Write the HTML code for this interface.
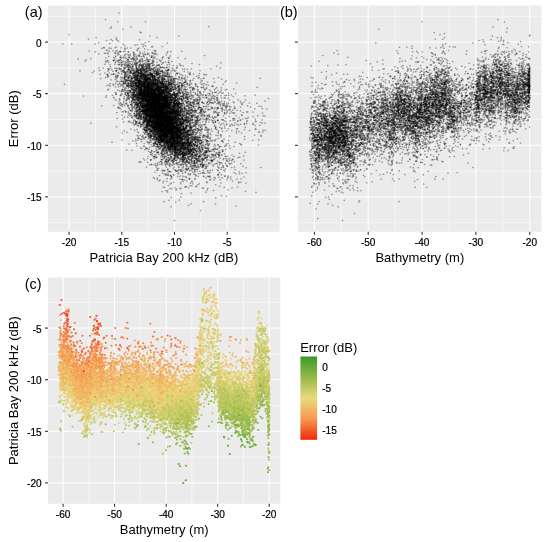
<!DOCTYPE html><html><head><meta charset="utf-8"><title>Figure</title><style>html,body{margin:0;padding:0;background:#fff}svg{display:block}text{font-family:"Liberation Sans",Arial,sans-serif;fill:#000}.t{font-size:10.1px;fill:#000;stroke:#000;stroke-width:.2}.l{font-size:13px}.p{font-size:14.5px}.g{stroke:#fff;fill:none}.k{stroke:#222;stroke-width:1;fill:none}.d{fill:none;stroke-linecap:round}</style></head><body><svg width="550" height="542" viewBox="0 0 550 542"><rect width="550" height="542" fill="#fff"/><rect x="48.0" y="5.6" width="231.7" height="226.2" fill="#ebebeb"/><path class="g" stroke-width=".5" d="M95.5 5.6V231.8M148.2 5.6V231.8M200.8 5.6V231.8M253.6 5.6V231.8M48.0 16.3H279.7M48.0 67.9H279.7M48.0 119.5H279.7M48.0 171.1H279.7M48.0 222.7H279.7"/><path class="g" stroke-width="1" d="M69.1 5.6V231.8M121.8 5.6V231.8M174.5 5.6V231.8M227.2 5.6V231.8M48.0 42.1H279.7M48.0 93.7H279.7M48.0 145.3H279.7M48.0 196.9H279.7"/><path class="k" d="M69.1 231.8v3M121.8 231.8v3M174.5 231.8v3M227.2 231.8v3M48.0 42.1h-3M48.0 93.7h-3M48.0 145.3h-3M48.0 196.9h-3"/><text class="t" x="69.1" y="246.3" text-anchor="middle">-20</text><text class="t" x="121.8" y="246.3" text-anchor="middle">-15</text><text class="t" x="174.5" y="246.3" text-anchor="middle">-10</text><text class="t" x="227.2" y="246.3" text-anchor="middle">-5</text><text class="t" x="41.7" y="46.5" text-anchor="end">0</text><text class="t" x="41.7" y="98.1" text-anchor="end">-5</text><text class="t" x="41.7" y="149.7" text-anchor="end">-10</text><text class="t" x="41.7" y="201.3" text-anchor="end">-15</text><rect x="298.0" y="5.6" width="243.5" height="226.2" fill="#ebebeb"/><path class="g" stroke-width=".5" d="M341.3 5.6V231.8M395.2 5.6V231.8M449.0 5.6V231.8M502.8 5.6V231.8M298.0 16.3H541.5M298.0 67.9H541.5M298.0 119.5H541.5M298.0 171.1H541.5M298.0 222.7H541.5"/><path class="g" stroke-width="1" d="M314.4 5.6V231.8M368.2 5.6V231.8M422.1 5.6V231.8M475.9 5.6V231.8M529.8 5.6V231.8M298.0 42.1H541.5M298.0 93.7H541.5M298.0 145.3H541.5M298.0 196.9H541.5"/><path class="k" d="M314.4 231.8v3M368.2 231.8v3M422.1 231.8v3M475.9 231.8v3M529.8 231.8v3M298.0 42.1h-3M298.0 93.7h-3M298.0 145.3h-3M298.0 196.9h-3"/><text class="t" x="314.4" y="246.3" text-anchor="middle">-60</text><text class="t" x="368.2" y="246.3" text-anchor="middle">-50</text><text class="t" x="422.1" y="246.3" text-anchor="middle">-40</text><text class="t" x="475.9" y="246.3" text-anchor="middle">-30</text><text class="t" x="529.8" y="246.3" text-anchor="middle">-20</text><rect x="48.0" y="277.6" width="232.3" height="226.2" fill="#ebebeb"/><path class="g" stroke-width=".5" d="M88.9 277.6V503.8M140.4 277.6V503.8M191.9 277.6V503.8M243.5 277.6V503.8M48.0 302.3H280.3M48.0 353.9H280.3M48.0 405.5H280.3M48.0 457.1H280.3"/><path class="g" stroke-width="1" d="M63.1 277.6V503.8M114.6 277.6V503.8M166.2 277.6V503.8M217.7 277.6V503.8M269.2 277.6V503.8M48.0 328.1H280.3M48.0 379.7H280.3M48.0 431.3H280.3M48.0 482.9H280.3"/><path class="k" d="M63.1 503.8v3M114.6 503.8v3M166.2 503.8v3M217.7 503.8v3M269.2 503.8v3M48.0 328.1h-3M48.0 379.7h-3M48.0 431.3h-3M48.0 482.9h-3"/><text class="t" x="63.1" y="518.3" text-anchor="middle">-60</text><text class="t" x="114.6" y="518.3" text-anchor="middle">-50</text><text class="t" x="166.2" y="518.3" text-anchor="middle">-40</text><text class="t" x="217.7" y="518.3" text-anchor="middle">-30</text><text class="t" x="269.2" y="518.3" text-anchor="middle">-20</text><text class="t" x="41.7" y="332.5" text-anchor="end">-5</text><text class="t" x="41.7" y="384.1" text-anchor="end">-10</text><text class="t" x="41.7" y="435.7" text-anchor="end">-15</text><text class="t" x="41.7" y="487.3" text-anchor="end">-20</text><text class="p" x="24.8" y="17.2">(a)</text><text class="p" x="279.9" y="17.2">(b)</text><text class="p" x="24.7" y="289.1">(c)</text><text class="l" x="163.8" y="262.3" text-anchor="middle">Patricia Bay 200 kHz (dB)</text><text class="l" x="419.8" y="262.3" text-anchor="middle">Bathymetry (m)</text><text class="l" x="164.2" y="534.3" text-anchor="middle">Bathymetry (m)</text><text class="l" transform="translate(18.2 118.7) rotate(-90)" text-anchor="middle">Error (dB)</text><text class="l" transform="translate(18.2 390.7) rotate(-90)" text-anchor="middle">Patricia Bay 200 kHz (dB)</text><defs><linearGradient id="cb" x1="0" y1="0" x2="0" y2="1"><stop offset="0" stop-color="#3b9a2a"/><stop offset=".25" stop-color="#95b947"/><stop offset=".5" stop-color="#ead97c"/><stop offset=".75" stop-color="#f79850"/><stop offset="1" stop-color="#ee2a0c"/></linearGradient></defs><text class="l" x="300.2" y="351.7">Error (dB)</text><rect x="300.4" y="356.5" width="16.7" height="83.3" fill="url(#cb)"/><text class="t" x="322.2" y="370.7">0</text><text class="t" x="322.2" y="391.8">-5</text><text class="t" x="322.2" y="412.8">-10</text><text class="t" x="322.2" y="433.9">-15</text><defs><marker id="m" markerUnits="userSpaceOnUse" markerWidth="12" markerHeight="12" refX="6" refY="6" viewBox="0 0 12 12" overflow="visible"><circle cx="6" cy="6" r="3.4" fill="#000" fill-opacity="0.38"/></marker></defs><g transform="scale(.25)" fill="none" stroke="none" marker-start="url(#m)" marker-mid="url(#m)" marker-end="url(#m)"><path d="M476 52l106 35-111 1-49-10 20 35 3-5 46 9 33-9 311-2-271 24-3-2-285 10 78 18 30-6 42 12 18-4 6 5 15-6 1-6 3 10 5 4 84-6 37 7 4-22 29 6 87-6-46 28-19 14-40 0-3 2-24-4-2-14-6 9-2 8-5-10-12 15-7-13-8 1-18 12-24-9-6-6-8 14-20-3-5 3-21-17-22 17-2-1-20-19-14 5-94 0-36-1 106 29 24 3 14 9 13-23 10 20 5 0 2-12 6-1 1 15 0-5 6-6 0-12 6 1 8 10 8 8 1 2 2-8 5-3 1 12 3-4 4-2 4-4 2 2 1 1 11-1 5-13 1 4 0 8 8-13 5 16 1-1 6 9 14-7 1 2 1 2 13-11 1-3 2-5 7 22 1-9 2 5 9 2 7-6 1-13 11 18 2-14 3 16 13-4 3 1 2 0 4-10 2 13 2-12 2 1 0 9 46-2 2-5 12 0 44-1 91 17-77 12-29-4-31-6-4 8-1 2-3-4-8-11-12 8-3 3-1 6-20-18-1 18-8-8-1-11-2 16-3-1-1-8-3 16-3-13 0-4-1 7 0-1-7-6-4 15-4-20-1 21-2-8-1 5-5-18 0-1-4 11-2-10-2 5-1 2-3 10-1 3-4-11-1 9-6-12-2 0 0-4-4 3-4 12 0 2-1-6-2-5-2-7-3 15-2-7-1 12-1-20 0 4 0 12-1 2 0-19-2 12-2 3-2 1-2 3-4-2-2-13-2 6-2 3-3-9 0 7-1 10-1-21 0 19-1 1-6-4-1-18-3 13-2-10-1 4-3 9-3-3-6 3-2-9-1 6-1 9-1-1-1-8-3 11-1-23-4 3-10 4 0 4-4 8-3-6-20-4-11 6-60 2-19 5-32-4 27 9 80 13 2-12 2 3 6-5 1-1 4 7 5 9 14-16 0 0 2-1 3 16 3-6 0-5 5-5 5 2 0 3 1 12 3-16 0 8 1 8 1 0 5-7 2-9 0 18 1-12 1 11 0-7 2 7 3-11 0-4 2 13 5 4 0-1 1-8 1-6 2 10 2 5 1-11 2-7 0 21 2-6 2 3 0-9 0 9 0-15 1 15 1-17 1 13 2 5 0-15 3 16 0-9 1-6 3 9 4 2 0-14 2 18 1-11 1 11 2-5 1-15 5 10 0-4 0 8 1-3 0 5 2-18 0 22 0-18 2 11 0 8 1-1 1-7 0-4 0 0 1 4 2-4 2-5 4 14 2-2 0 2 0-14 0-1 0-6 1 1 0 21 2-7 1 7 0-4 0-10 1-4 2 18 3-3 0 2 1-18 1 16 1-12 2 12 0-4 1 6 3-18 1 11 1 2 3 4 1-18 1 7 0 13 1-5 3-3 1 3 1-16 1 3 0 18 0-1 1-7 2-9 0 2 0 10 1 2 0-13 1 18 0-3 0-5 2 7 1-4 0-2 0-4 1-13 4 14 3-1 2 10 1-15 1 13 0-15 0 7 1 8 1-11 0-8 3 2 1 15 9 2 2-12 2 13 0-1 6 0 0-1 0-1 1-19 5 2 2 4 3 11 4-6 2 0 9-4 7 12 4-9 2-7 1 8 2 7 9-12 6 16 15 2 11-9 1 5 4 2 9 2 35-10 30 4 85-7-2 21-15-7-23 10-43 7-34-7-14 13-2-11-11-1-2 10-6-10-22-5-3 1-3 10-4 4-2-6-5 2-1-6-3-4-4 12-7-16-1 10-1 1-2 2-1 1 0-6 0 6-3-1-1-12-1 15 0-14-2 13-3-2-2-9-3-2-1 17-4-18-1 1-2 15 0-3-1 1 0 2-2 0 0-15-2 0-2 14-1-16 0 17 0-18-2 7-1 4-2 4-2-11 0 16 0-6-2 7-1-9 0-4-2 7 0-6-1 10 0-2-1 2-2 0-1-16 0-3-1 10 0 3-2 5-1-1-1 4 0-15-3-1 0-2 0 11-1 5 0-2-1-2-1-5-1-3 0 14-3-10-1-2-1 4-2-5-1 0 0 9-1-8-1-5 0 12-1-17-2 15-1 0 0-4-1-8 0 1 0 3 0 1-1 1 0-10-1 16-1 2 0 2-1-17 0 5-3-5 0 10-1 5 0-10 0 15-1-23 0 5 0 16-1-8-1 2 0-8 0 0 0 15-1-3 0-8 0-11 0 20-1-11-1 13 0-22-1 22 0-12-1 12-1-7-1-8 0 9 0 0 0-2 0-11-3-1 0 15-1-7 0 2 0 8-1 1 0-6 0-16-1 6 0 6-1 3-1-12 0 6 0 4 0-7-1 12-1-10 0-7 0 18 0-19-1 12-1-9 0 5 0 10-1 3 0-14-1 17 0-4 0-9 0 4-1 2 0 6-1-4-1 4 0-13 0 3 0 10-1-6 0 7-1-6 0-6-2 4-1-13 0 3-1 9-1 0 0-12 0 11-1 4 0-8-1 9 0 1-2 1-1-4-1-1 0 5 0-7-1-3 0 1-1-5 0 15 0-12-1 9 0-10 0 10 0-17-1 16-1-12 0 17-1-11 0 9-6 2 0-10-1 5 0 2-2-1-2-5-1 5 0-10 0-6-1 7 0-7-2 13-2-8-1 6-1 6 0-13-1 15-1 2 0-21-1 16 0 2 0-1-1-14-2-5-1 13-1-6-1 11 0-5-1-2 0-7 0 8-1-7-1 10 0-2-2-12-1 20-1-1-2-18-4 6-1-4-2 17 0 1-1-14-1 5 0-6-1 11-2-14-1 12-2 2-1 3-3-6-1-15-1 10 0 10-4-11-1 4-3-6-1 4-8 5 0-7-3-2 0 14 0-3-3-1-3-9-7 12-5-7-5-12-1 7-5 6-2-2-2 7-1-10-18-2-15 10-2-10-20 12-56-1 50 7 31 7 19-5 2 18 6-12 1 0 1 10 2-5 0-3 2 6 3-14 9 6 4-1 5 0 0-2 7 12 1-7 1 8 3-3 1 5 3-7 0-3 0 6 2-16 3 3 7 15 4-16 0 5 1 12 6-21 1 0 2 22 1 0 0-5 1-12 0 7 0-1 0 12 1-16 0 10 0-14 1 10 0-10 1 18 1-18 1 7 1 8 1-16 0 16 1-5 2-5 2 16 1-23 0 18 0-4 1-6 1 13 1 2 0-5 1 0 1-15 2 10 0-2 1 8 1-18 0 0 2 2 0 10 0-10 1 15 2-18 1 20 1-15 1 0 1 13 2-9 1-6 1 9 0-2 0 12 1-14 0 4 0-9 0 13 0-13 1 17 0-18 1 19 1-16 0 9 0 6 0 1 1-14 0-3 0 1 1 16 0-1 1-8 0 1 0-11 0 13 1 5 0-19 1 14 0-7 1 10 0-17 0 13 0 2 1-17 0 16 1-8 1 0 0 4 0 9 1-3 0 3 1-18 0 19 0-8 0 6 1 4 0-24 0 16 0-3 0 3 0-16 1 15 0 3 1-8 0 0 0-8 1 3 0 12 0-15 0 0 0 12 1-1 1-4 0 6 0 8 0-18 2 0 0 1 1-4 1 4 0 0 1 11 0 2 0 4 1-11 0 5 0 5 0-5 0-12 0 9 1 0 2-10 0 18 0-15 0 5 0 3 0 4 0 1 1-17 0 4 0 3 0 0 0 5 0-9 1 5 0 3 0-10 0 12 1-12 0 11 1 5 0 0 1-16 0 18 1-18 0 12 0-5 1-7 0 9 1-3 0 11 0-14 1 2 0 3 0 5 0-3 0-3 0 12 1-6 0-10 0 2 1 2 0 12 0-11 1 8 0-3 0-5 0-7 0 9 1-2 0-8 0-4 1 18 0 2 0 4 0-14 1 14 0-17 0 5 1 7 0-5 0-13 1 12 0 3 0-1 0 5 0-6 1 7 0-5 0-10 0 14 1-3 0 4 0-9 1-11 0 16 0 2 0 3 1-13 0 7 0 8 1-12 0-2 0 8 2-11 0 17 1-11 0 0 1 3 0-15 0 20 1-10 0 9 1-6 0 10 0-2 1-13 0 15 0-13 1 10 0-15 0 6 1 11 0 1 1-10 0-1 0 3 1 8 0-21 0 17 1-14 1 4 1 14 0-22 0 9 0-1 1-5 1 17 0-8 0-12 1 2 0 4 0 4 0 7 0-3 1-10 1 8 0 5 0-11 1 6 0-5 0 13 0-13 1-1 0-1 0 4 0 4 1-7 1 6 0-3 0-5 0 6 0 3 1 7 0 1 0-6 0 2 1 3 0-9 0 0 0 6 1-13 0 17 1-7 0-2 1 6 0 0 1 3 1-9 0-10 2 10 0-11 0 13 0 2 1-1 0 2 0 0 0 0 1-12 1 3 0 7 1 6 2-18 1 17 1-16 0 1 0 3 0-6 1 1 0 6 0-8 0-2 0 7 1 4 0-7 0 10 1-7 0 5 2-3 0 11 1 2 0-17 1-3 0 2 1 4 0 0 1 12 0 0 1-4 0-12 1 3 0 5 1 3 1 7 0-16 1-7 0 16 2-1 0-9 0 0 1 14 2 1 2-4 2-4 0-13 1 23 1-22 0 21 0-5 1-10 0-4 0 9 1 2 1 0 0 9 3-19 1 11 1 5 1-5 0-5 0 6 0-13 3 14 0-11 2 10 0-1 3-13 0 10 0-6 0 12 2-16 1 9 0 7 0 2 0-12 1 1 2 11 0-16 1 13 2 0 1 3 1-10 0 9 1-2 2 5 2-18 1 12 1 8 4-6 0 5 12-9 1-6 4-2 1-2 1 2 6 13 0-15 2 16 1 3 2-14 6 3 0 11 1 0 4-9 9 9 2-8 8 5 7-13 2 1 2-6 0 8 13-2 13 9 7 7 1-10 1 8 2-16 17 3 5 3 6-2 48 12 167 3-95 18-41-9-4 5-14-10-29 12-3-15-25 14-12 7-2-22-2 0-2 22-3-12-5 1 0-8-2 15-20 4-7-22-5 7-4 14-5-12 0 7 0-6-11 12-2-3-1-12-2 7-4-3 0-5 0 11 0-2-3 1-1-14 0 15-1-17-3 19-1 3-2-21-1 10-3 11-1-1-1-15-1 12-4-1-1 1-1-12-5-2 0 10 0 6-5-18-4-2-1 15-1-13-2 0 0 15-1-7 0-1-1-9-2 16 0-10 0-2 0 2-1 8 0-13 0 21 0-6-3-6 0 3 0 7-2 3-1-18-1 15 0-1-2-12 0 5 0-5-1 5 0 9 0 1 0 1 0-21-1 4 0 17-1-8 0-5-2 7 0 1-2 1-2-13 0 12 0-16-1 10 0 4 0 3 0 2 0-13-1 8-1 4 0-10-1-6 0 18-1-9-1-11-1 10 0 10-3-7 0-3-1-2 0 4 0 8-1-2-3-14-1 0 0 10-1-14 0 11-1 2 0-11-1 17 0-8 0-10 0 0-1 18-1-19-1-3-1 8-1 12 0-11 0 13 0-7-1-7 0 8 0-4-1 3 0 7 0-9 0 11-1-21 0 20 0-6 0-12 0 17 0-2-1-17 0 0 0 14 0-11-1 17 0-17 0 12 0-4 0 8-1-15 0 4 0 11 0 0-1-5 0 2-1-5-2 9 0 0 0-4-1-3-1-14 0 20 0-5 0 3-1-7 0 4-1-6 0-3-1 3 0 6 0 3 0 2-1-15 0-7-1 4 0 7 0-7-1 15-2-7 0-1 0 4 0 9-1-15 0-7 0-1 0 18 0-5 0 3 0-2-1 1 0-9-1 9 0-8 0 6-1-5 0 12-1 3 0-3 0-12-1 14-1-18 0 3-1 10 0-1 0 3-1-13 0-2 0 7 0-7 0 16 0-15-1 3 0 5 0 7 0-15-1 15 0-3 0-4 0 7 0 2 0-5-1-9 0-4 0 19 0-23 0 9-1 0 0-3 0-1-1 15 0-2 0-18 0 3 0-3-1 22-1-6 0-2-1-3 0 0 0-2-1 14 0-4 0-13 0 10 0-10-1 15 0 0 0-7 0 0-1 4 0-11 0-6 0 17 0 4 0-19-1 5 0 12 0-15-1-4 0 14 0-4 0 10-1-1 0 0 0 3 0-6-1-2 0-7 0 5 0 7-1-10 0 6 0-11-1 13 0 4 0-13-1 3-1-1 0-5-1-2 0 18-1-12 0-4 0 9-1 3 0-2 0-13 0 12 0-12-1 16 0-2 0-17 0 2 0 2 0-2 0 18-1-16 0 6 0 2 0-6 0 11 0-16-1 13 0-8 0-4 0 18 0-5 0-12 0 2-1-3-1 15 0 0 0-6 0 7 0-18-1 14 0 9 0-9-1-13 0 16 0-12 0 13 0-17 0 20 0 0-1-3 0-2-1-13 0 19 0-10 0-3 0-1 0 13-1-17 0 17 0-15 0 2 0-8 0 5 0 16-1-22 0 1 0 5-1 10 0-8-1 0 0 9 0-4 0 3 0-9 0 5-1-7 0 18 0-16-1 0 0 6 0-9 0 14 0 1 0-18 0 7-1 8 0-16 0 22-1-14 0-5 0 20 0-10-1-6 0 8 0-1 0 1-1-10 0 10 0-7 0 7 0 3 0-10 0 16-1-19 0 10 0-11 0 11 0-11 0 3-1 8 0-3 0-10 0 5 0 16-1-1 0-8 0-5 0 13 0 1 0-8-1-5 0-1-1-4 0 1 0-5 0 17-1 0 0-13 0 11 0-13 0 18 0 2-1-14 0 12 0-14 0 8-1 3 0-5-1-8 0 14 0 3 0-5-1-6 0 6 0-4-3-12 0 12 0 4 0 5 0-8-1 7 0 3 0-22 0 18 0-15 0-1-1 17 0-18 0 12-1 0 0-15 0 16-1 7-1-14 0 5 0-2 0-1 0 1-1 9 0-19 0 9-1 12 0-8 0 7 0-3 0-11 0 12-1-8 0 0-1 9 0-11 0-4 0 0 0-2-1 8 0-9 0 21 0-6-1-8 0 2 0-2 0 0 0-9-1 17 0-6 0 12 0-6 0 0 0-1 0-17 0 20-1-8 0 1 0 11-1-12 0 6 0-2 0 7 0-5-1-6 0 3 0 7 0-16 0 4 0 0-1 12-1-21 0 5 0 6 0 9-1-10 0-5 0-1-1 6 0 5 0-12 0 14-1-17 0 20 0-19 0 9 0-3-1 10 0-17-1 21 0-19 0 0 0 20-1-3 0-10 0 0 0 9-1-10 0 3 0-4 0 16 0-4-1-2 0-16-1 20 0-3 0-14 0 17 0-16-1-1 0 17-1 0 0-7 0 5-1-8 0-9 0 17 0-1 0-13 0 2-1 13 0-12-1-9-1 20-1-10 0 4-1 1-1 0 0-4-2 5 0 7 0-3 0-19-1 15 0-1 0 8-1-4-1-17 0 14-1-14 0 5-1 1 0 4-1-9 0-3 0 1 0 2-1 12 0 4 0 4-1-1 0-11 0 0-1 7-1-3-1-8-1 8 0 8 0-13-1 2-1-12-3 8 0 15-1-4 0-9 0-1 0 11-1-18-1 20-2-2 0-10-1 1 0-2-2-4-1 5-2 12 0-8 0-4-1 6 0-10-1 6-1-8 0 14 0-8-2 13 0-2-1 0 0-15 0-2-1-4-2 15 0 6 0 1-1-5 0-5-1 10-2-22-1 15-2-8 0 5-3 2-2-11 0 10-4 9-2-6-7-4-4-9 0 11-4 8-1-16-17 1-3 15-38-20-145 23 170 5 4 18 2-4 1-16 5 4 12-7 2 4 8 6 9-9 3 0 0 9 8-3 2-6 2 2 3 19 0-2 2-11 1-7 0 0 0 19 2-10 3 11 2-6 0 7 3-10 2 5 2-14 1 2 0-5 0 8 2-4 2 2 1 1 0 0 1 7 0-16 0 4 1-1 1 6 1-5 0 9 4-7 0 7 1-6 1-1 1 1 1-3 0 11 1-6 0-9 0 8 1 4 0 7 0 5 0-7 0-11 0-6 3 20 0 1 0-12 1-5 0 5 0 6 1-7 1 8 0 5 0-12 1 13 0-20 0 4 0 3 1-7 1 12 0-8 0 12 1 4 0 1 1 1 0-12 2 0 0-7 0 9 1-14 1 19 0-13 0 1 1 14 0 2 0-17 1-5 0 15 0-12 0 5 2 8 0-1 0-10 0 12 1-7 0 10 0-12 0 7 0-12 1 13 0-9 0-1 0 14 0-5 1-12 0 14 1-13 0 8 0-7 0 0 0 2 1 1 0 9 1-11 0 3 1 3 0-3 1 12 0-13 0-3 0 18 0-7 0-9 1 4 0-5 0 2 0-6 1 10 0-4 0 0 0 2 0 8 1 0 0 3 0-6 0-14 0 12 1-3 0 9 0-17 0 5 0 8 1-14 0 3 0 6 0-9 0 19 1-1 0-7 0 1 1-10 0-3 1 10 0 9 1-5 0-2 0 8 0-8 0 8 0-21 0 13 1 3 0-1 0-11 0 16 0-7 1-10 0 20 0-3 0-19 0 5 0 0 0 12 1-15 0 7 0 11 0-1 0-1 1-11 0-3 0 19 0-18 0 8 1 5 0 2 1-16 0 8 0 7 0-9 1-11 0 9 0-3 1 16 0-19 0 11 0-4 0-3 1-4 0 5 0 9 0-6 2 2 0-12 0 19 0-12 0-4 0-1 1 4 0 15 1-4 0-16 0 5 0-6 0 21 0-22 0 8 0-7 1 3 0 0 0-2 0 2 1 7 0-8 0-2 0 13 0-1 0-6 0 12 1-3 0 6 0 0 0-14 0 2 0 6 0-6 1 2 0 9 0-13 0 11 0 2 0-5 1 1 0 6 0-16 0 3 0 4 0 6 1-18 1 8 0 3 0-12 0 14 0-6 1 1 0 1 0 12 0-14 0-9 0 13 1 2 0 8 0-16 1-2 0 7 0-4 1 15 0-7 0-10 0 11 0-1 1 2 0-9 0 5 0 4 0-1 1 1 0-4 0-10 0 1 0-4 1 15 0-8 0-5 0 17 0 3 0-6 0 1 0-17 1 22 0-22 0 1 0 12 0-6 0 6 0 6 0-7 0 7 1-18 0 10 0 2 0-14 0 15 0-3 1-3 0-2 0-3 0 11 0-10 0-4 1 8 0 2 0 0 0-2 0 3 0 12 1-22 0 12 0 5 0 4 0-19 0 0 0 2 0 5 0-3 0-7 0 10 0 8 0 1 1-15 0-1 0 3 0 17 0-20 0 17 0 2 0-14 0 10 1-12 1 0 0 16 0-5 0-13 0 12 0 4 0-19 1 17 0-2 0-2 0 6 0-2 0-10 0-6 0-1 0 0 0 22 0-14 0 11 1-18 0 4 0 7 0 8 0-12 1 9 0-13 0 11 0-5 0-10 1 14 0 7 0-8 0-9 1 4 0 3 0-5 0 9 0-12 0 11 1-15 1 0 0-1 0 18 0 4 0-17 0 16 0 0 0-15 0 6 1 7 0-13 0 3 1 13 0-3 0-17 0 5 0 10 0-1 1 1 0-4 0 9 0-5 0-3 0-5 0-4 1-2 0 6 0-8 0 1 1 16 0-1 0-1 0-1 0 5 1-7 0 9 0-2 1-20 0 17 0 7 0-20 0 1 0 0 1-1 0-3 0 18 0-9 0 1 0 1 0-8 0 4 1 1 0 12 0 1 1-1 0-7 0 10 1-2 0 2 0-13 0-1 1-5 0 16 0-20 1 8 0 5 0-2 1 9 0-19 0 3 0 8 1 7 0 0 0-11 0-6 1 19 0 0 0-18 1 16 0-12 0-4 0 15 0-3 1 1 0-11 0 1 0 10 0-11 0-5 0-1 1 21 0 1 0-5 0 4 0-18 0 13 0-15 1 22 0-15 0-6 1 9 0-7 0 16 1 2 0-13 0 12 0 3 0-20 0 12 1-3 0 4 0 2 0-11 1 3 0-5 0 6 0 2 1 3 0 4 0-9 0-11 0 0 0 15 1 7 0-19 1 7 0-9 0 3 0 13 0-18 0 1 0 15 1 4 0 3 0-12 0 10 0-12 0 13 0-20 1 0 0 2 0 7 0 3 0 6 0-4 0-4 1 7 0-8 0-7 0 8 0-3 0 6 1-11 0 11 0 9 0-5 1 1 0-6 1 9 0-3 0-9 0 5 1 5 0-7 0 2 0-3 0 4 1-13 0 4 1 0 0-3 0 11 1-4 0-2 1 10 0 2 0-7 0 4 0-7 0-4 1 13 0-9 0 11 0-6 1 2 0-5 0-7 0 7 0-14 1 13 0-12 0 16 1-5 0-12 1 23 0-1 0-3 0-7 1-2 0-3 0 7 0 0 1-9 0 7 1 1 0 0 0-8 0-1 1-2 1-1 0 9 0 14 0-18 0 16 1-21 0 6 0 14 0-6 1-8 0-7 0 13 0 0 0 8 0-19 0 20 1-7 0-13 0 7 1-6 0 6 0 14 0-10 1-6 0-2 0 14 1-9 0 4 0 3 1-17 0 23 1-10 0 3 1-12 0 18 0-11 0 12 0-6 1-7 0-3 0 3 0-9 0 17 1-9 0-7 0 3 1 17 0-10 0 5 0 4 0-10 1 5 0 6 0-18 0 3 0 7 1-1 0 3 0-10 0 8 1 8 0 0 0-8 1 5 1 2 0-12 0 8 1-4 0-3 0 5 0 2 0 5 1-3 0-4 0-11 0 11 0 2 0-2 1-7 0-3 0 5 0 10 2-17 1 17 0-15 1 9 0-14 0 19 0-16 0-1 1 5 0-6 1 19 0-9 1-1 1 4 2 4 0 5 1-20 0 13 0-14 0 21 1 1 0-6 0-12 1 18 0-21 0 15 0 0 1-10 0-2 0 5 1-10 2 11 1 3 0-2 1 3 0-7 1 14 0-2 0 2 2-22 1 21 1-14 0 13 0-9 1-11 0 20 2-19 1 18 0-15 0 8 0 2 1-4 0-4 1 15 0-17 0 12 2-1 1 1 1 0 1-15 2-2 1 10 1-3 1 5 0 3 1-2 1-3 0 12 1 1 0-20 0 19 1-14 0 1 0 8 1-9 0 12 2-2 0-12 0 16 1-8 2 9 3-5 1 4 0-12 0 3 1-6"/><path d="M727 340l2 4 0-4 0 1 2 2 1 9 2-11 4 17 0-13 1-7 0 19 1-9 1 8 4 2 1-10 1-11 3 21 2-18 6 3 1-7 0 15 1-13 1 12 5-2 4 8 1 4 1-6 0-4 2 5 0-4 0 8 5-4 4-11 0-5 1-1 6 9 0 11 1-11 15-10 0 13 0 0 6-1 2-6 1 9 3 6 3 0 4-4 1-15 1 12 6-10 5 19 11-14 0-3 4 2 5 13 5-4 4-4 18 1 8-14 9 23 5-3 28-1 94-7-9 31-41 3-36-9-17 5-11 2-1-8-8 8-6 1-7-10-6 1-2-13-1 23-1-16-5 3-5 5-1-13-4 20-4-12 0-1-5 0-5 13-4-12 0 5-7-11-2 18-2-9-1 4-5 6-1-9-8 6-1 0-1 2-7-15-3 13-1-1-7-2-1 6 0-11-3-6 0 5-1-2-2 11-5-20 0 5-1 17 0-9-1 5-2 3-6-5-1 0 0-6-8-1-1 15 0-2-5 1-1-5-2-8 0 13-2-22 0 6-1 9-6-4-2 7-1-9-1 7-2 6 0-14-2 8 0 1-1-4-1-10-1 17 0-1-1-11-2 4 0-9-3 12-2-2 0 8-1-16-1 9 0 6 0-21 0 20-1-2-1-8-2 1 0 12-1-11-1-6-2-3-3 8-2 0-1 2 0 0-1-10 0 18-1-8 0-9-2 8-1-8 0 2 0 17 0-12-1-4-1 9 0 7-2-12 0 5 0 8 0-18 0-5-1 15-1 1-1 7 0-10 0 6 0-8-1 7 0-18-1 19-1-4 0 4 0-6 0 8-1-6-1-12-1 13 0 6 0-4-2 4-1-9 0 0-1 7 0-10 0 7-1-11 0 13 0 0 0-6-1-4 0 1 0 8-1-7 0-6-2 10 0 4-1-1-1-18 0 19 0-1-1-1 0-5 0 5 0 1-3 2-1-19 0 18-1-16-1 20 0-19 0 11 0 3-1 4 0-2-1-19 0 11-1 3 0-12 0 18 0 1-1-18 0 10 0 4 0-18 0 22 0-8 0-1-1-7 0 9-1-10 0-5-1 3 0 13 0-12 0 6-1 1 0 7-1-8-1-10 0-1 0 12 0 4 0-8 0 0-1 10 0 5 0-10 0-3 0-2-1 5 0-9 0 15 0-9 0 13-1 0 0-17-2 11 0 5-1-6 0-10 0 9 0 6 0-21 0 9-1 13 0 1 0-10 0-4 0-6 0 4 0 15-1-16 0 3 0-7-1 8 0-6 0 18 0-20 0 2 0 4-1 12 0-12 0-2 0 7 0-13 0 18 0 5-1-2 0-4-1 3 0-12-1 14 0-3 0-9-1 1-1-10 0 17 0-2-1-4 0 10 0-18 0 17-1-11 0-5 0 3 0-7 0 21 0-17 0 11-1-11 0 12 0-8 0 3 0 1 0 9-1-20 0 4 0-4 0 3 0 11-1-6 0-8 0 9 0 3-1-2 0-4 0-7 0 12-1-2 0-10 0 22 0-11 0-4-1 3 0 0 0-8 0 2 0 2-1 3 0 10 0-15 0 14 0-5 0-7-1 3 0-8 0 14 0-15 0 6 0 13 0-11 0-4 0-2-1 14 0-14 0 19 0 0-1-7 0-6 0 11 0-7 0-11 0 12-1-12 0 20 0-13 0 3 0 6 0 5 0-3 0-7-1-1 0-2 0 10 0 3 0-11 0 3-1-15 0 20 0-11 0 2-1-2 0-5 0 16 0-8 0 0 0-1-1-9 0 13 0 7-1 1 0-17 0-6 0 6 0 13 0-1-1-3 0-7 0 13 0-12 0 2 0 6 0-11 0 14 0-19 0 9-1 11 0-6 0-3 0-3 0-9 0 13 0-7 0 6-1-6 0 8 0-7 0 16 0-17 0 14-1-8 0-11 0 4 0 5-1-8 0 11 0 3 0 1 0-17-1 7 0 7 0 8 0-3 0-1 0-8 0-7-1 18 0-19 0 17 0-9 0 9 0 3 0-17 0 13 0 1 0-5-1 6 0-14 0 1 0 12 0-6 0 7 0-2-1-15 0 2 0-4 0 7 0 5-1 11 0 0 0-4 0 2 0-20-1 14 0-12 0 18 0-6 0 7 0-20 0 3 0-1-1 12 0-7 0-2 0 7 0-10-1 9 0 10 0-10 0 0 0 7-1-20 0 15 0 7-1-23 0 23 0-4 0-5 0 4 0 5-1-10 0-11 0 4 0-4-1 18 0 0 0-4-1-2 0 10 0-19 0 17 0-7 0-7-1 14 0-12 0-9 0 5 0 5 0 7 0-9-1 12 0-10 0 10 0 1 0-7 0 0 0-4 0 6 0 5 0-5 0-10 0 8-1-6 0 11 0-18-1 0 0 19 0-17 0 13 0-9 0 6 0-13-1 12 0-4 0 14 0-5-1-4 0-12 0-1 0 9 0-2 0 15 0 0 0-12-1-6 0 2 0 4 0 6-1 2 0-15 0 6 0 3 0-8 0 1 0 8 0-2 0 10-1-4 0 2 0-19 0 6 0-6 0 18 0-10 0 4 0 4 0 4-1 2 0-14 0 14 0-21 0 18 0-19 0 5 0 11 0-3 0 7-1 0 0-21 0 13 0 2 0-13 0-1 0 13 0 2-1-5-1-2 0 15 0-13 0 9 0-2 0-5 0 11-1-6 0-16 0 8 0 7 0-8 0-6 0 8-1 4 0 2 0-10 0-6 0 23 0-11 0-10 0 18 0-17-1 6 0-7 0 5 0 2 0 5 0-6 0-6 0 14-1 4 0-19 0 13 0-9 0 5 0 11 0-14-1 8 0 0 0-16 0 1 0 12 0-2 0 5-1-2 0 6 0-13-1-2 0 11 0-11 0 7 0-12-1 11 0 3 0 10 0-4 0-8 0-2-1 9 0-4 0-13 0 11 0 11 0-23 0 9 0 13 0-16-1 8 0 8 0-20 0 6 0 7 0-7 0 10 0-14-1 17 0-5 0-6-1-4 0-7 0 5 0 12 0-2-1-5 0 5 0 0-1-10 0 6 0 4 0-3 0 6 0 5 0 1-1-19 0 15 0-18 0 8 0-1 0 12 0-14 0 15 0-16-1 13 0 2 0-9 0 0 0-6-1 7 0 2 0 9 0-19 0 14 0-7 0-9 0 10-1 2 0-7 0 1 0 9 0 2 0-6-1-8 0 0 0 16 0-12 0 11 0-14-1 13 0-2 0-14 0-4 0 7 0-2-1 10 0 1 0-6 0-7-1 4 0-6 0 12 0-9 0 1 0 12-1-6 0-9 0 10 0 9 0-12 0 10 0 4 0-14 0 12-1-21 0 3 0-3 0 8 0 4 0 6 0 4 0-20 0 10 0-1-1 5 0 4-1-17 0 1 0 14 0 2 0-9 0 0 0 1-1-7 0-2 0 14-1 3 0-10 0 11 0-2 0-10 0-7 0 13 0 5-1-18 0 5 0 13 0-1 0-6 0-6 0-2-1 16 0-17 0 1 0 15 0-17 0 16 0-2 0 4 0-18-1-3 0 14 0-1 0-3-1 1 0-9 0 3 0 12 0-16 0 15 0-10 0 16 0-18-1 9 0 4 0-13 0 19 0-1 0 0 0-20 0 12 0 1-1-15 0 3 0-3 0 19 0-11 0 13 0-12 0 12-1 3 0-7 0-5-1 0 0-10 0 11 0 7 0 3 0-11 0-1 0-4-1 2 0 6 0-6 0 13 0-2 0-14 0 16 0-4-1 3 0 0 0-19 0 10 0-1-1-7 0 20 0-11-1 10 0-8 0-2 0-10 0-2-1 3 0 15 0-7 0 10-1-11 0-3 0 14 0-17 0 6 0 7 0-5-1-9 0-4 0 10 0 13 0-11-1 11 0-1 0-5 0-7 0-2 0 4 0-12 0 13 0 1-1 0 0-5 0-6 0 7 0 1 0 10 0-4 0-5 0-2-1 10 0-4 0 6 0-7 0-14 0 3 0 0 0-3 0 14-1 4 0-10 0-6 0 8 0 9-1-13 0-2 0-4 0 5 0 8-1-10 0 2 0 15 0-9 0-5 0 8 0 5-1-3 0 3 0-17-1 1 0 11 0-13 0 16 0-1 0-6 0 8 0-7 0-10-1 17-1-4 0 2 0-6 0 13 0-18 0 15 0-9 0 5 0 4-1-2 0-17-1-1 0 3 0 6 0-9-1 12 0-1 0-3 0 3 0 8-1-1 0 2-1-3 0-1 0-12 0 6 0 0-1 6 0 7 0-4-1-12 0-6-1 9-1 11 0-17-1 11-1-6 0 4 0-13 0 19 0-16-1 4 0 10 0 6-1-7 0-13 0 16-1-19 0 18-1 4-1-5 0-16 0 16 0 3-1-12 0-2-1 17-1-21 0 16-1 1 0-11-1-6 0-2 0 10 0 8 0-7 0-7 0 10-1-9 0 14 0-1-1-8 0-2 0 4 0 0-1 6-1-3 0 0-1 5-1 1 0 1 0-13-1-8 0 20-1-13 0 1-1 7 0 2-3-3-1-6-1-7-1 2 0-2 0 1-1 0-1 18-1-11-1-10-1 21 0-13-1 14-1-8 0-13 0 20-2-9 0 2 0 1-1-14 0 14 0-7-1 15-2-12 0-6-1 16-1 0-3-13 0-8-1 14-1 3 0-3-1-7-6-3-4-1-1 13-2-13-1 1-1 7-1 10 0-3-3 3-3-19-7-3-6 17 0 0-2-3-1-4-12 11-24 2-92 1 89 5 31 0 4 5 6 7 12 3 2-9 2 3 15 6 1-11 1 2 0-9 8 16 0-1 2-2 2-5 0-3 2 5 3-7 0 0 1 7 1 0 1-1 4-6 1-2 3-2 1 19 1-11 0-4 0 19 1-17 0 16 0-4 2-8 1 0 0 6 0-12 1 8 0 5 0-13 0 6 1-7 1-3 0 12 0-6 1 8 1-1 0-13 1 3 1 13 0-16 1 16 0 3 0-11 1 5 0-11 0 3 2 7 0-11 1 22 0-22 1 12 0-10 0 16 0-18 1 10 1-2 0 1 2-5 0 3 0 0 0-5 1-4 0 23 0-4 0-19 1 16 0-3 0-9 1 13 0 0 0-13 1 11 0 4 0-14 0 2 0 6 1-7 0-1 0 1 0 2 1-4 0 1 0 13 0-3 1-8 0 4 0 11 1-14 1 10 0-11 0-3 1 6 0-4 0 9 1-13 0 19 0-10 0-2 0 13 1-3 1-19 0 16 0-6 1-9 0 10 0-3 0-3 0 18 1 1 0-1 0-11 1-3 0 2 0 3 0-8 0-6 0 24 0-15 1 12 0-7 0-13 1 0 1 11 0-3 0 8 0-5 0-2 0-7 0 5 1-3 0 15 0 2 0-11 1-10 0 14 0 8 0-14 0 10 1 4 0-19 0 16 0-20 0 15 0-11 1 6 0 12 0-17 0 6 0 9 1-7 0 7 0-6 0-9 0 5 1 6 0-9 0 7 0-5 0-6 0 9 1 1 0 4 0 1 0 2 1-11 0-9 0 8 0 0 0 9 1-13 0-4 0 5 0 13 0 6 0-19 1 16 0-12 0 1 1-3 0 2 0-8 0 13 1 8 0-8 0-12 1 14 0-14 0 18 0-1 0-17 1 14 0-5 0-7 0-4 0 21 0 2 0-13 0 3 0-6 1 3 0-2 0 4 0-12 0 3 1 19 0-22 0 3 0 10 0 7 0-6 0-1 1 0 0 7 0-10 0-1 0 8 0 2 0 2 1 2 0-3 0-7 0 0 0 1 0-3 0-8 0 16 1-16 0 2 0 9 0 7 0-6 0-8 0 9 1-15 0 10 0 7 0-8 0 4 0 7 0-8 0-1 1 7 0-19 0 23 0-18 0 10 0-14 1 14 0 8 0 0 0-19 0-2 0 11 0-6 0-2 0 11 0-4 0 7 0-19 1 6 0 12 0 3 0-18 0 8 1 4 0-11 0 12 1-14 0 12 0-12 0 20 1-3 0-2 0 7 0-23 1 7 0 14 0-15 0-4 1 19 0-5 0-1 0-5 0 9 0 0 0-20 0 12 0-6 0 14 1-18 0 13 0 0 0-10 0-3 0 3 0-3 0 14 0 6 0-9 0-11 1 3 0-1 0 2 0 4 0-3 0 10 0-4 0 1 1 7 0-9 0-9 0 5 0-7 0 10 0-5 0 11 0-13 1 10 0 1 0-5 0-5 0 0 0-3 0 16 0-16 0 2 1 19 0-7 0 5 0-5 0 8 0-11 0-10 0 5 0 4 1 4 0-11 0 9 1-8 0-2 0-1 0 12 0 4 0-5 0-1 0 3 1-4 0 0 0-10 0 12 1-13 0 7 0 14 0-15 0 2 0 2 0-10 1 21 0 1 0-19 0-3 0 21 0 1 0-2 1-6 0 4 0-5 0-3 0-3 0-4 0 15 1-9 0-5 0 4 0-4 0 11 0 0 1 2 0 0 0-7 0 1 0-6 0 11 0-16 0 5 0 1 1 15 0-22 0 14 0 3 0-3 0 8 0-7 0-13 0 21 0-21 1-2 0 5 0 4 0 7 0-1 0-1 0-2 0-2 1-5 0 0 0 3 0 4 0-7 1-3 0 14 0 0 1 5 0-7 0 7 0-2 0-9 0 3 0-1 0-10 0 10 0 11 0-15 0 8 1-2 0-2 0 11 0-19 0 14 0-6 0-1 0-10 1 1 0 18 0-10 0 13 0-16 0 8 0 3 0-3 0 8 0-16 1 6 0-13 0 16 0-16 0 16 0 2 0-17 1 17 0-11 0 0 0-6 0 14 0-11 0 16 0-1 1-9 0 5 0-1 0-2 0 10 0-3 1 3 0-3 0 5 0-15 0 8 0-14 0 20 0-4 0-4 0 9 1-19 0 0 0 4 0-8 0-1 0 4 0 11 0-6 0 5 0 2 1-10 0 15 0-6 0 1 0 3 0-1 1-17 0 7 0 16 0-16 0-4 0 13 0-14 0 16 0-10 0-8 0 11 0-10 0 7 0 7 1-8 0 9 0 5 0-21 1 2 0 6 0 2 0 5 0-2 0-8 0 1 0 16 0-3 0-12 0-4 0 11 0-3 0 3 1 8 0-15 0 7 0 4 0 2 0 1 0-8 0-4 1 2 0 9 0-2 0-6 0 6 0-16 0 18 0-20 0 8 0-8 0 8 1 10 0-15 0 15 0-13 0 9 1-6 0-1 0 1 0 11 0-1 0-10 1-7 0 10 0 7 0-1 0-10 0-5 0 2 0 3 0 9 0 4 1-16 0 13 0 6 0-21 0 5 0-7 0 12 0-8 1 5 1 5 0-14 0 15 0 4 0-9 0-3 0 13 0-16 1-3 0 16 1-4 0 5 0-1 0-12 0 9 0-5 1 3 0-11 0 17 0-9 0-3 0 14 0-2 0-6 1 10 0 1 0-23 0 13 0-8 0-4 1 16 0-2 0 2 0-7 0-10 0 15 0-5 0 1 0-3 0 4 1 8 0-7 0-14 0 8 0-2 0-1 0-3 0 6 0-3 0 0 0 18 0-5 1-8 0 6 0-2 0 3 0-1 1-13 0 21 0-11 0-7 0-5 0 15 0 1 0 0 0-12 0 8 1-6 0 15 0 1 1-23 0 19 0 0 0 5 0-22 1 9 0 9 0 1 0-12 0 6 0-11 0 2 1 7 0 1 0-9 1-5 0 6 0 5 0-3 0-1 0-6 0 10 1 6 0-7 0 11 1-16 0 13 0-15 1 15 0 4 0-21 0 7 0 3 0 2 0-6 0-5 1 17 0-17 0 16 1 4 0-8 0-11 0 10 0-2 0 4 0-2 1 0 0 5 0-1 0 1 0-3 0-3 0-10 1 15 0 7 0-17 0 10 0-5 1 4 0-10 0 1 0 0 0 11 0-15 0 9 0 0 0 6 1 2 0-2 0-2 0 0 0 5 1-5 0 3 0-15 0 13 0-7 0 8 0 1 0-12 0 2 0-7 0 1 1 3 0 3 0 7 0-10 0 14 0-1 0 5 0-23 0 2 0 6 1-3 0-2 0 11 0 7 0-20 1 19 0-15 0 8 0-12 0 7 0 5 0-7 1 12 0-16 0 17 1-13 0-1 0 13 0-7 0 5 0-4 1-6 0-1 1-2 0 10 0 8 0-3 0-9 0-5 0 17 0-11 0 6 1-11 0 13 0-17 0 5 1 14 0-20 0 11 0-9 0 13 0 7 1-8 0-8 0 0 0-1 0 14 0-13 0 12 0 0 0-18 0 14 1 4 0-10 0 3 0 10 0-10 0 1 1-8 0 9 0 8 0-13 0 11 0-7 1 2 0-8 0 14 1-9 0 4 0-9 0 3 0-8 1 3 0 10 0 4 0 2 0-3 0-16 0 5 1 8 0-10 0 14 0-1 0-12 1 1 0 9 0-2 0 3 1-10 0 7 0 3 0-16 0 11 0-8 1 16 0-13 0-2 1-1 0 1 1 4 0 8 1 0 0-11 0-1 0 19 1-15 0 9 0-12 1-2 0 18 0-9 0 10 1-22 0-1 0 5 1 1 0 11 1-1 0-8 0 15 0-9 0 2 0-3 0 2 0-7 1 8 0-4 0 7 1-12 0 5 0 3 0-14 0 5 1-3 0 18 0-18 0 20 2-9 0 3 0 0 0-4 0 1 0-9 1-3 0 15 0-12 1-1 1 18 1-13 0 0 0 10 0-6 0-9 1 3 0-2 0 8 1 5 0-3 1-8 1 2 0 13 1 1 0-8 2 0 0-9 0 8 0-9 0 13 0-3 0-7 1 14 0-4 0 4 1-16 0 14 0-3 0-8 0-9 0 1 0 20 1-14 0 0 1-7 0 10 0-3 0 6 0 5 1-14 0 13 0 0 0-14 1 15 0-16 0 14 1 7 0-20 1 3 1 11 0-3 0-11 1 18 1-12 1 9 0-1 0-9 1 12 0-8 1 2 0 9 2-12 0 9 0 3 1-12 1 5 0-12 1 20 0-11 1-5 0 1 1 3 2-7 2-4 1 13 1-3 0 3 1-3 0 3 0-13 0 2 0 7 0 12 2-4 0-5 0 3 1 0 0-15 0 1 2 1 1 19 2-15 0-4 0 5 0 8 1-5 0-4 4 14 2-13 1 10 0-15 0 7 1-4 1-2 0 16 1-17 1 2 1 19 0-14 1-6 2 8 0 2 1-7 0 4 0 2 0 10 0-16 1 14 1-16 0 14 3-16 2-1 0 20 1-22 2 10 1 1 3 1 3-5 5 17 0-10 1-9 1 15 3-1 0-4 1 2 3-4 2 9 2-9 0 3 2 4 0-12 3 9 0-4 0 6 5-14 0-4 1 14 1-3 0 9 1-14 1 9 3-5 7-6 6 1 9 1 0-2 4 2 3 14 2-5 2-6 2 11 3-9 0 5 4-1 2-6 0-9 2 5 5 5 2-11 0 8 2 6 2-12 0 20 5-12 3-3 1 8 0 3 0-12 1 12 1-7 5 11 10-2 0-12 11-2 1 17 3-14 12 0 5 7 15-14 0 21 19-8 9 6 21-5 78 4 14-10-29 31-9 0-9-12-25 15-4-16-8 11-15-14-6 6-1 3-4-7-2 17-24-2-1-15-14 16-5-1-4-13-2 7-3 5-2-13 0 19-1-12-1 8-1 4 0-7-3 2-4-12 0 6-2 1-1-6-2 8-2-7-2 16-5-10 0-10-2 7-3-9-1-1-1 6-3-5-1 21 0-16 0 17-3-2-1-16-7 17-2-22-5 4-4-3-1 22-1-20 0 18-2-20-1 17-1-17-5 0-2 5-4 10-1-7-2-9-2 1-1 5-1 13-3-3-7 0 0-13-2 15-1-14-4-3 0-1-1 0-3 23-2-2-1 1-4-12-1 11-1-1 0-1 0-18 0 20-2-15 0 9 0-12-1 3 0-2-2-3-1 4-3 12 0-10-1-2-5 6-1 6-2-17-2 1 0 4 0 2-1 11-1 0 0-8-2-4 0 10-1-14 0-3-1 16-2-12-2 17 0-7-1 0 0 0-2-5 0-8 0 11-1-12-1 22 0-19 0 10-1-9 0 4 0 14-2-14-1 12 0-10-2 13-1-15-1 6 0 3 0-16-3 16-1-10 0 8-1-8-1-6-1 16 0-14-1 0-1 12-4 9 0-1-2-5-1 5 0-13-1 3 0 8-3-16-1-3 0 5-1-2-2 8-1 1 0 3 0 3-1-12-1-1-1 17 0-9 0-10 0 3-1 0 0 14-2-3 0-4 0-8-1 14 0 0-1-14 0 1-1 8 0 5 0-9-1-7 0-2 0 2-1 19 0-21-1 6 0 13 0-18 0 12-1-6 0 5 0-12 0 1 0 0-1-2 0 4 0 16 0-6-1-5 0 9-1-9 0-3 0 10 0-6-1 0 0 4 0-5 0 4-1-7 0-6-1 4 0 4 0 0 0 0 0 5 0 8-1-6 0 5 0-6 0-7 0-2 0 10 0-15 0 4-1-2-1 2-1-1 0 13 0-16-1 12 0-7 0 0 0-2-1 0-1 10 0 4-1-8 0 3 0-2 0-5 0 16-1-11 0 8 0-12-1 13 0-5 0-3 0-2 0 8-1 4 0-15 0 9 0-15-1 17 0-9 0 0 0 7 0-10 0 8-1-13 0 3 0 1 0 12 0-18 0 24-1-22 0 2 0 9 0-8 0 0 0 11 0-9 0-7-1 17 0-1 0-7-1 5 0 4-1 4 0-20 0 12 0 7-1-6 0 4 0-1 0 1-2 5 0-22-1 9 0-8 0 9 0-2 0-3-1 12-1-2 0 3 0-18-1 1 0 19-1-21 0 0 0 14 0-14 0 2-1 5 0 6 0-1 0-12 0 6 0 16-1-5 0-14 0 15-1-8-1-3 0 3-1-7 0 15 0-5 0-12 0 7 0-6 0-2 0 3-1-2 0 4 0 2 0 6 0 1 0-2 0-8 0 9 0-4 0 12 0-9-1 9 0-18 0 15 0-16 0 5 0-3 0 16-1-19 0 1 0 16 0-11 0 15-1-6 0-7 0 13 0-11 0 1 0-12"/><path d="M674 416l0 7 0 7 0 0 0-13-1 12 0 1 0-15 0 9 0-14-1 10 0 2 0-1 0 0-1-12 0 11 0 6 0-8 0 6-1 0 0 3 0 4 0-16 0-6 0 20 0-8 0-2 0 9-1-15 0-1 0 15 0-6 0-10 0 18 0-5 0-8 0 13 0-6 0 2 0-15-1 5 0-3 0 7 0 9 0-5-1-12 0 19 0-22 0 19 0 2 0-17 0 10-1-2 0 7 0-18 0 4 0 9-1 10 0-1 0-8 0-3 0-12 0 0 0 21 0-16 0 7 0-2-1 3 0 2 0-1 0-5 0 7 0 3 0-9-1 12 0-6-1-1 0-11 0 9 0-3 0 1-1 5 0 5 0-17 0-2 0 8 0 7 0-17-1 4 0 3 0-4 0 16 0-4 0-7-1-8 0 14 0-6 0 4 0-11 0 0 0 13 0 2 0-2 0-11 0 6-1 8 0 6 0-16 0 14 0-19-1 16 0-14 0 17 0-5 0-8 0 3 0 0 0 11 0-9 0-8-1 9 0 9 0-18 0 1 0 5 0-3 0-1-1 13 0-6 0-7 0 4 0 0 0 6-1-4 0 7 0-3 0 6 0-19 0 2 0 8 0-8 0 7-1 6 0 4 0-2 0-6 0 3 0 6 0-1-1 0 0-10 0-4 0 0 0-5 0 3 0 4-1 0 0-6 0 11 0 0 0-9 0 17-1-20 0 18 0-4 0-8 0 5 0 4 0 5 0-16 0 1-1-8 0 15 0 7 0-20 0 11 0 2 0-7 0 7 0-14 0 7-1-2 0 17 0-8 0 3 0-2-1-2 0-10 0 11 0-13 0 17 0 4 0-21 0 2 0 17 0 1-1-3 0-8 0 3 0 1 0-4 0-3 0 0 0 14 0 1 0-23-1 7 0 2 0-5-1 11 0 1-1 2 0-9 0-5 0 18 0-8 0-4 0-4 0-4-1 11 0 7 0-19 0 13 0-2 0 2 0-1 0-4-1 13 0-13 0 14 0-11 0-8 0 17 0-19 0 5 0 15 0 1 0-9-1-14 0 20 0-11 0-3 0 5 0-7 0 12 0 4 0-3 0-10 0 5 0-3-1 13 0-9 0-11 0 10 0-2 0 0 0 9 0 1 0-12 0 13-1-17 0 16 0-16 0-2 0-2 0 18 0-10-1-1 0-7 0 9 0 11 0-5-1-2 0-3 0 4 0 5 0 4 0-14 0 5 0 4 0-17 0 4 0 7 0-13 0 3-1 18 0-3 0 1 0-18 0 4 0 16 0-16 0-3 0 22 0-21 0 17 0-9 0-7 0 9-1-5 0-4 0 3 0 4 0 11-1-19 0 3 0-2 0-2 0-2 0 2 0 16 0-16-1 5 0 11 0-5 0-11 0-2 0 3-1 6 0 12 0 0 0 0-1-8 0 4 0-17 0 4 0 8 0 7-1 3 0-17 0 5 0-1 0-9 0 7 0-6 0 7 0-4 0 5 0-7 0 11 0 10-1-3 0-18 0 20 0-7 0 5 0-6-1-5 0 11 0-9 0 0-1 9 0-11 0-2 0-1-1 3 0 0 0 7 0-5 0 4-1-3 0-11 0 21 0-11 0 8 0 0 0-15 0 17-1-1 0-11 0-3 0 9 0-6 0 8 0-16 0 18 0-8 0 8 0 2 0-14 0 16 0-17 0-1 0 7-1-6 0 12 0-17 0 22 0-9-1-9 0 3 0 2 0 9 0-1 0-2 0 5-1-6 0 3 0 1 0-2 0 3 0 2 0-4 0-4 0-1 0-6 0 16 0-12 0 7 0-3-1 9 0-9 0 7 0-11 0 11 0-15-1 13 0-11 0-2 0 13 0-10 0-3 0 5 0 4 0-7 0 12-1-8 0 3 0 3 0-5 0-13 0 14 0-11 0 19 0-7 0 4 0-8-1-6 0 7 0 2 0-2 0-6 0 10 0-8 0 9 0-13 0 17 0-7 0-3 0-10-1 6 0-4 0 16 0 1 0 1 0-16 0 6 0-3 0-3 0 9 0-8-1 11 0-1 0 1 0-5 0-8-1 12 0-17 0 5 0 0 0 15 0-6 0-7 0 16-1-1 0-7 0-7 0-1 0 12 0-1 0 1 0-2 0-12-1-3 0 13 0 3 0-12 0 1-1 6 0-1 0-3 0 11 0-4 0-13 0 15 0-10 0-3 0-1 0 15 0 2 0-16-1-3 0 5 0 8 0 7 0-18 0 15 0-9 0 14 0-17 0-2 0 15 0-10 0-6-1 4 0 6 0-9 0 10 0-6 0 15 0-8 0-4 0-2 0 5 0 1-1-14 0 11 0-6 0 2 0 4 0-8 0 0 0 17 0-15 0 12 0-13-1 1 0 2 0-7 0 9 0 10 0-17 0 1 0-3 0-2 0 2 0-2-1 15 0 2 0-12 0 8 0-2-1-1 0 9 0-11 0 5-1 2 0 3 0-13 0 4 0 7 0-6 0 0-1 3 0 2 0-7 0 1 0 4-1-5 0-4 0 13 0-9 0 11 0-4-1-6 0 13 0-10 0-4 0 2 0 8 0 3-1 1 0-20 0 1 0 14 0 1 0-5 0-11 0 3 0 13 0-14-1 1 0 15 0-7 0 10 0-1 0-14 0 12-1-7 0 8 0 3 0-2 0-14 0 11 0-18-1 9 0 12 0-9-1 10 0-21 0 10 0 10 0-9 0-9 0 11-1 5 0-18-1 15 0-14 0 12 0 6 0-6 0-2 0-11 0 10-1-3 0 4 0-13 0 5 0 14 0-19 0 3 0 6-1 12 0-13 0 15 0-21 0-2 0 9 0-4-1 11 0 6 0-22 0 4 0 3 0 3-1 7 0-4 0 4 0-3 0-10 0 4 0 4 0-10-1 19 0 3 0-6 0-4 0 6-1-15 0-1 0 9 0-12 0 9 0 14-1-4 0-10 0-4 0-4 0 3 0 15 0 3-1 1 0-14 0 7 0-11 0 13 0-8-1-3 0 7-1-2 0 6 0-11-1 7 0 3 0-11 0 11-1-1 0 6 0-1-1-7 0 0 0-5 0 6 0 5-1-15 0 3 0 12 0-9 0 2-1-6 0 6 0-12-1 15 0-9 0 9 0-1-1-12 0 2 0 7 0 1-1 5 0-16 0 5 0 15-1-6 0-2 0 6-1-6 0 2 0 5 0-6 0-10-1 11 0 5 0 0 0-13 0 2-1 3 0-3 0-10 0 1 0 5 0 8 0-8 0 9 0-1-1-1 0 6 0-4-1-12 0 14-1 4 0-1 0-10 0 3-1 5 0 3 0-1 0 0-1-6 0 7 0-20-1 10 0-6 0-2 0 8-1 12 0-19 0 7-1 0 0-7 0 7 0-8 0 12-1-2 0-10 0-2 0 2 0 4 0-3-1 1 0 11 0-15 0 3 0 4-2-4-1 16 0-20-1 3 0 17 0 0 0 2 0-6-1-1 0 5 0-8 0-11-1 2-1 4-1-3 0 7 0-4 0 6 0-7-2 14 0-6 0-6-1 1 0 5 0 1-1 3 0-8-1-7 0-2-1 3 0 16 0-9-1-3 0 2 0 9 0-15 0 5-1 11 0-10-1-9-1 5 0-4-2 8-1-3 0 1 0-7 0 13-1 1-3 7 0-22 0 18-1-18 0 3-2 18-3-5 0-9-2 5-2 2 0 7 0-17-1 5-2 1 0-1-4-10-5 22-2-7 0-3 0 4-6-7 0-4-2 0-4 11-4-6-1-7-5 14-1-8-2 2-3-6 0 9-3-11-1 9-5-5 0 14-3 1-17-8-48 1 60 27 6-18 6 1 5 3 3 11 6 0 7-4 2 4 2 0 9 0 0 5 4-19 1 5 3 16 1-12 1-1 3 5 2-6 1 3 0-11 1 4 7 17 2 1 0-8 1-11 2 0 1 8 2-3 1 6 0-13 0 14 1 5 0-18 0 14 0-7 2 13 1-12 0 4 0-7 1 6 1-2 0 11 0-19 1 18 2-2 0 4 0-17 0 11 1-9 1-4 0 2 0-1 1 8 1-9 0 19 0 0 1-8 0 1 0-1 0-12 0 3 1 1 0-6 0 20 0 0 1-17 0 11 0-7 2 4 1 1 1 1 0-3 0-4 1 14 0-8 0-1 1-7 0 18 0-10 1-1 1 0 0 1 0-2 1-6 0 7 0 4 0-1 0-6 0 8 1-13 0 17 0-18 1 11 0-5 0-1 1-1 0 16 0-1 0-4 0-8 0 4 1-5 0-7 0 11 0 2 0 1 1-15 0 9 0 9 1 2 0-14 0 2 0 7 1-3 0 4 0-15 0 6 1-1 0 12 0-5 0-12 1 17 0 1 0 0 0-14 0 3 0-8 0 8 0-7 1 9 0 0 0 0 0-2 1 8 0 6 0-13 0 6 0-10 0 8 1-3 0-11 0 10 0 13 0-11 0 10 0 1 0 1 1-17 0-3 0 13 0-5 1 10 0-10 1-4 0 9 0 2 0-14 1 17 0-9 0-5 0 4 0-1 0-5 1 8 0-6 0-2 0 5 0-5 0 7 0 0 0-2 0-4 0 10 0 2 1-10 0 0 0 0 0 11 0 0 0-2 0-17 0 5 0 8 0-13 1 3 0 15 0-9 0-9 1 12 0-4 0-9 0 4 0 4 0 14 0-14 1 13 0-13 0-7 1 7 0-3 0 2 0 8 0-11 1 6 0 3 0 7 0 0 0-10 0-3 1 1 0 12 0 3 0 1 0-13 0-10 1 19 0-18 0 11 0-12 0 4 0-4 1 7 0-5 0 0 1 9 0-12 0 19 0-3 0-8 0 4 1 2 0-4 0-6 1 9 0-10 0 17 0-6 0 1 0-12 0 4 0-6 0 14 1 3 0-9 0-6 0 20 0-18 0 16 1-4 0-16 0 20 0-15 0 0 0-2 0 4 1 7 0-3 0-9 0 17 0-14 0-4 1 17 0-10 0 12 0-1 0 2 0-12 0-1 1-6 0 20 0-8 0 2 0-2 1 7 0-16 0-3 0 3 0 5 0 0 0 8 0-4 0 2 0 4 0-6 1-10 0 13 0-8 0-8 0 7 0 5 0 3 1-9 0-7 0 0 0 2 0 9 0-1 0 5 1 8 0-13 0 5 0-2 0-4 1-10 0 17 0-10 0-6 0 4 0-4 0 7 0 7 0-11 1 17 0-21 0 4 0 12 0-3 0-7 1-2 0 13 0-5 0 1 0 10 1-21 0 15 0-8 0 2 0-6 0 17 1-14 0 14 0-3 0-9 0 12 1-8 0-8 0 3 0 8 0-5 0 0 0-3 0 1 0 13 1-16 0-4 0 15 0-13 0-4 0-1 0 4 0-2 0-1 1 6 0-7 0 4 0 19 0-10 0-8 0 1 0 14 0-16 0 19 0-17 0 9 0-7 0 1 0-8 1 5 0-2 0 10 0-8 1-5 0 19 0-7 0-10 1-2 0 2 0 16 1 3 0-9 0 10 0-9 0-10 0 7 0 7 0-11 0 2 0 4 0 3 0 4 0-3 1-4 0 6 0-19 0 19 0-5 0 8 0-16 1 6 0 0 0-4 0 7 0 3 0-10 0-1 0 8 0 4 0 2 0-15 0 16 1-8 0 1 0-2 0 8 0-2 0-16 0 4 0-1 0 1 1 15 0-7 0 0 0-13 0 1 0 2 0 11 0-2 1 10 0-14 0 9 1 0 0 3 0-21 0 17 0-17 0 8 0 9 1-10 0 13 0-4 0-8 0 1 0-4 0 10 1-10 0 11 0-16 0 4 0 15 0-3 1-10 0 1 0 10 0-10 0 10 0-17 1 10 0 0 0 4 0 4 0-18 0 10 0-1 0 13 1-11 0-7 0 17 0-5 0-3 0 3 1 1 0-10 0 15 0-18 0 2 0 5 0 9 0-19 0 3 0 8 0-11 1 9 0-4 0 0 0-7 0 17 0 1 1-6 0 9 0-4 1-4 0 1 0-6 0-5 0 6 0 3 1-10 0 5 0-1 0-3 0 9 0 7 0-1 0 4 0-21 0 14 0 0 1-8 0 5 0 10 0-13 0-2 0-6 1 9 0-8 0 17 0 2 0-2 0 4 0-3 0-7 0-9 0 15 1-17 0 3 0 0 0 4 0-7 0 6 0-7 0 17 1 6 0-18 0 15 0-5 0-10 0-4 0 21 0-12 0 7 0-3 1-4 0-3 0 6 0-14 0 10 0 8 1-14 0 17 0-9 0-9 0 10 0 10 0-8 0 7 1-14 0 3 0 7 0-4 0-8 0-5 0 9 0-8 0 10 0-4 1-5 0 2 0 17 0-10 0-7 0-2 0 5 0 15 0-12 1-2 0 6 0-14 0 6 0 0 0-3 0-3 0 15 0 0 1-13 0 5 0-1 0-7 0 13 0 6 1-8 0 5 0 4 0 2 0-5 0-6 0 5 0-5 1 13 0-11 0 6 0-8 0 11 0-8 0-4 0 0 0-3 0 4 0 10 1-10 0-1 0 12 0-10 0 10 0-1 0-20 0 18 0-2 0 4 0-6 1 2 0-9 0 4 0-1 0-6 0-1 0 14 0 6 0-15 0 6 0 3 0 0 0-14 1 7 0 1 0-8 0 17 0-18 0 12 0 4 0-14 0 17 0-15 0 3 1 11 0-3 0-9 0 9 0 0 0-6 0-9 0 14 0-8 1 7 0 0 0 0 0-7 0 14 0-4 1 4 0 0 0-5 0-13 0 13 0-10 0 7 1 0 0-1 0 6 0-19 0 6 0 15 1-15 0-4 0 2 0 11 0 0 1-5 0 6 0 6 0-4 0-15 0 19 0-18 1-1 0-3 0 19 0-1 0-5 0-13 0 22 0-3 0-12 1-7 0 5 1 14 0-5 0 3 0 0 0 1 0-5 0 6 0 4 0-19 0 14 1 1 0 0 0-9 0-7 0 19 1-18 0 17 0-18 0 16 0 3 0-17 1 14 0-11 0 15 0-4 0-10 0-9 0 10 1 8 0-8 0 6 0-6 0-11 1 12 0-6 0 16 0-4 1-1 0-7 0 8 0-1 0 5 0-14 0 4 0 9 0-14 0 13 1-20 0 16 0 1 0-3 0-14 0 12 1 7 0 3 0-14 0 3 0-7 0 16 0-7 1 7 0-16 0 9 0-3 1 5 0 2 0-13 0 12 1-15 0 7 0 1 0-6 0 7 0 5 1 0 0 2 0 1 1-7 0 11 0 1 0-7 0-15 0 14 1 7 0-5 0 4 1-12 0-6 0 15 0 1 1-17 0 11 0-10 0 7 0 1 0 9 0-18 0-2 0 11 1 10 0-12 0-2 0-5 0-2 1 20 0-19 0 13 0 8 0-17 0 15 0-4 0-16 1 24 1-23 0 13 0-1 0-6 1 8 0 2 0-13 0 2 1 12 0-18 0 1 0 18 0 2 0-8 0 3 0 0 0 7 0-15 1 13 0-16 0 14 0-14 0 0 0-4 0 23 1-9 0 6 0-8 0 4 0-6 0 10 0 0 1-5 0-3 1-7 0 14 0 2 0-21 1 13 0-2 0 4 1-14 0 4 0 9 0-9 1 4 0 12 0-19 0 5 0 1 0-6 0 8 0 4 0 6 0-15 1 14 0-4 0-5 0 6 0-12 0 4 0-3 1 1 0-6 0 1 0 5 0 8 0 2 0-4 1 11 0-3 1-3 0 6 0-1 0-5 0-10 0 13 0-11 1 11 0-10 0-7 0 7 0-4 1 5 0 3 1-2 0-13 0 3 0 4 0 5 0-4 1 9 0-12 0 10 0-9 0 5 1 9 1-11 0 12 0-4 0 4 1-6 0-14 0 10 0 10 0-19 0 1 0 6 0 12 0 0 1 1 0-6 0 2 0 5 1-1 0-13 0 5 0 6 0 1 1-12 0 2 0 1 0 9 0 1 0-2 1-12 0 7 0-6 0 1 0 12 0-10 1-12 0 14 0-4 0-3 0 8 1-14 0 9 0 4 1 7 0 0 0-6 0 5 0 0 0-3 0-12 0 13 1-3 0-5 0-3 1-7 0 22 0-2 0-20 1 7 0 5 0-6 0 15 1-8 0 10 0-18 1 11 0-9 0 10 0-5 1-4 0 10 0-1 0-8 0 3 1-10 0 18 0-20 0 13 1-10 0-2 2 14 1 8 0-9 0 5 0 4 1-12 1 9 0-3 0-5 0 1 0-3 1 9 1-16 0 3 0 2 1 16 0-20 0 0 0 13 0-7 1 1 0 1 0 10 0-10 1-9 1 0 1 14 0 7 1-5 1-18 0 12 0-6 0 2 1 4 0-9 1 12 2 6 1 0 0-10 1 2 1 4 0-5 0-8 1-3 0 0 1 13 1-10 1 5 1-2 2 0 1 13 0-17 0 14 1-15 0 10 1 11 0-2 1-10 0 6 2-10 0 9 0 6 1-12 0 9 1 2 1-6 0 7 1-15 0 16 0-23 0 10 2 2 1-9 1 16 0-9 2-11 0 19 0-9 0-1 2 11 1-4 1-6 0 9 1 1 1-13 0 0 0-2 2 4 0-7 1 21 0-15 1 8 0-1 0-4 3 0 2 1 0-11 1 18 1-9 3-6 0 13 0-8 0 3 1 3 2-6 0 2 1 0 1 7 1-7 5 10 0-15 2-5 1 2 4 16 1-1 3-12 0 15 0-12 0 7 0-8 1 4 2 1 0 2 1-3 0 6 2 6 0-20 0 5 1-3 0-2 1 18 4-8 1 0 0-7 2 10 2 1 4-4 0-11 9 3 1 0 3 0 7-1 6-4 7 15 0 4 1-17 0 9 5 4 1-1 4-9 0 13 4-18 0 23 1-23 1 19 4-2 7-17 3 12 2-13 0 7 1 0 8 1 0 15 0-5 1 2 6-13 1 16 2-6 1-5 6-4 4 0 1-4 0 17 6-6 5-7 0 11 4 1 3 0 0-19 2 0 8 8 14 2 11 7 14-2 4-1 21 1 7-13 30-1 1 18 17-16-7 28-7-1-5 16-17-16-10 13-8-10-20 4-5 4-6 0-11 2-3-14-2-3-10 12-11-8-5 12-2 5-4-6-2 0-15-8-14 7-9-9-2 15-1 0-5-1-12-16-1-2-1 0-1 20-1-20-4 8-5 2-2-3-6 7-1-3-3-5-4 13-5-10-3-7 0 17 0-11-1-10 0 5-3 12-2-9-1-5-1 3-1 11-1-2-1 5-1-6-1 5-4-15-2 3-1 13-1-20-1 4-3 14-1-7-4-7 0-1-3 3-1 15 0-6-3-14 0 18-3 3-1-10-3-6-1 12 0-13-1 3-1 12 0 1-1-10 0-4 0 7-2-2 0 3-2-3-1-4-3-6-1 11 0 8-1-21-1 10 0-4-5-3-1-2 0 4-1 2-1 6 0 7 0-15 0 14-1 1-1-15-1 5 0-1 0 13-1-17 0 0-1-7-1 16 0-2-1 7-1-14-1 13-2-5 0-10-1 2 0-6-1 23-1-23-1 10-1 9 0-5 0 3-1-5-1-1 0 8-2-4-1-5-1 10 0 2 0 0-1 1 0-9 0 1 0-12-1 5 0-1 0 8-2-8 0 7 0 8-1-1-1-8 0 0-1 5 0-15-1 16 0-20-1 14 0-11 0 3 0 18-1-14-1 12-1 2-1-18-2 15 0-12 0-4 0 4-1-4 0 15-1 3 0-6-1 3 0 0 0-6 0-10 0 9 0 2 0 6-1-2 0-17 0 16-1-12 0 12 0-11-1 5 0 7 0-6-2 8 0-8 0 7-2-12-1 15 0 0 0-5 0-12 0 12-1 2 0-12 0-2 0 13 0-13-1 14-1-12 0-5 0-1 0-1 0 23-1-22 0 3 0-3-1 21 0-5-1-2 0 4 0-19 0 3 0 8-1 2 0-12-1 6 0 2 0 7-1-1 0-15 0 3 0 17-1-19 0 13 0 7 0 0 0-2-1-10 0-7 0 2 0 1-1 6 0-7 0 15 0-12-1 11 0-16 0-1 0 1 0-2 0 17-1 3 0-14 0-6 0 19-1-6 0-14 0 3 0 1 0 8-1 2 0-3 0-6 0 13-1-3 0-6 0-6-1 5 0 7 0-13 0-2 0 14-1-2 0 8 0 2 0-6 0-9-1 11 0 2 0-2 0-5 0-6 0 1 0 1 0-4-1 14 0-5 0-13 0 20 0 2-1-13-1-6 0 7 0 0 0-3 0 6 0-2 0-8-1 18 0-9 0-11-1-1-1 13 0-8 0 12 0 1 0-1-1-6 0-10 0 21 0-2 0-9 0 12 0-7-1-10 0 11 0-11 0 11 0-12 0 13 0 3-1-10 0 6 0 4 0-1 0-19-1 14-1-2 0 6 0-18 0 8 0 10-1-12 0 3 0-5 0 17 0 1 0-10 0 1-1-4 0-10 0 13 0-2 0-2 0 12 0-9 0 11 0-22-1 6 0 14 0 0 0-5 0-12-1 12 0-8 0 15 0-12-1 5 0-16 0 23 0-19 0 6-1 12 0-9 0 2 0 7 0-4-1-7 0 3-1-4 0-9 0 13 0-9 0 13 0 1 0 1-1-4 0-6-1 0 0 7 0-14 0 18 0-13 0 1-1 8 0 0 0-4 0 3 0-4 0-8 0-4 0 10-1-6 0 11 0 4 0-15 0 4 0 2 0-8-1 0 0 6 0-5 0 13 0-9 0 1 0 15 0-7-1-10 0 7 0-2 0-11 0 20 0-15 0 14 0-18 0 1-1 19 0 0 0-6 0-8 0 12 0 1-1-12 0 8 0-12 0 8 0 1 0 0 0 1 0 1 0-8 0 0-1 15 0-7 0 2 0-3 0-4 0 1 0 6-1-8 0 11 0-7 0 10 0-8-1 5 0-14 0 4 0 5 0-5 0-8 0 10 0-9 0 16 0-9 0-4-1 15 0-3 0 1 0-1 0 2 0-4-1-13 0-3 0 9 0 2 0 8 0-9-1-3 0 11 0-5 0 2 0-1 0 1 0 4 0-11 0-1-1 2 0-6 0 7 0-3 0 15 0-14 0-2-1-1"/><path d="M667 474l0-16 0 7 0 14 0-23 0 24 0-6 0-3 0 0-1 7 0-3 0-3 0-13 0 0 0 12 0 4 0 3 0-18 0 8 0 11-1-1 0-21 0 20 0-12 0 8-1-11 0 2 0 8 0 3 0-15 0 0-1-2 0 16 0 4 0-9 0-10 0 9 0-5-1 17 0-12 0 0 0 8 0-6 0-11 0 1-1 1 0-2 0 11 0 7 0-12-1-4 0 4 0-1 0 12 0 2 0-15 0 14-1-1 0-14 0 6 0 3 0 1 0-9 0 11 0 5-1-2 0 1 0-11 0-2 0 5-1-6 0 11 0-1 0-17 0 12 0-9 0 12 0-5 0-2 0-4 0 2 0 13 0-2-1-14 0 8 0 11 0-6 0-11-1 14 0-10 0 0 0 4 0-13 0 23 0-1 0-21 0 10 0 2-1-14 0 15 0-3 0 9 0-19 0 14-1-2 0 8 0 0 0-11 0-5 0 2 0 12 0-8 0 3 0 3 0 2-1-7 0 3 0-14 0 21 0-14-1 7 0 7 0-22 0 21 0 0 0 2 0-24 0 10 0 11 0-20 0 22-1-20 0 4 0-7 0 18 0-16 0 13 0-3 0-5 0 6 0 7-1-15 0 9 0 8 0-12 0 14 0-22 0 9-1 2 0 3 0-9 0 9 0 5 0-14 0 6 0 9 0-5-1-11 0 13 0-16 0 18 0-2 0-6 0 5 0 2 0-4 0-12 0-2-1 22 0-24 0 19 0-4 0-6 0 2 0 11 0-11 0-5 0 8 0-1-1 2 0-10 0-1 0-3 0 0-1 23 0-9 0-4 0-4 0-4 0 14 0-6 0-7 0 6-1 11 0-3 0-14 0 13 0-4 0-2 0-6 0 3-1 8 0-5 0-9 0 3 0 19 0-14 0 5 0-10 0 1 0 3 0 2 0 3-1-2 0 10 0-20 0 2 0 19 0-4 0-8 0-11 0 17 0 2 0 0 0-5-1 3 0-5 0-8 0 18 0-17 0-5 0 20 0-1 0-6 0-12 0 16 0-2 0-2 0 9 0-13 0 9-1 1 0 0 0-8 0 5 0 8 0-2 0 1 0 0-1-11 0-3 0 10 0-12 0-3 0 18 0-5 0 3-1 1 0-5 0 6 0-20 0 4 0-3 0 7 0 12 0-16 0 15 0-15 0 13 0-3 0 6-1-5 0-10 0-2 0 11 0-2 0-13 0 8 0-4 0 2 0 7 0 9-1-9 0 8 0-14 0 1 0 0-1-3 0 6 0 8 0-2 0-7 0 2 0-7-1-1 0 17 0-16 0-5 0 19 0-3 0-14 0 6-1 12 0-1 0-3 0-14 0 0 0 0 0 12-1-10 0 8 0-1 0-9 0 19 0-22 0 11 0 6 0 2 0-16-1 16 0-1 0-8 0 0 0 0 0 12 0-8 0 8-1-14 0 2 0 2 0 7 0-15 0 4 0 11 0 4 0-21-1 17 0-14 0 5 0-5 0-4 0 3 0 19-1-12 0-4 0 3 0 13 0-9 0-8 0-4 0 10-1 10 0-13 0 8 0 5 0-19-1 2 0 6 0-7 0 6 0-9 0 16 0 0 0-11 0 13-1-9 0-3 0-2 0 10 0-1 0 0 0 0 0-5 0-6-1 8 0 8 0-16 0 1 0-3-1 14 0-7 0 4 0-9 0 7 0-7 0 4 0-3 0 6-1 0 0 12 0-4 0-6 0 10-1-4 0-4 0 2-1-3 0-3 0 4 0 0 0 9 0-14 0 0-1-1 0 7 0-9 0 1 0 11 0-11 0-4 0 16-1-13 0 10 0 7 0-11 0 11 0-19-1 11 0-8 0 1 0-5 0 5 0 13 0 1-1-10 0-9 0 7 0-7 0 11 0-13 0-1 0 19-1-11 0 3 0 7-1-1 0 0 0-1 0-9 0 7 0-3 0-9 0 5 0-1-1-4 0 7 0-1 0 2 0-10 0 20 0-16 0-3 0 3 0 1-1-3 0 9 0 2 0 0 0 4-1 7 0-18 0-5 0 20 0-6-1-7 0-3 0 3 0 2 0 2 0 3 0-1 0 0 0-8-1 17 0-12 0-7-1 4 0-2 0 2 0 4 0 2 0-11 0 8 0-1 0 4-1-2 0-9 0 14 0-8-1 11 0-8 0-12 0 20-1 4 0-7 0-14 0 4 0 2-1 0 0-4 0 11 0-3-1-12 0 6 0-4 0 5 0 9 0-2 0-2-1 9-1-4 0-3 0-4 0 10 0-4 0-9 0 1 0-5 0 15-1-3 0 0 0-1 0 5 0-19 0 6 0-2-1 9 0-1 0 6 0 4 0-22 0 2-1 8 0-1 0 7 0-14 0 6 0 10-1-18 0 8-1 10 0 5 0-18 0 5-1-5 0-4 0 2-1 0 0-1 0 21 0-14 0 3 0-9-1 6 0 10 0-18 0 15-1-14 0 20 0-14 0-3 0 0-1 7-1 6 0-19 0 7 0 3 0-7-1 18 0 1 0-20 0 9 0-6-1 5 0-4 0 7 0-5 0 16 0-17 0-3-1 15 0-1 0 1 0-16 0 4 0-5-1 15 0-3 0-13 0 0 0 18 0-11-1 0 0-7 0 5 0 17-1-10 0 1 0 8-1-10 0-11 0 3 0 14 0 1-1-5 0 3 0-1-1-10 0 18 0-19 0-5-1 23 0-4-2 5 0-6 0-16 0 9-1-1 0-2 0 5 0-12-1 15 0-13 0 5 0 13-1-5 0-6 0 4-1 0 0-2-1 7-3 2-1-17 0-4-1 10 0-9-1 6 0 5-1 8 0 0-1-4 0 4 0-13-1 1 0 7 0 0 0-5-1 4 0-10-1 4-1 12 0-16 0 5-1-1-1 9-1-2 0-11 0-1 0 8-1 12 0-21-1 5 0 5-1-8-1 13 0-1-1-1-1 6-1-14-2-1 0 11-1-1 0-14-1-1 0 7-1-2 0 0 0 6 0-10-2 8 0-6-3 7-2-7 0 3-1 14 0-21-5 9-3 5-2 1-2-9-1 1-5-7-5 5-3 7-13 1-8 7-1-15-20 13-106 19 131-5 20 0 2-4 4 3 6 4 7-3 1 6 1-11 1 17 4-2 0-16 2 13 1-11 0 5 1-2 0 7 2-6 0 7 0-7 3-1 1 13 3-7 0 10 0 0 4-11 1-2 0 3 1 0 0-9 1 4 2 11 0-3 1 2 1 6 3-7 0 3 3-16 0 7 0 6 1 3 2-9 0 0 1-1 0-7 1 9 0-4 0 5 1-9 0 12 1-9 0-6 0 1 1 19 0-15 1 3 0-9 0 6 2-1 2-3 0 21 1-3 0-14 1 12 0-12 0 0 0 7 0-13 0 5 1 16 0-3 1-3 1 4 0-9 0 7 0 5 0-19 0 10 1-3 0-4 0-3 1-1 0 10 0-4 1 4 0 8 0 1 0-8 0 10 0-5 0-4 1-10 0 6 0 8 0-17 0 13 1-7 0-4 1 5 0 8 0 5 0-14 0 7 1-14 0 6 0 13 0-13 0 4 0 11 1-20 0 7 1 3 0-4 0 6 0-8 1-4 0 17 0-17 0 14 0 6 0-18 1-2 0 0 0 11 1-9 0 6 0-2 0 15 0 1 0-22 0 7 0 3 0-8 0 17 1 3 0-4 0-18 1 18 0 1 0-16 0-3 1 0 0 20 0-15 0 15 0-15 0 1 1 6 0 9 0-6 0-10 1-1 0 2 0 9 0-10 1-6 0 9 0-8 0 8 1 11 0-8 0 5 1 4 0-9 0 7 1 0 0-9 0-6 0-1 0 18 1-13 0-1 0 7 0-9 0 3 0 15 0-11 1-12 0 18 1-9 0-2 0 7 0-10 0-2 0 16 1-4 0 5 0-4 0-12 0 5 1 14 0-21 0 3 0-3 0 11 0-2 0-10 1 11 0-5 0 9 0-4 0 12 1-14 0 12 1-3 0 3 0-10 0 1 0-11 0 5 1-2 0 5 0-2 0 5 0-6 0 14 0-9 1 2 0 8 0-13 0 7 0-5 0 4 0-12 1 15 0-2 0-2 0 6 0-10 0 12 0 1 0 1 1-10 0 4 1-7 0 12 0-20 0 12 0-5 0 8 1-7 0 0 0-9 0 6 1 3 0-3 0 5 0 1 0 6 0-9 0-9 1 14 0-6 0 10 0 1 0-16 0 1 0 0 1 4 0 14 0-1 0-10 0 2 0-13 1-1 0 20 0-8 0 5 0-9 1 15 0-7 0 0 0-14 0 4 0 5 1 0 0 6 0-2 0 0 0 8 0-1 0 1 0-16 0-1 0-2 0-3 0 11 1 8 0-2 0-3 0 1 0-3 0-8 0 9 0-5 1 8 0-15 0 2 0 8 0 8 0-20 0 15 0 3 0-12 0 16 0-8 0-6 0 0 0-7 0 19 1-10 0-8 0 19 0-9 0-3 0 3 0-3 1-2 0-3 0-3 0 2 0 17 0-11 0-7 0 12 1 8 0-8 0-13 0 13 1 7 0-5 0 3 0 3 0-12 0 10 0-5 0-5 0 8 0-10 0 8 0-2 0 10 1-5 0-6 0 10 0-7 0 7 0-15 0-6 0 2 1 20 0-6 0 2 0-6 0-7 0-6 0 22 0-11 0 2 0 3 1-7 0-4 0 3 1 6 0 3 0 3 0-3 0-1 0 4 1 3 0-20 0 6 0 3 0 4 0-9 0-8 1 6 0 4 0 1 0-3 1-4 0 4 0 10 0 5 0-13 0 2 0 3 1-8 0 6 0 2 0-7 0-2 0 8 0-7 0 7 0 6 0-12 0-5 0 13 1 5 0-17 0 19 0-1 0-10 0 10 0-10 0-7 0-3 1-1 0 14 0-1 0-1 0-2 0 10 0-17 0 17 1-13 0-8 0 11 0-2 0 11 0 1 0 2 0-16 0 13 0 2 0-13 0 15 1-8 0-1 0-2 0-10 0-2 0 8 0 11 0-2 0-2 0 3 0-1 0-14 1 4 0-4 0 4 0 11 1-2 0-6 0 4 0-1 0 1 0-13 0 16 0 4 0-18 0 7 0 2 1 10 0 0 0-5 0 6 0-15 0 3 0-12 0 9 0 15 0-16 1 10 0-18 0 12 0-4 0-2 0 18 0-13 0 10 0-20 1 10 0-11 0 4 0 15 0-7 0 2 0 3 0-4 0 7 0-5 0-9 0-5 1 10 0 4 0-3 0-4 0 11 0-13 0 12 0 6 1-24 0 9 0 8 0 2 0-4 0 8 0-14 0 2 1 7 0-1 0-11 0 4 0-3 0 3 0 1 0 1 0-8 0-3 1 21 0-1 0 0 0-12 1-6 0 15 0 0 0-11 0 15 0-12 0-9 0 21 0-11 0-5 0 6 0 8 0-8 0 0 1-6 0-1 0 15 0 3 0-22 0 19 0-9 0-5 1 2 0-4 0 10 0-11 0 16 0-14 0 14 1-13 0 5 0-5 0-4 1 21 0-3 0-15 0 17 0-2 0-14 0-5 0 1 0 2 1-3 0 8 0 11 0 1 0-10 1 5 0-3 0 5 0-12 0-2 0 15 1 1 0 3 0-23 0 5 1 0 0 18 0-13 0 2 0-1 0 0 0 2 0 11 0-23 0 21 1-13 0-1 0 15 0-5 0 2 0-20 0 14 0-3 1 5 0-8 0-5 0 3 0-3 0 15 0-5 0-7 0 4 0 3 0-12 1 1 0 14 0 4 0-15 0 12 0-5 1 0 0 5 0-3 0-12 0 2 0 16 0-1 0-7 0-3 0 10 0-13 1-3 0 6 0-6 0 21 0-6 1 4 0-16 0 16 0-17 0 1 0 11 0-4 0-6 0 3 0 1 1 3 0-2 0-8 0 1 0-3 0 2 0 15 0-18 0 17 0-3 1-14 0 12 0-5 0 1 0 6 0 6 0 1 0-5 1-9 0 8 0 6 0-3 0 4 0-13 0-9 0 7 0 15 0-17 1 8 0 0 0 7 0-3 0-8 0-5 0 5 0-4 0 10 1 2 0-12 0 9 0-11 0-1 0 7 1 11 0 0 0-2 0-2 0-9 1 4 0-7 0 10 0-6 0 9 0-5 0-6 0 10 1-5 0-3 0-9 0 1 1 22 0-17 0 11 0 0 0-16 0 8 0-7 1 4 0 6 0-5 0 14 0-6 0 0 0-3 1 9 0-16 0 14 1 5 0-5 0-11 0 15 0-20 0 14 0-12 0 6 0 6 0-11 0 11 0-2 0 8 1-9 0-1 0-11 0 1 0 10 0-4 0 5 0 4 1-15 0 7 0 4 0-5 0-7 0-1 0 1 0 8 0 6 0-7 0 1 1 8 0-17 0 4 0-4 0 2 1 5 0-7 0 15 0 0 1-14 0 6 0-1 0 15 0-10 0 4 0 1 0-3 0 8 1-19 0 14 0-15 0-2 0 4 0 16 0 0 0-5 0-13 0 17 0 1 0-6 1-12 0 11 0 1 0 1 0-15 0 9 1 9 0-10 0 5 0 7 0-11 0 3 1 3 0 4 0-4 0 0 0 5 0-1 0-8 1-7 0 15 0-12 0 13 0-5 0-11 1 15 0-15 0 13 0-3 0-8 0-3 1 5 0-3 0 11 0 5 1-18 0 20 0-5 0 4 1-10 0-12 0 22 0 1 1-9 0 6 0-8 0 11 1-14 0 15 0-13 0-1 0-5 0 14 0-8 0-10 1 11 0 10 0-10 0-4 1 15 0-13 0-10 0 24 0-14 0-5 0 7 1-4 0-4 1 6 0 6 0-11 1 10 0-10 0 8 0-1 0-8 1 4 0-4 0 12 0-1 1-4 0-5 0 8 0-14 0 2 1 19 0-19 0 8 0-9 0 20 0 2 0-10 0 4 1 4 0-10 0 7 0 5 1-3 0-17 0 14 0 2 1 1 0-1 0 3 0-8 0 7 0-19 0 20 0-13 0 15 0-15 1-8 0 4 1-5 0 20 0-1 0-1 0-18 1 23 0-14 0 10 1-12 0 14 0-14 0 10 0 0 0-14 0 20 1-3 1-15 0 13 1 6 0-16 1 6 0 4 1-5 0-1 0 9 0-11 0-5 0 13 0 5 1-13 0 0 1-1 0-5 0 11 1 5 0-15 0 0 0 7 0 1 0-9 1 8 0 7 0 2 1 0 0-10 0 4 0 9 0-6 1-3 0-5 0 10 0-17 1 2 0 2 0 12 0-3 1-1 0 5 1 4 0-8 0 3 1-5 0 1 1-2 0-12 0 7 0 7 0-6 1 5 0-6 0 2 1-2 0 5 1 9 0-4 1-8 0 3 0-11 0 2 0 13 1-16 0 9 0 0 0-8 0 0 1 0 1 2 2 14 0-12 0 10 1-13 0 0 1 9 1 11 0-17 0-3 1 16 1-19 1 10 0 1 0 13 0-23 0 21 1 2 0-1 1-17 0-2 1-1 1 15 0-8 0 13 0-14 0 1 1 6 2-14 0 3 0-1 0 6 1-2 0 15 0-14 1 13 0-19 2 21 1-18 1 8 0 10 0-22 0 5 0 9 1-3 1 5 1 1 0-18 0 20 0-11 1-5 0-4 0 12 1 6 3-7 0-8 5 4 0-7 0 10 0 0 2 13 1 0 0-5 4 4 0-3 1-11 2-3 0 16 0-10 1-10 0 12 0 3 0-1 2-13 0-1 1 11 1 3 0 3 0-12 1-3 1-3 0 7 0 3 2-8 1 4 1 12 1-7 1-9 1 19 1-20 4 16 1-8 4 10 6-14 1 13 4-1 3 1 3-4 2-7 0-3 2-5 9 8 14-4 2-1 2 9 0-2 5-10 0 20 3-12 0 1 1-3 8-4 3-1 3 10 6 8 5-4 8 0 2-12 1 21 6-18 2 13 1-3 13 4 1-18 0 22 6-8 3 5 2-21 5 21 3-9 8 5 3-15 1 4 2 15 7-21 1 0 0 17 15 0 1-3 8 1 1-8 2-4 23 12 1 1 7 6 2-18 2 3 16 14 2-11 7 1 11 1 1 29-8 0-2 7-16 0-11-11-3-1-23 6-17-13-3 9-22 8-6-12-3 1-1 9-19-1-14-8-6 8-8-11-9 13-3-13-1 3-7-6-5 14-7-5-4-7 0-4-1 5 0 4-3-11-11 20-3-8-9 1-2 4-2-7-1 4-3 1-2-10-2 2 0 8-1-14-1 5-3 9-10-2-1-5-1-9-1 11-1 11-1-6-1-11-1-1 0 13-1-2-2-14-2 14-2 0 0 4-1-10-2 7-1-3-1 8-1-10 0-1-5-7-1 13-1-12 0 13 0-6-3 2 0 11-1-24-2 15-1-1-2 9 0-4 0 3-1-21-1 14-2 5 0-1-1-12-1-1 0 0-1 0-1 1 0 9 0-4-1 6 0-15 0 10-1-12 0 3 0-4-1 9-1 9 0-12 0 3 0 10-1-4 0-9-1 15 0-7-1-11 0 14-1-10 0 16-2-5 0 0-1 3 0-5-1 8-1-5 0-3 0 4-1 3 0-3 0 0-2-2 0-17-1 7 0-5-1-3 0 22-1-11-1 3-1-7 0 2 0-5-1 1 0 3 0 10 0-6 0-7-1 16 0-17-1 6-1 11 0 2 0-13-1 11 0-5-1-1-1-1 0-4-1 8 0-8 0 2 0-2 0 7 0-6 0 5 0 0 0-9 0 11-1-14 0 19-1-22 0 11 0 10 0-17 0 5 0-8 0 8-1-2 0-2 0-2 0 16 0-7 0 11-2-22 0 14-1-5 0 3 0-2-1 9-1-13 0 7 0 5 0-5 0-14-1 14-1 1 0-15-1 15 0-3 0 9 0-10-1 5 0-14 0 3 0 12-1-12 0 6-1 11 0-2-1 0 0-2 0-3 0-1 0-7 0 13-1-4 0-8 0 5 0 8 0-18 0 9 0 3 0-8 0 4 0-1 0-6 0 18-1-8 0-9 0 15 0-2-1-16 0 3-1 14 0 2 0-15 0 11 0 3-1-9 0 12 0-6 0 0 0 2-1 1 0 2 0 1 0-4-1-14 0 9 0-4-1 3 0-6 0-3 0 17 0-2 0 3 0-12 0 5-1-15 0 7 0-1 0 0 0 9 0-5 0-2 0-6 0 11 0-2-1 8 0 3 0 0 0-5 0 0 0-12 0-1-1 8 0-1 0 1 0 1-1-1 0-4 0 3 0 3 0 6 0-10-1-7 0 14 0 5 0-1-1-2 0-4 0-11 0 7 0 6 0-15 0 1-1 6 0 11 0-12 0-4 0 11 0-2 0 10-1-2 0-15 0 5 0-6 0-2 0 2-1 16 0-19 0 8 0 12 0-12 0 2 0 9 0-16 0-4-1 9 0-10 0 2 0 4 0 15 0-8-1-11 0 21 0-7 0-9 0-4 0 6 0 13 0-5-1 0 0-4 0-8-1 13 0 0 0-18 0 0-1 18 0-9 0 1 0-3 0 1 0 10 0 2 0-17-1 6 0-2 0 11 0-14-1 4 0-4 0-1 0-4-1 13 0 1 0-4 0-4 0 5-1-5 0 6 0-7 0 4 0-1 0-3 0 18 0-4-1-10 0-1 0 9 0 0 0 1 0-13 0-2 0 12-1 5 0-2 0 2 0-16 0 10 0-13-1 18 0-12 0-7 0 10 0 12 0-5 0 3-1-13 0 0 0 6 0 4 0-9 0 15 0-3-1-4 0-8 0-5 0-1 0 19 0-4-1-13 0 14 0-4 0-8 0 12 0-1 0-9 0-7 0 7 0 8-1-12 0 9 0-6 0 13 0-13 0 15-1-3 0-9 0 9 0-4 0-4 0-4-1-1 0 12 0-3 0 4 0 0 0-1-1-14 0-2 0 10 0 1 0 2 0 0 0-11-1 17 0-16 0 17 0-21 0 15 0-8 0-1-1-3 0 7 0-4 0 1 0-6 0 22-1-21 0 3 0-3-1 10 0 5 0-1 0-7 0 8 0-14 0-3 0 4 0 2 0-2-1 3 0-5 0 19 0-7 0 0 0 6 0-16-1 8 0-1 0 0 0 8 0-1 0-16 0 0 0-3 0 17 0 5 0-18-1 12 0-2 0-3 0 5 0-16-1 0 0 2 0 22 0-18 0-5 0 17 0 0 0 0 0-6 0 10 0-7 0-7 0 3 0 4-1-13 0 8 0-4 0 3 0 9 0-1 0 1 0 3 0-16 0 18 0-16-1 2 0-6 0 9 0 2 0-5 0 10-1-19 0 21 0 1 0-4 0-2-1 0 0-12 0 5 0 9 0 5 0-3 0-1 0-6 0-1-1-3 0-8 0 17 0-3 0-12 0 12 0 0 0-12-1 4 0-6 0 22 0-23-1 7 0-2 0 7 0 11-1-20 0 7 0-4 0 17 0-6 0 0 0-3 0-11 0 17-1-11 0 14 0-14 0 10 0-19 0 23 0-16-1 1 0 15 0-22 0 3 0 10 0-2 0-10 0 10 0-9 0 16-1-14 0 7 0-11 0 5 0 4 0-4 0 11 0-15 0 20 0-17 0 19 0-10 0 4-1-15 0 13 0 6 0-21 0 21-1 0 0-16 0 12 0 1 0-2 0-2-1-11 0 2 0 5 0-10 0 11 0 0 0-5 0 9 0-8 0 16-1-7 0-9 0-6-1 10 0-5 0 8 0-7 0-1 0 1 0-4 0 6-1-1 0 7 0-13 0 5 0-7 0 18 0 2-1-2 0-14 0 5 0-1 0-3-1 2 0 1 0 1 0 13 0-8 0-9-1-6 0 16 0-11 0 0 0-4 0 8 0 5-1 2 0-3 0 9 0-11 0 9-1-13 0 5 0 1 0 3 0-2 0 7 0-6-1-15 0 13 0 8 0-19 0 13 0-7 0 3 0 1-1-10 0 21 0-23 0 24 0-14 0-5 0 5 0-5-1 17 0-1 0-10 0 9 0-4 0 3 0-13 0-5-1 17 0-7 0 3 0-5 0-8 0 13 0 5-1-19 0 1 0 17 0 1 0-6 0 0 0 9-1-18 0 15"/><path d="M649 522l0 1 0-9 0-9 0 8 0 15-1-11 0 7 0 3 0-20 0 4 0 3 0-8-1 2 0 9 0-10 0 17 0-9 0 6 0-9 0 15 0-8 0-5 0-1-1-1 0 1 0 11 0-14 0 14 0 3 0-13 0 6 0 1 0-2 0-4-1 4 0-8 0 3 0 7 0-12 0 11 0 4 0-1-1-7 0-12 0 5 0 13 0-9 0 5 0 0 0 6 0-19 0 22-1-17 0-5 0 7 0-4 0 1 0 5-1-2 0 5-1-5 0-7 0 12 0-3 0 1 0-4 0 14 0-3-1-12 0-5 0-1 0 4 0 8 0 7 0-3 0-9 0 12-1-8 0-9 0 6 0-8 0 7 0-3 0 7 0 10 0-4-1 0 0-5 0 0-1 8 0-10 0-4 0-3 0 17 0-4 0-9 0 10 0-11 0 7 0 4-1-10 0 16 0-13 0 12 0-16 0 8 0-12 0 18 0-4 0-10 0 1 0 8-1-4 0 1 0-8 0 4 0 5 0 9 0-13-1-2 0 17 0-24 0 4-1-2 0 2 0 16 0-10 0-1 0-9 0 8-1 10 0 2 0-12 0-2 0 6 0-11 0 15-1-11 0 2 0 9 0-10 0 2 0-3 0 18 0-7-1 7 0-17 0-4-1 4 0 9 0 8 0-19 0 19 0-9 0 2-1-2 0-13 0 7 0 11 0-16 0 8-1-1 0 10-1-7 0-2 0 2 0-11 0 6 0-3 0 5 0 0-1 7 0 1 0-18 0 23 0-14-1 4 0 4 0-12 0-2 0-1-1 14 0 2 0-13-1-1 0 16 0-5-1-11 0 3 0 5 0-1 0-3 0 7 0-13 0 19 0-8-1-10 0 17 0 4 0-13 0 0 0-10-1 8 0-1 0-2 0 9 0-10 0 2-1-5 0 18 0 1 0-12 0-4 0-5 0 20-1-9 0-4 0 11 0 0 0-2 0-10-1 9 0 4-1-15 0 18 0-17-1 7 0-7 0 9 0-6 0 2 0-9-1 10 0-6 0-4 0 5-1 4 0 5 0-6 0-4 0-3 0-1 0 1 0 9-1-4 0 10 0-12 0-3-1 21-1-4 0-17 0 5-1-5 0 16 0 2 0-14 0 12 0-2-2-14 0-1 0 21 0-3 0-15 0 3-1-4 0 16 0-19 0 17 0 2 0-15-1 9 0 9 0 0 0 1-1-11 0-12-1 12 0-3 0 12 0-7-1 5-1 2 0 1 0-3 0-14-1 8 0 0-1 11-1-23 0 10-2-3 0-7 0 14 0-3-1 3 0-6-2 6 0-13 0-1 0 7 0 9-2-6-1-8 0-3 0 7 0 15-1-4 0 3-1-7 0-9 0 0 0-1 0 19 0-8 0-13-1 6 0 15 0-16 0 8-1-12-1 8 0 7 0 5 0-7-3 3 0-15 0 14 0-12-1 0 0 11-1-4-1-1 0 6 0-13-1 2 0 7 0 1-4-14 0 8-1 4-9-11-1 2-12 18-2-9-9 4-16-5-26 7-31-16 23 25 18-3 42 13 4 2 1-13 7 10 7 4 1 3 3-6 1-13 1 20 4-15 1 2 2-4 0 18 1-2 0-19 3 19 2-9 1-7 4 6 1-5 0 6 0 1 0 5 1-11 0 0 1 17 0-15 0-1 1 10 1 3 1-1 0-12 1 7 0-9 2 15 0-5 0-3 1 9 0-12 0-5 0 9 1 8 1-13 0 4 0 5 1 0 0 6 0-10 1 3 1 0 1-15 0 15 1-3 1-13 0 6 0-6 1 8 1-1 1-3 0 13 1-14 1 1 0 8 0-1 0 9 1-11 0 12 0-19 0 10 1 5 0 1 0-13 1 15 1 2 0-12 1-5 0 11 0-3 1 6 1-10 0-6 0 14 0-14 0 9 0 4 1 7 0-13 0-9 1 20 0-8 0-5 0 2 2 12 0-19 0 5 0 0 0 0 1 11 0 2 1-15 0-5 0 23 1 0 0-20 1 3 0 0 0 13 0-9 0 4 1-4 0-8 0 13 0-7 1 3 0-4 1 6 1 6 0-19 0 15 1-13 0 2 0 8 0 5 0-16 1 21 0-3 0-3 0-14 0 12 1-8 0 16 0-4 0-10 0-5 0 19 1-5 0-4 0 6 0-2 0 1 0-4 1-9 0 17 0 1 1 0 0-4 0-13 0-1 0-4 0 17 0-3 0-7 1-7 0 19 0-10 0-1 0 1 0 1 0-4 1-2 0-2 0 10 0 0 0-12 1 20 0-11 0-4 0 12 0-3 0 2 1-9 0-9 0 22 0-17 0-4 0 11 1-1 0 13 0-4 0-6 1 2 0 3 0 2 1-10 0 3 0-10 0 6 0-9 1 22 0-16 0 15 0 2 0-15 0 14 0-13 1 8 0-1 0 3 0-18 1 0 0 14 0-5 0 2 0-10 0 5 0 1 1 5 0 3 0-17 1 12 0-8 0 8 0-3 0 8 0-16 0 9 0-8 1 2 0 20 0-7 0-11 0 10 0-14 1 18 0 2 0-8 0-2 0-3 1 6 0-9 0-4 0 11 1 3 0-15 0 0 0 10 0 3 0 3 0-14 0 3 0 1 0-4 1 11 0 0 0-1 0 5 0-4 0-13 1 13 0 4 0-10 0-2 0 15 0-4 0-12 0 12 1-13 0 5 0-3 0 3 0 14 0-3 0 0 0-6 0-6 1 14 0-6 0-12 0 5 0 13 1-4 0-10 0-2 1 6 0 1 0-2 0 10 0-21 0 14 0 9 0 0 0-3 0-15 1 6 0-8 0-2 0 11 0-5 0 9 0 6 0-21 0 11 0-7 1 1 0 10 0-10 0 12 0-14 0 8 0 0 1 4 0-6 0-6 0 0 0 4 0 2 0 0 0 12 1-19 0 19 0-9 0-8 0 9 0-6 0 3 0 3 1 1 0-9 0 5 0 4 0-1 0-13 0 22 0-13 0 0 1 10 0-3 0-7 0 4 0-4 0-6 0 2 0 4 0 3 0-8 1 10 1-3 0-11 0 17 0 0 0 0 0-8 0-3 0 13 0-10 1-5 0 9 0 3 0 0 0-2 1 4 0 2 0 1 0 0 1-11 0-5 0 17 0-21 0 3 1 5 0-6 0-3 0 1 1-1 0 0 0 5 0 10 1-14 0-1 0 19 0-3 0-8 0 4 0 2 0-3 1-10 0 17 0-13 1-4 0 15 0-10 0-5 0 21 1-18 0 4 0-4 0 2 1 16 0-20 0-1 0 20 1 0 0-18 0 0 0 20 0-21 0 21 0-19 0 8 1-10 0 19 0-16 0 11 1 4 0-17 0 3 0-6 0 8 0 11 0-8 0 9 1-1 0-9 0-6 0 15 0-13 0 1 0 0 0-7 0 2 1 17 0-5 0 0 0-14 0 13 0-12 0 11 0-6 0-6 0 21 0-20 1 8 0 3 0-9 0 9 0 3 0-5 0 10 1-14 0 10 0-16 0 14 0 2 0-1 0 5 0-9 0 6 1-9 0 13 0-22 0 17 0 5 0 0 0-10 0-8 1 8 0 5 0-9 0 3 0 3 0-3 1-7 0 18 0-15 0-5 0 6 1 7 0 7 0-20 0 18 0-19 0 19 1-14 0 17 0-20 0 16 0-18 0-1 0 2 1 2 0 9 0 10 0-11 1 8 0 1 0-9 0-9 0 20 0-15 1 8 0 0 0-5 0 5 0-9 0-1 0 15 0-14 1-6 0 10 1 13 0-1 0-23 0 8 0 7 0-7 0-4 0 13 0-14 0 16 1-15 0-1 0 12 0 5 0-1 1-4 0-8 0 15 0-18 0 5 1 4 0-2 1-8 0 2 1-1 0 15 0-9 0-6 0 9 0-1 1 4 0-8 1 13 0 2 0-16 0-4 0 1 0 15 0 2 0-3 0-16 1 17 0-9 0-5 0-1 0 12 0-3 0 4 1-4 0-2 0-6 0-1 0 19 0-11 1 11 0-4 0-7 1-9 0 4 0 14 0 3 0-14 0-4 0 4 0 5 0-1 1-9 0 6 0 6 0 1 0-17 0 14 0 4 0-7 0-7 1 13 0-7 0 7 1-6 0 2 0 0 0 7 0-17 0 19 0-12 0 7 0-15 1 18 0 3 0-1 0-19 0 17 0-4 0-6 1 7 0 1 0-18 0 20 1-19 0 16 0-5 0 8 0-9 1 0 0 3 0 3 0 5 0-11 0 3 1-8 0-7 0 6 0 2 0 15 0-5 0 5 1-9 1 8 0-3 0 1 0-18 0 5 0 14 0 1 1-2 0 4 0-8 0-6 0 9 0-7 1-7 0 9 0 2 0-5 0 13 1-20 0 5 0 2 1 4 0-9 0 17 0-5 0-13 0 12 1 5 0-6 0-13 0 10 0-5 0 7 1 8 0-20 0-3 1 19 0-13 0-4 0 0 0 6 1 2 0 13 1-8 0-7 1 14 0-1 1-12 0-6 0 6 0-1 1 7 0 6 0-12 0-3 1 12 0 1 0-16 1 4 0-6 0 9 0 11 0-6 1-8 0 10 1-13 0 12 0-12 1 11 1 1 0-5 1 8 0-7 1-9 0 20 0-15 0 9 1-2 0-12 0 0 1 9 0-6 0 16 1-17 1 13 0 2 0 3 0-22 1 9 0-8 0 16 1-3 0 6 0 1 1-18 0 9 1-3 0 0 0-8 0-1 0 8 1 6 0-14 0 0 0 0 1 14 0-9 0 11 0 3 1 3 0-4 0-8 1-6 1 3 1 10 0-9 0 5 1-6 0 1 0 12 0-13 0 10 1-6 0-11 1 23 0-1 0-7 1-3 0-1 0-5 2 16 1-10 0-1 1 0 0-4 0 4 1-5 1-4 1 21 0-3 1 0 0-12 0 2 0 8 1-9 2-1 0 1 0-8 0 13 1-7 0 9 1-17 1 21 0 0 1-3 0-14 0 1 1 7 1-10 0 8 2 11 0 2 2-15 1 11 0-19 1 22 1-2 0 2 0-8 1 8 2-1 0-11 0 7 1-9 0-4 1 0 0 16 1 2 3-21 1 20 0-1 0-17 1 13 3 5 2 1 1-1 1-6 1-13 0 7 1 13 1-1 2-8 2-8 5 16 2-3 1-6 1 1 1 8 2-5 2-3 1 2 3 4 4 2 1-5 2-15 1 22 0-14 0 9 1-18 0 15 1 3 1-9 7 13 0-17 3 6 20 2 8 1 1-14 0 5 9 6 2 2 0 6 34-3 28-12 20 0 12 14 40-6 19-12 7 13 1 4-10 14-24 2-33-4-19 17-19-5-25-7-3 12-16-18-4 12-1-4-2-2-3 2-12-10-10 3-3 6-4-2-8 4-2-4-6-6 0 8-3 12-1-22 0 23-1-10-5-1-1 8 0-11-1 2-1 12-1-13 0-1-1 4 0 5-2-14-2 3-6-1-2 8-2 4-1-14-2 10-2 3-1-1 0-7-1 11 0-10-1-2-1 1 0 12-1 1-1-16 0 17 0-3-1-19-1 19-1-5 0-7 0 1-1 1-3 6-1-10 0 7 0-6 0-4-1 3-1-5 0 8-1 11 0-15 0 9 0-3 0-7-3 4-1-6-1 16 0-13-1 10 0-14 0 3-1 13 0 0 0-4-2-6 0-2 0 8-1 3-2-11 0-1 0 6-1-9 0-2-1 8-2 2 0 12 0-16 0-3-1 19-1 1 0-17-2 4 0-8 0 14-1-8 0 7-1-12 0 15 0-8 0-1-1 10-1-6 0-10-1 0 0 19 0 0-2-3 0-6 0 3 0-4-1 5 0 1 0-9-1 11 0 2-1-5-1-14 0 18 0 2 0-4-1-4 0 8-1-1 0 0-1-16 0 1-1 17 0-19 0 6 0 8 0 2-1-4-1-16 0 16 0 0 0-15 0 7 0 7 0-5 0 7-1-6 0-5 0 14 0-3 0-16 0 5-1-3 0 5-1-1 0 11 0 1 0-11-1 5 0-8-1-4 0 17 0-5 0 1 0 3-2-11 0 13 0-8 0-11-1 19 0-12 0 16 0-3-1 2 0-2 0-17-1 3 0 17-1-9 0 5 0-11-1 13 0-5 0-4-1-10 0 19-1-1-1-20 0 20 0-2-1-11 0 7 0-9 0 11-1 0 0-11 0 17 0-19 0 15 0-18-1 18 0 5 0-17 0 17-1-2-1-1 0-15 0 16-1-3 0-3 0 5-1-2 0 0 0 4-1-22 0 21 0-19-1 3 0-4 0 21 0-23 0 12 0-1 0 9-1-3 0-12 0-4 0 7-1 8 0-5 0-6 0 7 0-7-1 15 0-18-1 20 0-12 0-5 0 17 0-16 0 1-1 14 0-7 0-10 0 0-1 11 0-7 0-4-1 3 0 16 0-10 0 2 0-5-1 8 0 3 0 3-1-4 0-8 0-3 0 3-1 3 0-11 0 14 0-15-1-1 0 18 0-8-1-11 0 22 0-3 0-4-1-6 0-5 0-3 0 15 0-3-1 5 0-6 0 9-1-10 0 10 0-6-1 1 0-9 0 10-1-11 0 11 0-3 0-12 0-1 0 14-1-8 0 3 0-8 0 9-1-8 0 17 0-15 0 18 0-3 0-20 0 9-1 2 0 3 0 7 0-12 0 3 0 6 0-12-1 3 0 0 0-7 0 16 0 3 0-2-1-2 0 0 0 2 0-16-1 16 0-17 0-2 0 22 0-1-1-11 0 12 0-1-1-12 0-8 0 5 0 14 0-21 0 12-1-4 0-2 0 12 0-17 0 14 0-2 0 1-1-10 0 9 0-2-1 8 0-5 0 9 0-4-1-18 0 15 0-1 0 8 0-4-1-3 0-14 0 20-1 0 0-16 0 5 0-3-1 3 0-10 0 7 0-4-1-3 0 23 0-17 0 9 0-10 0 8 0-13 0 5 0 2 0-4 0 9-1 0 0-8 0 11 0-13 0 8 0 9 0-16 0 6 0 5 0-6-1-1 0 7 0-8 0 17 0-21 0 10-1 9 0-2 0-19 0 17 0-17-1 6 0-3 0 17 0-4 0-14 0-2-1 4 0 2 0-4 0 3 0 14 0-7 0-13 0 19 0-17 0 22 0-5-1-18 0 3 0 12 0-9 0 13 0-17 0-2-1 23 0-13 0-3 0 9 0-14-1 19 0 0 0-3 0-6-1-4 0 13 0-16-1-4 0-2 0 17-1-8 0 14 0-13 0-10 0 10 0 1 0-5-1 5 0 9 0-1 0-5 0-11 0 0-1 16 0-5 0 6 0 2-1-17 0-2 0 12 0-12 0 13 0-7 0 3-1 7 0-1 0-6-1-4 0-2 0 0 0 8 0 8-1-4 0-11 0 10 0-12 0 13-1-9 0-6 0 4 0 1-1 9 0-11-1-1 0 9 0 6-1-10 0 10 0-5 0 1 0-1-1 2 0-13 0 3 0 8 0-12 0 19 0-7-1 4 0-9 0 2 0 1-1-13 0 13 0-2-1-2 0 7 0-6-1 7 0-2 0 7 0-19-1 16 0 0 0-14 0 16 0-1 0-17 0 4 0 3-1 13 0-2 0-11 0-3 0 13 0-7 0 7 0-3-1-2 0 1 0-13 0 12-1-8 0 3 0 0 0 5 0 3 0-14 0 4-1-6 0 15 0-12-1 14 0 1-1-3 0-5 0 1-1-5 0 10 0-11 0-4 0 11 0-1-2-10 0 19 0-3-1 1 0 1 0-9 0 2 0-12-1 5 0 4 0-8 0 20 0-14 0-5-1 1 0-4 0 13 0-12 0-2-1 11 0 4 0-9-1 18 0-14 0-8-1 13 0 2 0-7 0-4-1 8 0-13 0 14 0 0 0-11 0 16-1-11-1-1 0 6 0-4 0-3 0 2 0-6-1 8 0-5 0 2 0 2-1 4-1-12 0 13 0 0 0-14-2 12 0 6 0-15 0-2 0 5 0 9 0-8-1 3 0-4 0 4-1 5 0-14 0 2 0 14 0-10 0-5 0 18 0-4 0-14 0 3-1-3 0 6-1 4 0 3 0-9 0 6 0-9-1 1 0 6-1-5 0 17 0-14 0-3-1 18-1-6 0-7-1-3 0 11-1-11 0 2 0 0 0 7 0-6 0 6-1-11 0 13-1-2 0-14 0 11 0-13-1 1 0 10-1-1 0-8-1 1 0 15-1-18 0 2 0 5-1 8-1-8 0-3-1 18-1-9 0-11 0 5-1-4 0 1-1 3 0-6-1 8-1 10 0-6 0 8 0-3-1-15 0 19 0-2-1-4-1-2-2-10 0 2 0 13-1-16 0 18-1-20-2 19-1-13 0-6-1 4-2-3-5-1 0 15 0-5-2-3-2-7 0 5-2 13 0-4-3 8-2-22 0 15-2 1-3-5-10-9-1 18-4-19-7 12-1-10-1 2-8-6-2 1-1-2-2 8-5 14-3-17 0 8-11-2-16 13-28-17-40 10 59 31 41-17 14 8 6 3 6-9 4-1 2 15 4-5 0-4 2 4 5 0 5 3 2-8 7-9 4 6 5-8 1-1 0 7 1-1 1-1 6 4 2 7 0-15 3 6 1-7 0 2 0-1 1 9 0-7 0 7 1 0 0-1 1-9 1 20 1-11 1 4 2 6 1-1 0-14 1 7 0-12 1 8 0-7 1 0 1 16 0 3 1-8 1-8 1 1 1 7 0-2 0-6 2 19 0-13 1-2 0-2 1-1 1 1 0 13 1 1 1-12 0 12 1-5 0 7 0-3 1-2 1-15 0 10 0-5 1 5 0-10 1 8 0 8 1-13 0 7 0 7 0-19 0 12 0-6 2-3 1 10 0-3 0 3 0-2 2 4 0-10 0 7 0 11 1-5 0-15 0 17 2-16 0 1 0-4 0 21 3-6 0-9 0-6 0 14 0-7 1 1 0 4 1-11 0 12 0 10 0-6 1-9 0 0 0-2 0-5 0 11 0 5 1-12 0 12 0-3 0 5 0-17 0 15 1-5 0-12 1 10 0 11 0-3 1 2 0-20 0 6 0 14 0-21 1 19 0-14 0 3 0 3 1 1 1 1 0 1 0-4 0 13 0-10 1-11 0 12 0-8 0 15 1-14 1-6 0 16 0-12 0-2 0 6 0 8 0 6 1-1 0-6 0-14 0 8 0 9 0-10 0 5 1-1 0-9 0 6 0-3 0 5 1-10 0 8 0-4 0-4 1 7 0-1 0 11 0-11 0-5 0 6 1-5 0 1 0-4 1 4 0 5 0 13 0-17 0 8 0 7 0-16 1-4 0 5 0 3 0 8 0-15 0 9 0-4 0 13 1-4 0 6 1-20 0 6 1 4 0-7 1 2 0 9 0 5 0-17 0 9 1 5 0-15 0 7 1 5 0-1 1 9 0-8 0-13 0 3 1 17 0-15 0 14 0 1 0-4 0-6 0-12 0 14 0-2 0-9 1 8 0-4 0-2 1 7 0-1 0-7 0 17 0 1 0 0 1-21 0 14 0-5 0-7 0 20 0-6 1-2 0 2 0 2 0 3 0-12 0 11 0 0 1-8 0-7 0 7 0 8 0-8 1-7 0 9 0-8 1 5 0 5 0-8 1 9 0-14 0 3 0 2 0 7 1 7 0-17 1 0 0-2 0 17 1-18 0 20 1-9 0 10 0-9 0 1 0-13 1 9 0 5 0-15 1-1 0 9 0-8 0 0 0 7 1-2 0 16 0-1 0-16 2 15 0-6 0-6 0 11 0-2 1-8 1 10 0-16 0 4 1-4 1-3 0 21 0 1 0-21 0 17 1-16 0 11 0-5 0 6 1 1 0 0 0-7 0-7 1 20 0-22 1 8 0 14 0-19 0 4 1 16 0-13 0 8 0-3 0-3 1-7 0 13 0-1 0-6 1 0 0 5 0-7 1 2 0-3 0-3 0-5 1 21 0-14 0-3 1-4 0 14 0 8 0-5 1-3 0-12 0 10 1-5 0 2 0 8 0-13 0-2 0 6 0 7 1-8 0 9 0 0 0-14 0 2 1 16 0-20 1 6 0 12 0-10 0 12 0-16 1 18 0-2 0-4 1-6 0 2 0 6 0-7 1-1 0 14 1-5 0-14 1 12 0-12 0 11 0 5 0-9 0-4 0-7 1 13 0-9 0 10 0 5 1-2 0-6 0 6 0 0 2 3 0-15 0 7 1 5 0-13 0 3 1 11 0-7 0-11 0 15 1 0 1 6 0-7 1-5 0 14 0-18 1-3 0 20 0-8 0-13 2 13 0 0 0-15 0 21 0-12 0-3 0-3 1 19 0-6 0-7 0-1 0 7 0 8 0-2 1-7 0 2 0-12 1-2 0 10 0 7 1-8 1-8 0-1 0 4 0 16 1-2 0-15 1 18 0 0 0-13 1-6 0 3 0 3 1-6 0 16 1 4 0-20 0 9 0 6 0 4 0-8 1-10 0 10 0-7 0-7 1 13 0 10 1-2 1-16 0 18 0-2 0-18 0 2 1-3 1 4 0 14 1-18 0 8 0-7 1 14 0-9 1 10 0-1 1 6 0-15 0 8 2 5 0-1 1-9 0-10 1-1 0 16 0 0 1-17 0 21 1 1 0-17 0 4 1-4 0-1 0 19 0-7 1-10 1-4 0 16 1 5 0-20 0 21 1-24 0 23 3-6 0-8 0-3 0 2 0 9 2-10 2 0 0-4 1 2 0 3 0 7 0 6 0-17 1 7 2 6 2 3 2-5 0-15 0 9 0 3 1 1 1 10 0-4 1 1 1-13 4 7 1-6 1 6 0-11 1 19 0-2 1-6 1 4 0-11 1 17 1-1 1-19 1 2 0 8 5 3 0-7 3 5 0-13 1 16 0-15 1 11 3 3 2 1 1-3 0-11 3 3 0 12 0 2 1-15 1 10 2-14 11 20 5-2 2-12 2 14 1-4 0-17 3 15 1 6 0-16 6 15 1 0 2-18 2 0 3 13 1-5 2-2 4 1 6 13 9-14 4-4 1 17 2-15 1-7 12 7 2 10 16-8 27-8 3 3 68 0-53 29-7 15-16-11-30 7-30-5-6-13"/><path d="M891 605l-2 2-1 13-3 0-6-10 0 1-2-7 0 17-1-1 0-2-1-6-1-2 0 9-2-2-4-2-3-5 0 2-2 10-2-3-1 0-3-13-3 14-1-20-1 18 0 3-1 1-4-6-1-11-1 13-4-14-2 1-1 1-3-5-1 19 0-13-2-5-2 18-1-12-1-4 0 19-1-14-1-5 0-1-1 4 0 5-1-10 0 7-1 2-1-1 0 9-1 4 0-12-1 8 0 3 0-17 0 0-2 12 0-8-2 15-1-12-1 8-1-3 0-4-3-9 0 14-4 2-1-10-2 11 0-16 0 6 0-5-2-3-1-2 0 4 0 13-1-2-2-5 0 12-1-22 0 23 0-17 0 17-3-17-1 6-3 11 0-21 0 12-1-12 0 15-1-2 0 4-1 4 0-19 0 0-1 15 0-12 0 2-1-7 0 15-2 6-1-4 0-18 0 18-1-5-1 5-1 2-1-12-1 1 0 10-1-15-1 3 0-1-1 0-1-7 0 8 0 14-1-14 0 6-1-12 0 13 0 2-1 1 0 0-1-1 0-4-1 3-1-15 0 3-1 16 0-15 0 16 0-18 0-1 0 3-1-4-1 11 0-4 0 7 0 7-1-12-1-2 0-3-1 9 0-10 0 10-1-10-1 2-1 1 0 5 0 0-1-5 0 10-1-6 0 4 0-11 0 7 0-9-1 0 0 1 0-4 0 2-1 4 0-1 0 11 0-2-1 1-1-3-2-8 0 15-1-7 0-1-1-5 0 9 0-6-1 11 0 1 0-3-1-11 0-5-1 16 0-5-1-2 0-9 0 4-1 16 0-10-1 10-1-5 0 0 0-5 0 2 0 0 0-6-1 8-1 4 0-10-1-7 0 16 0 2-1-19 0 17 0 3 0-10 0 7 0-8-1-5 0-4 0 10-1 7 0 4 0-14-1 11-1-4 0-3 0 7-1 0 0-10 0 0 0 0 0 8 0-11-1 9 0 0 0 8 0-1 0-17-1 7 0-11-1 9-2 5 0-8 0-4 0 13-1-2 0-9-1-1 0 11-1-10 0-5 0 13 0 6-1-5 0-1-1-8 0 4-1-7 0 19 0-17 0 15 0-16 0-1 0-3-2 9 0-1-1 9 0-7 0 2 0 6-1-1 0-6 0 7 0 0-1-16 0 14-1-14 0 16-1 0 0-12-1-2 0 14 0-8-1 11 0-8 0-13-1 1-1 1 0 0 0 11 0-5-1 13 0-2 0-10-1 2 0 3-1 0 0-11-1 6 0 2-1-8 0 0 0 17 0-1 0-10 0 14-1-15 0 9 0-7-1-9 0 14 0-11 0 10 0 8-1-12 0 12 0-21-1 8 0-6 0 5-1-2 0 7 0 6-2-1 0-1 0-15 0 10 0-4-1 14 0 0-1-21 0 6-2-1-1-1 0 1-2 11-1-8 0-9 0 13-1 5 0-5-1-6 0-7-2 17-2-10 0 1 0-4-1 10 0 4 0-17-1 5 0 17-1-5-1-9-1-7-1 2-2-1-1 18-2-2 0 2-2-16-1 11-1-7 0-7 0 11-1-3 0-1-2-8-1 5-1 8 0-12-3 5-1 7-1 9 0-12-1-8-1-3 0 18-1 0-1-15-1 2-1 7-1-9 0 14-1 2-1-15-1 7 0 6 0-15-2 19 0-10 0 3 0-8-3 7-7 4-3-9 0 1-1 0-2 3-1-2 0-1-2-7-3 18 0-20-4 6-1 13-4-12-5 16 0-8-3-14 0 3-2 4-1 3-1 7 0 0-3-9-6-4-66-4 27 47 5-1 14-12 5 5 12-6 1-9 10 15 2 0 0-2 11-10 1-1 1 8 2-8 0-1 4 3 3 2 1-3 16-1 0 19 2 1 0-9 1 7 1-8 1 2 1-13 2 0 1 10 3-10 2 7 0-2 2-3 1 16 3-18 0 13 0 5 0 0 1 3 1-22 0 11 2 2 0 8 2-16 2 10 2 6 0-15 1 11 1-1 0-11 1 13 1-7 1-3 1 4 2 1 3-11 0 0 0 5 0-4 2 17 0-4 1-13 1 5 2 10 0-1 1-3 0 4 3-5 2 0 0-6 0 12 0-9 1 10 0-10 1-2 0 1 1 1 0-9 0-1 0 5 2 0 1-3 1 14 0 0 3-7 1 9 1-17 1 3 0-2 1-1 0 3 0 7 0-12 3 8 0-7 1 6 3 2 1 12 2-9 0 3 1-7 2-4 1 11 0 6 1-9 1-6 2 3 0 6 1-2 1 10 0-18 0 6 0-7 1-3 0 15 0-4 0-8 1 15 0-17 0 1 0 18 1-14 0 12 0-15 2 2 0 10 0 0 0 8 0-14 1 4 0-13 1 12 0 0 1-6 1 2 0-3 2-2 1 18 0-7 1-6 1-2 1 7 1 8 1-2 0-3 0 5 1-11 0 8 1 5 1-4 1-13 0-4 0-1 1 8 1 2 1-11 0 6 2 6 1 0 0-12 0 3 0 20 1-4 1-4 1-15 1 11 0-9 3-2 1 17 0-4 1-2 0 5 0 6 1-17 0 17 0-16 1 1 2 10 0-9 1-5 0-2 2 0 2 9 1 12 1-4 0 5 1-5 0-12 0 13 1-12 0 11 0-13 4 1 1-5 0 8 0 3 1 2 1-5 0 1 1 5 0-4 2 8 0 3 0-2 1-4 0-9 1 6 2-3 1-8 0 17 1 0 0-11 1 10 0-3 0-9 1-5 2-1 0 21 0-7 1-8 0-6 1 22 0-19 1 15 3-6 1-13 2 12 0-3 1 7 1 0 1-4 0 9 0-4 1-7 3-2 0 7 1-1 3-8 1 3 2 0 1-4 1 17 2-17 1 11 0-7 1-4 1-1 2 11 1-15 7 3 0 13 5-9 0 13 2-2 0-2 1-13 1 16 0-2 0 5 2-3 1-2 2-13 1 9 3 1 3-5 0-8 6 4 5 15 4-15 1-4 4 8 13 5 2-4 6-8 3 8 0-9 2 15 1 3 2 1 1-19 2 10 2 12 5-6 0-7 8 8 3-4 1-1 6-11 0 20 16-16 6-1 17 11 67 30-59 1-12-6-9-11-25 14-11 2-1-18-6 4-2-1-9 9 0 1-2-4-5-7-9 15 0-3-1-5-5-10-1 19-4-17-2-3-2 8-1-9-1 23-3-2-2-5-2-10-4-2-6 3-6 8-2-5-7-7-8 3 0-3-1 0-4 11-5-6 0 10-1-1-1 5-3-8-3-7-3 3-1 3 0 1-1-1-1 8 0-13-1 8 0-3 0-2-2 9 0-20-1 0 0 19 0-13-1 2-4 2-1 6 0-9 0 4-1-3-5 14-1-5-2 1-2-5 0-6-2 13-1-18 0 1-3-2 0 19-1-2-1-7-2 3-1-1 0-9-1-1 0 3-1 7 0 8 0-19-1 12 0-14-1 11-1-6-1 12-2-12-1 8-2 2-1-13 0 19-3-19-1 15-1-8 0 6 0-6-5 10-1-14 0-2-2-3-1 4-2-3-3 15-2-6-1 8-2-17 0 11-2-6-1 0-2-5-1-2-4 10 0 0 0 13-1-6-2-17 0 4-2 19-2-14-2 3-2 1 0-4-5-8-1 10-2 11 0-3-1-12-3-4-2 8-2-6 0-2-3 3-7 3 0-2 0 14-4-20-1 3 0-3-1 13-4-3-7-6 0 12 0-6-2-3-1 6-5-13-1 8-2-2-1-7-3 20 0-20-1 7-2 7 0-5-4-5-9-1-1 8-1-4-7 2-3-8-6 3-1 7-2 1-3 8-3-6 0-8-7 5-9 0-1-2-7 2-7-10-5 19-22-19 56 39 9-14 0 7 1-1 4-7 14 11 2-4 1 13 4-11 1 0 3 13 0-12 6 13 5-17 2 13 0-16 1 9 5 1 1-1 4 2 10-13 6 5 3 3 1-1 1 4 3 0 4-1 1 11 1-14 1 10 3-12 5 5 1-5 1 0 2 5 1 2 4 7 2-12 8 6 1 3 0-12 1-3 3-1 1 4 0 2 3 0 1-3 2 18 1-22 0 1 4 9 3-2 1 13 5-20 1 3 0 7 3-9 1-2 0 17 6-12 0 8 1 1 1-8 0 0 8-2 0 0 1 7 6 11 4-9 4 7 8-1 1-3 1-7 2 10 4 1 1-19 4-1 5 10 3 8 1-7 4 8 4-11 1 8 8-9 20 0 3 2 6 8 6-13 10 3 4 4 3-8 35 14 4-12 2 17 14-8 1 8 10-2 16-3-8 18-12 7-16 2-25-9 0 8-11-8 0-4-1 8-3 8-7-16-2 0-10 7-3-12-5 19-5-9-2-12-1 2-2 1-10 13-4-3-1 10-13-2-3-10 0-4-1 15-3-13-1 0-5-1-5 6-10-5-1-2-21 1-9-4-1 3-2 12 0-20-2 19-3-18-15 2-2 14-1 4-2-2 0-17-11 12 0-3-7 12-2-13-5 13-1-15-1 15 0-2-9-13-1 12-8-10-15-6-3-1-6 13-1-6 0 0-3 10 0-13-2-2-9-2 0 2-3 13-4-15-3 2-22 19-2-18-8 16-1-6-11 2-4-4 22 14 16 7 2-7 13 1 6 17 8-6 4-3 10-4 27 6 2-6 9-3 14-3 12 20 3-10 5 10 0-18 2 2 2 8 20 4 6-4 30-5 1-2 35 11 20-7 47-9 25 8 0-3 8 1 21 3-2 33-32-17-22 3-16 8-15-10-19-4-24 17-23-8-2 6-15-8-5 0-23-5-2-2-30 6-10-5 0 1-4 2-16 4-5 1-13 2-2 4-4-9-13 3-7 1-10 8 0 5-7-6-5-13-5-1-5 18 37 23 38-1 3-14 38-2 60-4 39 23 23-8 20 2 118-16-162 47-48-10-50 9-47-15-14 8-27-7-20 5 28 21 70-6 190 3-142 18-104 40"/><path d="M2018 88l-26-10-304 9-173 30 457-9 57 5 90 27-93-12-248 6-18 4-23-8 4 26 30 1 7-7 137 12 16-3 4 8 30-9 4-14 21 7 4 14 9-2 2-7 0-6 9 17 0-6 69 5 35-22-3 43-29-1-13-9-41-7-4 21-13-12-5-2-14 12-56-10-49-7-70 16-8-1-15-1-16-11-11 4 0 7-8 4-44 1-72-7-20 4-29 1-95-18-167 41 13-10 239 2 4 9 57-20 1 14 17-2 4 6 18-4 37 4 3 2 4 3 10-24 26 21 2-6 3-3 2-11 2 18 3 5 13-14 73 1 59 5 12-3 3 9 0-10 5-2 38 12 7-10 3-10 11 21 3-8 6 2 4-4 0 8 8-5 9-2 13 4 0-7 8-6 6 6 3 10 1 3 2-2 11-8 14 8 22-7 4 30-1-5-3 3-7-5-3-12-2 9-11 7 0-12-2 12-6 2-8-4-16-13-16 20-6-22-2-1 0 22 0-9-2-7-1 7-3-6-8 14 0-5-2 6 0-12-3 3-8-10-8 12-2-3-4 8-2-19-2 1-1 6 0 13-1 3-4-2-5-20 0 11 0 0-2-10-1 18-4-14-1 3-6 2-3-10-9 19-10-6-2 5-12-8-20 7-45-18-79 21-8-4-9 2-4-6-9 2 0 7-1 1-2-5-4 4-5-9-3-12 0 2-12 6-22 12-12-6-7-6-22 5-18-8-3 12-45-1-69 6-140-11-38-12-62 5-46 42 31-19 35 17 41-2 32-2 81-16 17 13 27-8 23 9 67-9 10-3 2 18 10-18 19 19 23-15 6 1 3-3 2 2 9 14 7-14 32 12 2-20 1 19 7-13 3 6 2-2 3 14 15-12 3 1 5-10 0 16 3-5 4-6 3-3 6 18 10-11 0 11 1-20 8 11 13-8 66 7 18 7 16-18 0 15 3 5 1-22 2 16 3-10 5-2 0 19 6-16 1-5 3 22 1-17 0-6 1 17 2 3 3 3 3 0 4-6 7 3 13-5 2 5 3-13 0-7 2 17 0-8 0 2 3 7 0 0 1 0 1-4 1-15 0 6 2 11 1 0 0-15 1 14 0-8 3 15 2-7 3-8 0-6 1 10 3 1 0-7 1 1 0 12 3-17 0 15 0 4 1-2 0-16 3 15 1 1 0 2 1-4 2-9 2 5 3-6 1 16 2-7 1 7 1-9 2-12 2 22 0-2 1-17 2 10 1 7 3-4 1 3 0-7 1 10 0-15 1 8 4-12 3 18 1-10 3 0 1 4 20-15 1 17 6 2 2 1 2-2 2-7 0 7 8 2 0-12 1 12 1-7 4-9 2 5 1 8 2-18 10 16 2 4 0-5 4 1 0 4 2-7 0 7 3 25 0-10 0-7 0 7 0-2 0 13-1-6 0-9 0 0 0-7-1 19 0 0 0-3-1 3-1-7-1 6 0-9-1 2-1 10-3-13-1 9-5-17-3 18-1-11 0 7-3 7-2-10-1-9-2 19-1-8-1-8 0 5-1-5 0 14-1 1-1-20-2 12 0 4-4-13-3 11 0 6-1-15-12 8-2-7-4 17-2-14-4 5 0 7-3-12 0 12-1-14-1 15-1-9-4 0-1 4-1-12-3-3-1 15-1-10-2 3-1 9-1-6-1 10-4-4 0-12 0 1-2 12 0-11-2 1 0-9-2 1-1 7 0 8-1-2-2-7-1-6-2 20-1-4 0 3-1-20-3 11-1 3 0-1 0-3 0 10-1-3-1-8-1-5 0 12-2 1-1 1-1 1 0-4 0-11-1 13-1-6-1-9 0 0 0 3-1 6 0 8 0-8 0 4 0-1-3 2-1-15-2 5-1-6 0 14-1 6-1 2 0-6 0-13 0 14-1-9 0-7 0-2-1 17 0-17-2 17-2 1-1-7-2-6-4 2 0 16-1-3-1-7-1 9 0 0-1-9-4-2-1 12 0-21-7 15 0 4-3-14 0 4-4 7-4 3 0-16-1 13 0-10-2-1-1 4-1 11 0 1-2-7-1-10 0 9-1 7 0-18-1 2-1-1-1-6 0 6 0 12-2-10-2-7-1 14-2 7-1-19-4 18 0-12-3-3-1 13-1 4-5-15-1 0-7 10-13-6-9-1-3 1-17 10-3-17-13-4-19 12-6-5-15 8-2 0-3-13-5 3 0 2-1 15-2-14-2 8-2-11-5 3-4 3 0 11-2 1-2-7-3-16 0 15-2 1-2-2 0 5-1-10-1 13-1-4 0-6-6 10-1-4-5-8-1 9 0 0-6-8-2 11 0-17-1 0-3 18-4-14 0 4-1 3-1-8-16 8-12-13 0 2 0 0-2 16-1-1-9-8 0 11-8-3-3-1 0-11-11-1-3 5-5 1-3 8-7-9-2 11-9-5-1-5-5-4-7 6-1-4-1 9-2-17-16 5-6-6-12 19-2 2-1-16 0 10-6 2-3 1-2-18-12 12-31-4-4 1-19 5-25-13 0 12-184 6-61 24 8 1 34-22 20 18 21-8 19-7 29 5 15 0 47 8 7 1 7-17 18 21 48 0 1-2 13 2 4-15 17 0 8 10 2 1 0-2 17 4 1-3 13-15 1 0 4 21 3-17 0 8 18-7 2 14 0-16 1 10 2 5 2-11 1 3 6 4 1 5 0-2 1 3 13-10 1 11 9-4 3-2 3 5 15-11 2-10 2 22 0 0 2-4 1-9 0 5 7-5 2 0 2-6 1 11 9 8 1-9 1-13 5 0 2 9 0 9 1-6 3 6 0-8 1-4 2 17 2-19 0 17 4-8 9 8 1-8 2-2 1 3 1 2 1 2 0 2 1-17 1-2 0 20 0-18 2 11 0 4 2-3 0-10 1 14 0-9 1 1 0-3 0-7 1 19 1-4 1 2 3-5 2 10 0-15 0 1 3 4 2-12 0 0 0 8 3-3 4 0 1-1 0 17 1-4 3-9 2 0 0 10 0-12 1-5 0 18 1-20 0 16 2-13 3 13 0-3 1-4 0-1 0-9 4 15 1-10 0-5 0 15 2 5 2-16 0 10 7 6 15-7 1-1 0-4 12 2 6 6 23-9 11-1 1 0 6 14 2 2 7-13 7 14 1-14 10-5 2 7 1 4 0-10 4-1 0 13 1 7 0-22 0-1 1 21 0-7 2-1 1 6 1-1 1-15 1 16 1-10 0 6 0 4 1-1 0-1 1-3 1-1 1-8 2 6 2 5 1 4 0-20 1 5 1-6 1 19 0-11 1 13 1-5 0-13 1 16 1 4 0-1 1-22 0 23 0-7 1-10 1 11 0 0 0-4 0 3 1-6 0 9 2-1 0 4 1-8 0-4 0 13 3-10 0-3 1-6 3 7 0-3 5 10 1 0 2 4 0-22 1 9 2-5 0 9 0 1 1-9 0 16 1-8 0-8 0 14 0-6 1 6 0 0 0-4 2-3 0 7 3-12 0 17 0-1 1-3 0-16 0 0 0 8 1 6 0-8 1 11 0-6 1-11 1 16 0-15 2-3 1 14 1 7 2-5 0-12 2 18 0-6 2 4 2-10 0-9 0 17 0-5 1 9 1-1 1-14 0 10 1 2 1 1 0-22 0 19 0-13 0 5 5-4 1 3 1-5 0 4 1 4 1 9 0-3 0-4 1 6 0-9 0 12 1-12 1-8 0 1 0 3 0 0 1 16 0-4 2-6 1-8 1 15 1-4 1-10 6 11 0-18 1 17 0-14 0 1 1 6 1 0 0 2 2 0 1 9 1-1 1-8 0 1 1-4 0-6 0-1 0 0 1 17 1-5 1 10 0-13 1-1 1-10 0 9 1 0 0 3 0-8 0 18 1-16 2 17 0-10 0 1 0-9 0 8 1-9 0 1 1 9 2-6 0 15 0-16 1 6 0 1 2-8 1 15 3-7 2 7 0-1 0-13 1 7 2-10 2 17 0 1 1-5 0-3 4 0 1-12 0 19 0 0 1-3 0-10 4-6 1 11 2 5 4 4 0-7 0-13 1 15 2-7 1-1 1-5 0 4 1-3 3 10 0-6 1-3 0 11 1 2 0-3 4 4 0-5 0-12 1 12 0-5 2 9 1-17 0 6 2 11 0-7 0-6 1-2 0 13 0 3 1-7 1-3 1-10 0 12 1 11 0-17 0 0 0 3 1 12 0-17 2 16 0-12 1-5 0 17 1-17 1 9 2-8 0 1 1 11 3-6 1 6 1 6 0-15 1 1 0 0 0 2 1 4 0 3 0-5 1 1 0-11 0 7 1-8 0 17 0-15 1-3 0 22 0-10 0-2 0 6 0-9 1 7 0 7 0-17 1 7 0-9 0 16 0-4 0 0 2-5 1 13-1 14-1 9 0 3-1-17 0 0 0 9 0-15 0 2-1 0 0 14 0 6 0-19 0 4-1 2 0 5-1 5 0 2 0-7 0 1 0-11 0 6 0-8 0 15-1 1 0-4 0-8 0 5 0-5 0 17-1-23 0 15-2-13-1 3 0 17 0-7-1-7 0 14 0-22-1 23 0-16 0 10 0-1 0-14-1-2-3 15 0 7 0-15-1 13 0-17 0 18 0-20 0 1 0 12-1-10-2 16-1 0-1-6 0-11-1 1-1 18 0 0-1-6-1 0 0-1-1 3 0-3-1-5 0 7-1-11 0 13-1-7-2-6 0 5-1-5-1 4 0 12-1-13 0-7-2 5-1-4 0 15-2-17 0 16-1-1 0-7-1 13-1-22 0 14-1-12-3 8-1 10-1 1 0-16-1 18-1-24 0 5 0 7-1 7 0-5 0-14 0 23-1-7-1-9 0 6-2 9-1-4-2-6-2-12 0 24-1-24-1 16-3-2-1-6-1-5-2 11 0 3-1-10 0 13 0-2-3 5-1-15-1 14-1-13 0-4 0 7-1-11-2 18 0 5-4-17 0 15 0-14-2-8 0 12 0-2 0 12-1-5 0-7-2 7 0-9 0-7 0 13-1 3-1 2 0-3-1-9 0 0-2 12-1 2-2 1 0-11-1-3 0 10-1-15-2 20 0-8-1 6-1-2-1-3 0 5 0-4-1-16 0 5-2-4-1 15-1 0 0 3-1-5 0-15 0 0-1 6 0 16 0-13 0-6-1 17 0-8 0-6 0 12-1-2 0 5-1-4 0-1-1-9-1 9 0 8-1-16-1 9 0-17 0 15 0-11 0 14 0 3-1-20-1 20-1-20 0 21 0-17-1 0 0 14 0-12 0-7 0 17-1-7-1-7-1 12 0-14 0 9-1 3-1 2 0-1-1-4-1-4 0-4 0 22 0-2-2-1-1-12-3 6-1-3 0 8 0-7-1 4 0-1-1 2-2-16 0 6 0 15-2-12-2-3 0 2-1 12 0-6 0-16 0 22-1-1 0-18 0 18-1 2-1-18-1 7 0-1-1-10 0 19 0-9-1 7-1 0 0-17 0 22-1-5 0 2-1-2 0-7-1 3 0-6 0-2-1 9 0-10-2 10 0-1 0 5-2 2-1 1-2-14-1 3 0 6-1-16 0 22-1-12-1-5-2-4 0 16 0 5-1-8-1-8 0 15-1-15 0 2 0 6 0-5 0 5-1-12-1-3-1 2 0 7-2-6 0 12-1-11-1 11 0-3 0 7-1-10-1 12 0-19-1 21 0-22 0 4 0 1 0 3-1 9-2-14 0 9-4-6-1 3 0 6-8-9 0 14-2-19 0 20 0-6-1 4 0-9-1 6-1-2 0-6 0-5 0 2-1 14 0-3-1-12-1 6-2 1 0 12 0-5 0-1-1 5-1-19 0 16-1-10 0 10-1 3 0-21-1 10 0 10-2-9-3 1-8-6-2 15-3-11-4 8-10-3-1-15-3 3 0-4-20 7 0-3-4-4-1 10 0-2-1 4-4 6-3-5-2 4-8-17-2 5-1 0-1 7-3 9-5 2 0-12-3 6-4-7 0 1-2 10-1-19 0 2-2 6-3 1-1-8-2 11 0 2-2-5 0-10-1 20-1-10-1 3 0 7-1-17-1 14 0-3 0-10-1 3-1 3-2 9 0-11-1-2-1 7 0-1-1 5 0-7-1-6-1 8-1-1 0 5-1 0 0 5 0-15 0-6 0 14-1-4 0 12-1-2 0-2 0 0 0 2-1 2-2-6-1-8 0 8-2-11-1 11-2 5 0-9 0-10-1 12-1-9-1 3-1 11-1-4 0-8 0 14-1-15-2-5-1 19-1-8 0 2-2 7-3-15-1 13-2-2 0-15-1 5-2 3-1-10 0 2-1 14 0-11-1 14 0-5-3-12 0 12-1-2-1 2 0-1-2-7 0 15 0-9 0-8-1 4-1 14-4-19 0 12-1-12 0 1-1 3 0 10-1-12 0-1 0 3-1-9-1 17-2 1 0-1-1-2 0 8-1-13 0 1 0-6-4-3-3 16-2-10-3 11 0-5-3-12-1 6-1 15-1-14-3 11-1-17-3 17-2-5-2-11-2 18-1-2 0-2-1-1 0-5-1 10-3 0-1-20-1 18-4-18-1 20-2-1-4-6-1-10-1 15-1-13 0 2-2 6-1-8-2 13-8-5-5 4-2 1-1-6-2-7-4-7-6 21-3-21-3 21-1-8-2 1-2-2-1-1-2 12-1 0-2-19-2 0-1 9-1-3 0 0-1 11-5-4-6-9-3 0-1 4-6 10 0 1-2-8 0-7-1 14-4 1-3 0-1-1-2-18-5-3-3 13-2-12-1 0-13 17 0-7-14-5-1 11-7-5-7-6-4 14-4 3-23-19-1-2-6 7-10 2-16 8-13-15-9 10-1-11-6 15-17-8-1-6-14 17-7-13-10-3-7 10-1-2-5 5-8-16-17 20-3-8-15 0-26-12-17 19-24-5-14 1-1 14 14 14 9-6 2-10 7 14 8-4 2 2 9-16 5-1 27 6 25 14 0-19 7 9 1 8 7-9 8-1 36 1 17 14 6-9 0 5 0-10 6-8 5 1 12 21 2-23 7 23 3-20 2 8 1-11 3 8 8 15 4-13 3 3 4 10 4-20 0 0 9 15 5-1 1-17 6 11 0 0 1-9 1 4 0 0 5 7 3-7 2 8 7 4 1-5 3 7 0 2 3-8 4 2 8 1 5-11 2-5 4 2 2 18 3-10 1 4 7-2 0 6 0-18 1 14 1-10 1 11 3 4 1-6 2 1 2-2 0 5 1 0 1-3 1-6 2-1 1 9 0-16 2 3 5-4 0 10 0 0 1-2 3 1 2-9 2 4 2 7 1 0 1 9 0-6 2-5 4 3 0 5 1 1 2-8 0-3 3 5 4-7 2 11 1-2 4-14 2 13 0 5 3-13 2 17 3-4 1-7 2 1 6 1 4 9 0-3 0-15 1 19 2-7 0-15 0 12 3 5 1-6 1-11 1 6 2 10 0-10 0 4 2-11 1 20 2-17 1 3 0 15 1-20 0 9 1 10 1-8 1 8 0-18 0 16 1 1 2-8 4 6 2-17 2 12 0 1 0-13 2 6 0 13 2-10 0-4 0 16 1 2 2-1 0-10 1 0 0-7 0 8 0 10 2-23 1 11 1-8 5 9 3 5 0-3 1 3 1-6 0-2 0 1 1-7 1 16 1 3 3-16 0 1 2 13 1-21 0 24 1-2 1-6 1-10 0 1 1-6 0 8 0 1 2-6 0 12 0-3 1 1 1 7 0-20 2 9 0-2 0 5 1-2 1-6 0 18 0-9 2-9 3 16 0-15 0 2 1 8 1-13 1-3 0 15 1-4 1 6 1-15 0 17 2-13 0 0 0-2 1 7 2 5 0-11 2 4 1-2 0 11 0 1 0-2 1-4 1-5 3-7 1 18 0-19 1 14 0 1 0-5 0 12 1-21 0 16 2-15 0 22 1-8 0 1 1 7 1-7 0-15 0 10 0-4 0 15 2-3 0-20 0 5 1 4 0 10 1 2 0-19 2 16 1-17 0 16 0-5 2 9 0-14 1 10 0-8 0 8 0-5 1 1 0-10 1 6 0-7 2 11 4 8 0-8 1 6 0 2 2-15 1 12 1-11 1 7 2-9 0 17 1-6 2 4 5-19 1 18 1 4 0-17 1 11 1-8 4-1 1-3 1 18 1-6 2 6 1-14 2 15 1-11 0 4 1-5 1-11 5 1 0 11 3-13 3 4 1 3 1-4 0 18 0-1 6-2 3-4 2-11 0 15 3-6 4 11 3-2 1 1 2-2 0-15 1-2 1 3 0 11 2-15 6 13 1-1 1-5 6 11 2-15 1 5 2 4 2-14 3 11 1 2 0 0 1 6 2-7 3-12 4 1 2 7 0 7 1-13 1 7 1 0 0-7 0 5 2 0 0 13 0 0 0-11 1 4 0-12 1 16 0-15 0 17 1-11 0 2 0 13 1 0 0-11 1-10 1 16 0 4 0-4 1-2 0-11 1 6 1 12 0-14 1-5 0 3 1 11 0 6 1-8 1-12 1 1 0-5 1 12 1 4 0 5 0-14 1 11 2-5 1 1 0-6 0 14 0-20 2-1 0 15 1 6 0-13 1 4 0-9 0 17 0 2 1-11 0 2 0-12 1-1 0 22 0-5 0-17 1 3 0-1 0 14 0 4 1 1 0-1 0 1 0-8 1-10 0 8 0-1 1 5 0-11 1 15 0-16 0 10 0 8 1-8 0-12 1 11 1-6 2 14 0-11 0-4 1 0 1 13 0-3 1-9 0 4 1 10 1 1 1-3 0-4 0-13 1 3 0 16 1-18 1 13 0-8 1-7 3 20 1-11 0-1 0 12 1-2 1-8 2 3 0 3 1 0 0-5 0 10 1-5 0-8 1 4 1 1 0 2 0-9 3-7 1 23 0 0 0-9 0-13 1 4 0 5 0 0 2-3 0-4 0 9 0 9 0-17 0 6 1-4 3 18 1-13 0 11 1-12 1 11 1-20 2 13 0-10 0 7 1 10 0 1 0-11 1 1 1-11 0 6 0 6 1 2 1 6 2-21 1 8 0 14 1-3 1-12 1 0 0 3 1-6 1 13 0-9 0-7 0 8 1 6 0-13 0-1 0 10 0-2 1-5 1 12 1-8 0 6 0 2 0 0 1-5 0-8 0 21 0-2 0-11 1 13 2-19 0 11 1-9 1 16 0-20 0 7 0 10 0-18 1 14 0-9 0-7 2 1 1 18 0-18 1 4 2 3 1-7 0 19 1-7 0-5 0 11 1-13 1 10 1-4 1-3 0 0 1 11 0-3 0 5 1-20 1-1 0 13 0 3 1 3 0-16 0 4 0 15 1-15 1-4 1 17 1-13 0 2 1 8 0-10 1 7 1-6 0-6 0 2 0 1 1-1 0 12 0-17 1 9 0 8 1-8 0 11 2-11 1-6 1 19 1-12 0-9 0 18 3-19 0 4 2 2 2 7 0-7 1 12 0-16 1 7 2 8 0-16 1 17 0 3 1-18 1 12 1-11 0 5 1 0 0-9 0 10 3-4 0-4 0 10 1 8 0-13 1 16 1-8 0 3 2 4 1-2 0-16 0 8 0 10 0 2 1-6 0-7 0 0 1 5 1 7 0-18 1-3 0 15 0-4 1-7 0 3 1-8 0 8 1 4 0 9 0-3 1-11 0 14 1-10 0-1 0 12 0-23 0 19 1-16 0 5 0 14 0-7 2-10 0 15 1-11 1-6 0 14 0-17 1 22 1-18 0 3 0 7 1-11 1 15 1 5 1-6 0 5 0-22 0 24 1-3 1-19 1 9 0 9 2-10 0 8 0-9 0-5 1-2 1 20 1-10 0-9 0-2 1 14 0-13 0 11 1-6 0 6 0-7 0 16 1-4 0-14 0 6 1 5 2 6 0-1 0-1 0-4 1-10 0 5 0-9 1 10 0-7 1 1 0-4 0 10 0-9 5 2 0 7 0 11 0-16 0-4 1-2 0 7 0-6 1 9 1 10 0-15 1 19 0-21 0-1 1 19 0-15 1-2 0 4 0-1 1 10 0-4 1 1 0-3 0 8 1-4 0-11 0 8 0 10 0-20 0 12 1-11 0 3 0 7 0 1 0-6 0-7 0 16 0 7 1-2 0 1 0-20 0 5 0 0 0-4 0 18 0 0 0-5 0-9 1 1 0 12 0-11 0 1 1 35-1-9-1-6 0 13-1-9 0-5 0 6 0-6 0-3 0 5-1-3 0 4 0 1-1-2 0 5 0 6 0-10 0 5-1-12 0 10 0-8 0 17-1 2 0-14-1 13 0 0 0-16 0-4-1 2 0 3 0 15-1-13-1-8-1 13-2-2 0-3-1 14 0-1-1-15 0 5 0-2-2 8 0-10-1-1-1 6 0-11-1 17 0-8 0-6 0 1-1 5 0 2 0 7 0-14-1 10 0 3-4-8 0-4 0 6-1-12 0 22 0-11-1 4-1 4-1 3 0-10-1 10 0-18 0 11 0-2-1-2-2-1 0 13-3-11-1-1 0-9 0 16-1-5-1-1 0 4-1-7-2-10-2 22 0-4 0 5-2-4-1 4-1-14-1 9 0-16-1 17 0-11 0 14 0-8 0-4 0 8-1-7 0-2 0 1-2 5 0-6 0 6-1-9-1 0 0 0-1 13 0-4 0-9-1 5 0 10 0-20-1 15 0-8-2 13 0-11 0 7 0 2-1 3 0-1 0 1-1-22 0 20-1-17-1 12-2 2 0 3 0-10-1 3 0-2 0-4 0-3-1 8-1-10-1 9 0 8-1-8 0-10-1 1 0 18-1 1-1 0 0 0 0-3 0-12 0 7 0 9 0-22-2 19-1-19 0 3-1 18 0-11-1-8-1 2 0 14-1-16-1 15 0 5-1-3 0-4-1 7 0-10-1-11 0 5 0 14 0-13 0 11-1-14 0 11-1-8 0-3 0 18-1-11 0 11-1-3-1-2 0-16 0 14 0-5 0 2-1-2-1-2 0-6 0 10-1 7-1 0 0-15 0 19 0-21-1 3-1 12 0 0-1 5 0-7 0 9 0-18-1-1 0 10 0-15 0 16 0 0-2 6-1-19 0 12-1-13 0 13-1-5-1-4 0-3 0 13 0-1"/><path d="M2014 366l-1 0 0-1-1 15 0 1-1-3-3-17 0 15-1-3-1-4-1 0-1 5-2-1 0-7 0-6 0 17 0-6-1 2-2 1 0 3-1-8 0-2 0 1-2-1-1 4 0 11-1-19-2 5-1 3 0 9 0-18 0 1 0 7-1-8 0 15 0 1 0-5-1-3 0 0-1 10 0-13 0 5 0 2 0 6-1-2 0-2-1 1-1 1 0 4-3-21 0 1 0 5-1-5 0 14-1-14 0 8-1-4 0-6 0 15-1 8 0-10-2-9-1 7 0-5-2 9 0-3 0 1-1-8 0-4-1 21 0-18 0 1 0 14-1-7 0 2-1-11-1 8 0-11-1 1-1-1 0 1 0 19-1 1 0-7 0 1-1 9 0-18 0 3 0 2 0-7 0 16 0 2-1-11 0-7-1 15 0-11 0 4 0-9-2 17-1-11 0-1-2-6-1 8 0 0 0-4 0 10-1-1-2-6-1 2 0-1-1-2 0 16 0-19-1 5 0 3-1 0 0-8 0 0-1 12 0 1 0-6 0-6-1 8 0 2-1-2 0-7 0 11-1-12 0-1-1-1 0 5 0-5-1 10 0-3 0-2 0 5 0-11 0 12-1-10 0 0 0-1 0 11-1 5 0-16 0-3-1 18 0-14 0 7 0-9-1-2 0 10-1 4-1 1 0 4 0-6 0 0-1 6 0-5-1-6 0 10 0 0-1-6 0-13-1 13 0 6-1-11 0 15-1-22-1 1 0 21 0-10-2 0 0-11-1 12-2 0-1-14-1 2-1 1 0-2-1 6 0 5-1 9 0-8 0-11 0 16 0-1-1-6 0-7-1 1-2-1-1 17 0-18-1 17-2-13 0 7 0 9-1-1-2-11 0-5 0 6-1-3 0-5-2 8 0-7 0 0 0 18 0 0 0-14-1 9-2 3 0 2-1-23-2 20 0-1-1-10-1 8 0-6-3 11 0-4-5-11 0 6-2 7 0-9-1 5-2-6-2 12-1-6-2 0 0-4-2 2-8 8-1 0-1-22-1 23-1 0-1-13-1 13-2-3 0-8-10-11-2 20-2 2-1-11-1 5-2-17-4 1-1 12-1-8-1 6-3-6 0-1-1 13-1-13-1 3-1 3-2-10 0 11-7 3 0-12-2 19-1-5-1 6 0-1-5-5-3-15-1 2 0 1-1 0-1 9-1-9 0 6-1 2 0 9-2-2 0-15 0-2 0 22 0-12-1 10-1-19-1-1-1 17-1 1-1-9-1 1 0 3 0-13 0 8-1 14-1-15 0 15 0-22 0 10-1-2-1-1 0-4-1 14-1 5-1-24 0 3-1 11-1-2-1 12-1-10 0 8-1-17 0 15-1-8 0-8 0 17 0-2 0-9-1 4-1 5 0-19 0 17 0-16-1 6 0-5-1 8 0 3 0 9 0-1 0-12-1-6-1 16 0-3-1 0 0-3-1 2-2 6 0-9 0-1-1 6 0-5 0 8-1-11-1 11 0-3 0-6 0-7 0 14 0-6-1-11 0 23 0-7 0-5-2 2 0-1 0-10-1 7 0-1-1 7 0-15-1 9-1 4-2-9-1 6 0 8-1-6-2-4-1 14 0-5-1-15-1 7 0 2-1 7-1-8 0 4 0 8 0-2-1-14-1 8-1-10 0 16-1-4 0-12-1 12 0 1-1-15 0 11 0-6-1 1 0-4-1 10 0 0 0 2-1-1 0 5-1-10 0 10 0-17 0-3-1 16 0 6 0-8-3-5 0 5-2-10 0 5 0 5-1-4 0-7 0 12 0-10-1 11-1-6 0 6 0-8-1 3 0 5-1 2 0-13-1 11 0-5-1-7-1-1 0 19 0-12 0 9-1 1 0-4-2-9 0 3 0-8-1 13-1 0 0-13 0-3-2 1 0 16-1-8 0 4-1-12-2 14-1 3-1 1 0 1-1-4-2 7-1-11 0-10 0 22-1-19-1 1-2 14-1-15-1 18 0-16 0 10-1 2-1-1-4-11-1 14-1-21-1 0 0 8-2 9-4 6 0-9-1-6 0-2-1 15 0-16 0 15 0-2-1 5 0-8-1-14-1 3-1 4-1 13 0-9 0-2-1-5-2 8 0 5-2-14-1 1-1 10-1 7 0-9-2-5-1 13-1-11-3 2-1 4-1-11-1-3 0 8 0 10 0-11-1-1-2-6-1 0-5-1-2 4 0 10-2 3-4-8 0 0-1-6-1-2 0 5-2 13-1-11-1 9 0 4-1 2-1-13-3-5-1 5 0 5-1 7-2 1-2-2-1-6 0 7-1-1 0 1-1-22 0 13 0 9-4-12 0-7 0 3-1 16 0-5 0-10 0 12-1-20-1 23 0-6-1 3-1 3 0-11-2 12-2-7-2 3 0-15-1 18 0-8-1-14 0 2-1 10 0-4-1 0 0-8-1 5-1-4 0 18-1 1 0-11-1-1-1 3-1-5 0 0-1 17 0-2 0-2 0-20-2 19 0-5 0 3-1-2-1-6-2-2-1 13-1 2 0-19-1 14 0-8-1 2-1-3-1-5-1 6 0 8-1 4-1-4-1-3-1 0 0 7 0-4-1 3-6 1 0-7-1 6 0-10-4 8 0 1-1-18-1 15-1-10-3 11 0-5-4-3-2 14-2-3-2-5 0-10-6-5 0 12-8 3 0 5-2-1 0 5-1-16-1 10 0-12-2 7-1-12-1 7-1 11-2-13 0 12-1-9-2 11-4 0-2-10 0-3-2 15 0-10-3-4-1 2-3-1-1 2-3 2-3-10-1 17-1-5-5-6-1 11-1-13-1 15-4 0-2-2-1-18-4 11-1 10-2-11-7 1-4 4-1 0-4-9-10 7-17 5-12-10-8 2-3 10 0-9-17 11-3-3-1-5-6 1-5 2-3-12-6 13-3-5-1 7-5-5-2 1-7-13 0 7-1 7 0-2-1-9-1 16-1-4-4-17-3 1-1-4-6 10-5 7-5 5-3-6-26 7-26 0-7-14-5-5-2 5-5 9-6-12-3 2-3 24 11 15 3-5 1 4 1-17 1 12 2 5 4-18 9 13 3-11 5 4 2-9 7 22 2-2 2 0 1 0 4 1 2-6 2-3 6 11 6-15 3-2 3-3 4 18 0-18 2 11 7 1 5 7 7 1 2-9 2 0 0 1 2 2 1 2 1-16 2 16 3-12 5-2 0 17 1-16 3 5 1 8 1-19 0 7 2 15 1-18 3-3 4 9 4 0 2 2 0-13 0 19 5-18 0 22 12-17 0-3 5 16 7-9 3 0 0-4 5 2 3 9 4 6 2-22 3 7 0 13 1-16 7 5 3 9 5-14 11 7 1 5 2 3 1-1 0-4 0 4 0-15 5 0 0 9 1-12 2 12 1-7 3 13 4-9 1 4 0-8 6 18 2-24 0 7 0 7 3 8 0-15 3 15 2 2 2-15 3 4 0 2 1-12 3 10 0 2 1 1 1-15 3 14 0 6 4-10 5-9 2 10 0 2 1 4 1-9 1 12 1-11 1 1 1-4 0 10 1-2 1 8 2-5 3-13 0 8 1 6 1-4 0-2 1 3 0-8 0 10 1-13 2 14 1-5 1 6 0-8 2-11 2 9 0 5 1 3 1-8 7-1 1 13 1-17 3 1 1 8 2 5 3-13 0 6 1 4 1-15 1 21 1-18 0 9 1 3 3 3 1-4 1 0 1-4 0-6 1 5 0 1 0-2 3-1 0 2 0 3 2 2 0-10 0-3 0-2 2 2 0 13 0-3 0-4 1 13 0-16 0 12 1 6 0-10 1 0 1 3 1 0 0-6 0 13 1-16 0 16 2-19 0 18 1 1 2-10 0 3 0 1 0-10 0-6 1 4 0 15 0-11 1 13 0-22 1 24 0-12 0 2 0-11 0 3 1 16 0-12 1 8 1-2 0 0 1-11 0 13 0-8 2 5 0-1 0 3 2-1 2 6 1-4 0-5 1-1 1 3 0-1 0 8 0-8 0 5 1 4 0-2 0-2 1-7 1-3 1 5 0-3 1 11 1 2 0-13 1 4 2-10 0 10 1 1 1 8 3-12 0-9 1 4 2 8 0-8 0-7 1 20 0-8 1-3 0-6 0 10 1-2 1 3 0 8 3 1 0-20 0 13 0-15 1 14 0 2 1-12 2 13 1-10 1 4 1-7 2 13 3 3 0-14 1 9 2 1 0 0 0-1 2-7 1 1 1-6 1 19 1-18 3 4 1 3 3 8 2-3 0-4 1 2 1-4 1 0 0 0 0-8 0 2 1 6 0 7 0-3 1-11 1 16 0-17 0 7 1-4 1 3 1-8 0 15 0 0 1-11 1 9 0-7 2 3 0-8 1 21 0-13 0 7 1-7 1 7 0-12 1 1 0 7 1-12 0 12 1-9 2-2 2 16 1-7 1 3 0 8 0-11 1 11 1-9 0 1 1-5 0 5 0 6 0-7 1-9 0 5 0-3 0 14 0-1 0-6 1-7 0 0 1 12 0-6 1-7 0 4 0-6 1 11 1 8 0-2 1 1 0 1 0-2 2-12 1-2 0 4 0-4 1 13 1-8 0-4 0 0 0 12 1-10 0-4 0 8 0-2 0-8 0 7 2-2 0 8 0 2 2-16 2 14 0-3 0 11 0-4 1-8 0-11 0 4 1 4 0-6 1 2 1 4 0 5 0-11 1 4 0 8 0 8 1-17 0 9 1-10 1 9 1-8 0 1 2 14 1-8 0 11 0-11 0 2 2-13 1 3 1 11 0 7 0-18 0 3 1 4 1-11 0 6 1 7 0 9 0-1 1 2 0-2 0-3 1-2 0-9 1 15 1-19 0 8 0-11 0 10 0 7 1 0 0 0 1-16 0 0 0 1 0 19 1-18 1 10 0-2 0 3 1-10 0-4 0 12 0 1 0 9 0-12 1 3 1-7 0-5 1 13 0-12 2 4 0 13 1-11 0 8 2-12 0 1 1-6 0 9 0-5 0 8 1 8 0 1 1-2 0-4 0-12 0 14 1-14 0 19 0-9 0 6 0 5 0-5 1 0 0 5 2-8 0 7 1-5 1-14 0 16 1-4 0-14 1 9 0-10 0 1 0-1 1 7 0 3 0-10 2 21 0-22 1 18 0-14 0 11 0-5 0-3 0 9 1-11 2 6 1 9 0 2 0 1 0-22 0 5 1 11 1-7 0 2 1 7 1-5 0-11 0 7 1 3 0-2 0 11 0-10 1-1 0-3 1 3 1-10 1 13 0-10 0 14 1-9 1 5 1 8 0-4 0-13 1 16 1 2 1-15 0 7 1-6 1 8 0-4 0-1 2 6 2-9 0 6 1 5 0-9 1-11 0 20 0-2 0-1 1-10 0 14 2-7 0-2 0-3 1 6 1-9 1 10 3 4 1-19 2 4 1 9 0-9 0 11 2 7 0-3 2-12 0 6 1-7 2 9 0-1 2 3 2-8 1 13 3-20 0 11 3 2 3 6 1 0 6 0 9-4 0 2 0 0 1-19 0 7 1-7 4 13 1 3 4-4 0 7 1 0 1-2 0-12 2 13 1-15 3-4 1 19 4-7 2 11 2-2 2-11 0 11 2-11 0-2 1 12 2-4 2 1 3-7 2 6 0-13 2 9 2 2 2-10 5 10 1-7 0 10 1-1 1-1 1-3 0-1 1 13 0-11 0-8 0 3 0 7 0-8 1-6 0 3 1 5 1-2 1-3 0-3 2 14 0-12 0 12 0 4 0 1 1-3 1-8 0-1 0 8 1-15 1 22 0-5 1-15 1 14 0 0 0-1 1-3 0-1 0-3 1 8 0-10 0-6 2 0 1-1 0 9 1 11 0-4 1 2 0 1 0-13 0 7 1 3 0-13 0 11 1 1 1-6 1 4 1 4 0 5 0-9 0-1 0 6 0-3 2-4 0-5 3-4 1 1 0 7 0-5 2 6 0 1 1 0 0 9 0-9 0-10 1 0 0 20 1-16 0 5 1 8 0-18 1 3 0 3 2 3 0-8 0 1 0-1 1-1 0-1 1 6 1 12 1-12 1 14 0-13 3 9 0-13 0 4 1 14 0-10 0 5 1 0 0-12 1 9 1-10 1 7 0 14 0-17 1-1 1 13 0-13 0 8 1-11 2 9 0 5 1-15 0 8 0-8 1 7 0-9 0 0 1 17 0 2 0-15 0 9 1 5 0-17 2 23 1-21 0 16 0 1 0-20 0 7 0-3 1 2 1 0 1 11 1 1 0-12 1 5 0-3 2-3 1 0 1 15 0-16 0 6 0 8 1-13 1 3 1-1 2 10 4-3 3-3 0 7 0-11 0-4 1 18 1-20 2 20 1-9 0 5 0 2 0-11 0 13 1-16 0 6 0 3 1 0 1-13 1 18 1-10 1 4 1-11 0 17 0-5 1-12 1 11 0 3 0-7 2-8 1 10 1-4 0 0 0-6 0 22 1-13 1 6 0-11 0 13 1-9 5 13 3-19 1 3 0 2 1 11 2-17 0 18 0-2 4-11 1 0 2 8 0-10 1 10 0 0 0 0 1-12 3-2 1 1 0 20 0-8 1-2 0 8 1-18 1 9 0-9 1 3 0 9 1-9 0 3 2 15 0-5 0-18 1 2 0 11 2 9 1-15 0-7 1 1 0 11 1-4 2 3 0 4 0 9 0-20 1-1 0 20 1-7 0-5 0 8 1-19 0 9 0 6 1-7 1 5 1 9 1-4 0-4 0 5 1-5 0-9 0 14 0 0 1-18 0 17 1-12 0 13 1 4 0-18 0 9 1-7 0 6 1 4 2-14 0 6 1 7 1-2 1-3 0 9 0-5 1 7 0-10 2-9 0-3 0 15 0-14 1 6 0 4 1 3 0 7 1-12 1-2 0 12 0 2 1-13 1 14 1-12 0 5 1-2 0 0 0 10 1-7 0-15 0 10 1-9 1 10 1-11 1 2 0 18 0-16 1 12 1-1 0 4 0-14 1 5 1-4 0-4 1 18 1-5 0-9 1 16 0-16 1-6 1 8 0 13 2-9 1-3 1 3 0 1 1-6 2-1 1 3 1 7 0 2 1-13 0 0 0 15 0-19 0 21 2-12 0 6 0 7 1-13 1 10 0-18 0 5 1-5 2 18 0-3 2 4 0-8 1-14 0 5 0 16 0-5 1 3 1-15 0-1 0 15 1-8 0 4 1 3 1-9 0-5 1 5 0 4 1-5-2 17-1 6 0 9 0 6-1-7 0 6-1-19-1-1 0 2 0 0-1 15-1-16-1 4 0 13-1 0 0-2-2-15 0 6 0 2-1-1-1 0-2 14-2-15-1 9 0-14-1 0 0 21-1-21 0 6-3-4 0 9 0-11-1 1 0 1-4 19-2-15-1 4-1 2 0-10-3 18 0-12-1-5-1-4-1 9-1 4-1-12-1 12 0 5-2-18 0 3 0 9 0-12-3 14 0 7-1-14 0-7-2 9 0-9 0 16-1-11 0-2-3-1 0 21-1-17-1-4 0-2 0 4 0 4-1 13 0-10-1-10 0 2 0 16 0 0 0 2-2-9 0-6 0 8-1 5 0 2 0-22 0 2-1 2 0 7-1 8-1-18-2 21-1-6-1 4 0-12 0 2-1 7-1-9-1 7-1-5 0-6-1-4 0 18-1-2 0 6-1-17-1 2 0 0-1 4-2-10 0 14 0 1-1 6-2-21 0 15-2 4 0-7-1-11 0 2 0-2-2 14 0 6 0-8-1-3 0 2 0-3-1-8 0-2-2 6 0 2-1 8-1-9-2-2 0-2 0 18-2-19 0 10 0 5-1-5 0 0 0-4 0 14-1 0-3-5-1-11-3 9-3-7-1-4 0 6-2-2-2-2-2 9 0 0-1-6-1-5 0 6-1-8 0 21-5-3-2 4-1-19 0 12 0-15-1 7-1 7 0-5-1-7-2 11 0-6-2-8-1 13-1-3 0 11-1-22-1 8 0 8 0-1-1-8-4-2-1 1 0 12 0 3-1-1 0-16-1-4-1 21-1-7-2-6-2 6 0 5 0 5-1-1 0-10-1 2-1 6-1-12 0 10 0-17 0 7-2-9-2 14-1 8-1-20-1 21 0-10-1 5-2-1 0-15-1 10-1 1-1-9-1 12-1-14 0 14-1-13 0 15-3-14 0 17-1-11-1-5-1 9-1 2 0-8-1 7-1-7-1 3 0 6 0-15-1 0-1 7-1 9 0-14-1 7 0-10-2 11 0 10-2-12-2 2 0-9 0 15-1-10-1-1 0 12-2-15-2-3-2 12-1 1-1 7-1-8-1-6 0 0-1 7 0-3-1 10 0 2 0-7 0 3-2 2 0-4 0-15 0 0 0 8 0 2-1 6 0-11 0 11 0-17 0 21-1-14 0-3 0 5-1 11 0 2-1-21 0 7-1-8 0 13 0-4 0 4-4-14-1 23 0-10-1-13 0 5 0 11-1-14-1 22-3-18 0 1-4 0-5 4-1 9-1-17 0 9-1-4-1 11 0 0 0-11-1 16-1-22 0 21-1-2-1 0-3-11 0 5 0-11-3 13-2-13-1 5-1 8-1 1-1-11-1 13 0-15-1 18-1-12-2-10 0 3-1 14 0-7-1-9-2 18-1-4-1-14-1 0-2 15 0 0 0-10-6-6-1 13 0-11-1 4 0 11 0-13-1 3 0 1-1-5 0 4 0 0 0 14 0-19-3 0-1 12 0-8 0 10-1-1-2-1 0 4 0-12-1-2-2 16-1-16 0 15 0-5-1 8 0-6-2-4 0-7-1 7-1 10-1-19 0 11-2-10-1 5 0 12 0-18-2 9-2-9 0 12-1-11 0 13-2-12 0 8-1 6-1-2 0-6-1 8 0 4 0 0-1-1 0-8 0 6 0 1-1-17 0 16 0-17-4 7 0 10-1-9-1 11 0-21-1 2 0-2-1 18 0 1 0-6-2 0-1-10 0 4-1-5 0 16 0-2 0-18 0 5-1 17 0 2-2-23 0 13-2-9 0 6-1-5-2-4-1 11-1-3 0 1 0 0 0-10-1 2 0 4-1 0-1 1 0-1 0 9-1-12 0 9 0 8 0-3 0-16 0 7-1 10-1-9 0 3 0 0-1-1 0 1-1 10 0-17 0 11 0 6-2-8 0 6-1-8 0 7-3-17 0 19 0-4 0-3-1 8 0-9-1-6 0-3 0 18-1-7-1-8-1 1 0 2 0-5 0 7 0 2-1-4 0 2-1 2 0 9-1-18 0 10-1 1 0-7-1 1 0 10 0-6 0-13-1 15-1-6 0 4 0-5-1-8 0 3 0 13 0 4 0-13-1 14 0-4 0-17-1 11 0 6-1 2-1-17-1 4 0 2 0 12 0-7 0 5-2-18 0 11-1-8 0 0 0 10-1 7 0-21-2 20 0-6-2-6 0 0 0 4 0-2 0 3-1 9 0-3-1-3-1 3 0-18 0 8-1 1 0 2 0 11-1-12 0-8-1 16-1-9 0-4 0 11-1-14 0 2-1 16-1-2 0-10-1 6 0-1-1-13 0 12-2 5 0-8-1 3 0-10 0 11-1-5-1 10 0-13-1-2 0 10 0-7 0-1 0 6 0-5 0 13-1-15 0 6 0 10 0 2 0-18 0 2 0-2-1 2 0 2 0-7 0 14-1-2 0 7-1 0 0-8 0-1-1 9 0-5 0-13-1 11-2-3-2 9 0-19-1 12-2 6 0-19 0 10 0-4 0 10-2-12 0-2 0 14 0-10 0 0 0 13 0-14 0 16 0-13-1 10 0-15 0 17-2 2-1-3 0-3-1-5 0-10-1 19-1 1 0-13-1 2-1 11 0-22-1 12 0-5 0 1 0 2 0-5 0 11-1-7 0 15 0-15 0 5-1-11 0 14-1-3 0-8 0 10 0 1-1-10 0 4-1-5 0 1-1-5 0 16 0-14-1 16 0-5-1 6 0-14 0 4 0 8-1-1 0 0-1-10 0 2-1 7 0-15 0-1-1 7-1 3 0-1 0 0-1-9-2 23-1-21-1 10 0 1 0 6 0-7-1-7-1-4 0 15 0 5 0-10-1 3 0-11 0 4 0 12-1-10 0 0 0 13-1-9 0 4 0-9-1 12 0-9 0-5 0 4-1-7-1 10-1 7-1-16 0 15 0-9-1 12-1-18-1 8-3-1 0-1-1 0-1 7-1 2 0-12 0 1 0-6-1 17 0-4 0 6-1-6-1-11-2 4 0 7-1 8-2-19 0 17 0-4-1-4 0 6 0-2 0-15-1 10-1-3-2-6-1 3 0 6 0-12 0 14 0 6-1-8 0-11-1 13-2 4-1-19-1 3 0 18 0-13-1 14-1-1 0-2-1-10-1 12 0-5-1-6-1-4 0-5 0 15-1-9-1-1 0 7-1 2 0-7-1-1 0 8 0-3 0 10-1-15 0 9-1-6 0-2 0 7-1 6 0-20-1 6 0 8 0 9 0-7-1-12-1 14 0 1 0-1-2-17-1 15 0 2 0-6 0 6-1-19-1 5-1 14 0-5-1-1 0-7 0 15-2-2-1-16-1-1 0 19-1-12 0 1-1-7 0 4-1 10 0-17 0 8-2 8 0 0 0 6 0-11 0 0-2-1-1-5 0 13 0-15-1 2 0 5-1-3 0 12 0 4 0-15 0-3-3 2 0 5 0-7-1 2 0 13-2-5 0-14-1 12 0-12 0 8-1 5 0-3-1 8 0 2-2-12-1 1 0-3-1 5-1-12 0 11-1 4 0 0-1-10 0 9 0-2-1 7 0 1-1-3 0-3-1-9 0 5-1 3 0-8 0 15-1-13 0 14-1-5 0-16-1 15 0-15 0 9 0 13 0-3-1 5 0-16-2 12 0-1 0-11-1 7 0-2-1-1-1-8 0 5 0-1-1 10 0-17 0 4-2 12-1 4 0-7 0 7-2 1-1-1 0-5-1 3 0-10-1-2 0 16-2-21 0 15 0-7-1-7-1 5 0 2 0 5 0 5-1 3 0-15-1-6-3 14 0 3-2-1 0-8 0 14-1-3 0-8-1 0 0-9-1 15 0-18-1-1 0 7-1-6 0 4-1-1"/><path d="M1556 427l-3-2-1-5-1 7 0 1-2-19 0 18 0-6-1-3 0-5 0 7-1 0-2 2-1-7 0 7 0-9-1 12 0 7-1-1-1-17-2 11 0-9-2 8 0 1 0 6-1-18-1 3 0 12-1-18 0 17-1-11 0 6-1-11 0 7-2 13 0 1-1-4 0-2-1 5 0-18 0-2-1 15 0-14-1 7 0 13-1-9-1 4-1-18 0 18-4 2-3-18-1-1 0 13-1-3-2 12-2-14-2 3-1 10-1-1-3-4-2-15-1 16 0 2 0-17-1 1-1 16 0-20 0 21-1-1-1-12 0-4 0 17-1-1-1-1 0-11 0 9-2-17-1 10 0 12-2 0-1-15 0-3-1 4 0 8-2-8 0 6 0-9-1 10-1-11-1 2-1-2 0 0-3 12 0-7-1 8 0-10 0 13-4-13-1 1-1 12-2 2 0-15-2 4 0-8-2 8-4-7-7 17-2-15 0-3-2 4 0 9-2-13-1-1 0 20-3-15-1 8-1 6-1-4-5 6-2-2-3-19-4 20 0-5-4-16-9 14-4-16-2 17 0-7 0-9-6 3-1 12 0-3-1 1 0-5-3 7-1-10-1 15-2 0 0-10 0-8-2 18-2-13-1-6-5 5-2 14-1-14-1 15 0-9-1-6-3-2-1 7 0 10-2-10-3 4 0-7 0-6 0 0-2 14-1 2 0-5-1 2-4-4-1 4-2-1-1 4 0 0-2-19-1 5-1 0 0 16 0-2 0 3-1-3-1-2-3 5-1-1 0-8-2-8 0 14-5-11-1 0-2 0-4 6-1 8-2 1-1-8-4-9-2-1-2 18-8-8-2 0 0-7-2 16-3-11-3 10-2-20-1 6-2 10 0-17 0 0-1 21-2-9-1-2-1-7 0 13-1-4-1-4 0-10-2 15-1-1-3-2-3-3 0 10 0-2-2-8-1 8-4-12-6 17-1-11-3 7-5 0 0-14-3 1-1-1-1-1-1 18-4-4-2 4 0-4-3 9 1 21 2-3 7-7 2-2 3-1 3 4 0 6 5-9 1 7 0-12 1 13 2-18 3 20 0-15 1-3 2 4 1 15 2-1 0-3 2 4 1-21 1 23 0-2 6-14 2 5 1 11 0 0 0-19 2-1 0 3 1 2 0-4 0-1 3 20 2-23 1 22 0-19 1 4 1 3 2 9 1-18 1 21 0-10 7 2 1-11 0 16 1 3 5-23 3 11 2 7 5-8 1 10 0-7 1-12 1 3 1-3 0 14 1-11 1-2 0 20 0-10 1 7 1 3 0-7 2 3 2-3 1-11 0 16 3-11 0 14 1-14 1 5 0-13 2 12 2 1 2 1 0 0 1-15 1 19 2-1 1-12 2-5 0 20 0-6 2-4 0 10 0-13 1 7 3 5 1-17 0 14 0 3 1-3 1-16 0 14 0 3 0-7 2 10 0-13 1-8 0 7 0 6 1-7 0 3 0 2 1 10 0-11 7 4 1 2 1 2 0-18 4 13 0 6 4 3 3-11 0 2 2-11 1 6 0-8 1 20 0-5 4-5 1 3 1-5 2 13 1-3 1 3 4-11 0 0 1 2 2 3 6-8 3 12 1-1 0-1 2-8 1 13 1-19 2 11 0-9 0 8 1-12 2-1 0 7 0 8 2 5 1 3 0 1 1-21 0 5 2 2 0 4 1 3 0 6 1-8 4-11 1 5 0 10 0 2 2-2 5-8 0 2 1-10 2 4 2 6 1-5 1 14 0 0 1-10 0 4 8-8 1-3 0 13 1 2 0-9 3 5 0-8 1-1 2-1 0 8 0 5 0-4 0-4 1-4 0 11 0 2 1-11 0 5 1 9 1-4 0 4 1-4 1 3 0-18 8 8 1-10 1 11 1-2 1-2 0-6 1 11 0-3 2-4 0 15 0-4 3-9 1-9 1 23 1-20 1 4 1 12 2 3 0-3 0-14 3 6 1 5 0 5 1-20 3 17 1 4 0-18 2 17 0-5 1-16 1 8 0 6 1 2 0 5 2-3 0-6 2 5 0 2 0 1 0-2 2-11 0-2 0 14 1-9 0 4 0 4 0-8 0 11 2-2 0-7 2-8 2-3 0 2 0 12 0 0 2 6 0-10 2-5 0 12 1-13 0 8 0-2 2 2 1-8 2-3 0 15 0-14 1 9 0 2 1-4 0-4 1-3 0-2 2 16 0-10 2-1 2 8 2-10 1 7 1 6 1-8 1-2 2-3 0 7 0 6 2-11 0 6 0-1 2 11 0-10 1 1 0 3 0-15 2 18 0 1 0-6 1-12 2 9 1 0 0 8 0-3 0-12 1 18 0-2 0-11 1-4 2 16 1-12 1 14 1-1 0-8 0 7 1 0 0-10 0-1 1 5 2-1 0 0 1-13 0 11 1-4 1 7 0-6 0-6 0 8 0-4 1 15 0-8 0-8 0 17 0-6 0-16 1 7 0 3 0-11 0 24 0-7 1-8 0-5 1 14 1-9 0 10 0-12 1-6 0 4 1 17 3-21 0 6 1-5 0 10 0 5 1-2 1 1 0-1 1 6 0-15 0 15 0-5 0-7 0 11 0 0 1-9 0 4 1-14 1 6 1 2 1 6 0-11 0 19 0-16 0-6 0 10 0 11 1-16 0 17 2-22 0 15 1 5 0-11 0 12 0-2 0 2 1-22 0 11 0 4 0-2 1 5 0-7 1 13 0-23 0 23 0-17 1-2 0-4 0 9 0 6 0 6 0-21 1 14 0 1 0 6 1-19 0 19 1-3 0-14 1 16 0 0 1 0 0-5 1-8 0-8 0 7 1 12 1-11 0 0 1 12 0-6 1-2 0-9 1 3 0 10 0-5 1-7 1 4 1 0 1 10 0-5 2 7 0-6 1-14 0 21 0-9 1-2 0-2 0 0 1 5 1 6 0-2 0-3 2 9 0-20 1 6 0-5 0 0 1 5 0-2 2 1 2 2 1 4 2 1 0 3 1 1 0-14 1-1 1-1 0-1 1 0 0 6 1 13 1-20 1 19 1-11 1 11 3 0 0 1 2 2 0 0 0-11 1 5 0-11 1 14 1-16 1 12 0-15 0 13 0 3 1-16 0 4 0 14 0-15 1 10 0-7 1 2 0-8 1 8 0 6 0-4 0-3 0-2 0 15 1-4 2-2 0 5 0-14 0 18 0-16 1 10 0-11 0 7 0 1 0-13 1 8 0 11 0-12 1-3 0 13 0-2 1 6 0-18 0 2 0 6 0-5 0-4 0 0 1 2 0 11 1 3 0-11 0 8 0-12 1 5 0-10 0 6 1 4 0 5 1-12 1 14 0 1 1-10 0-6 1 13 0 7 1-15 1 10 0 0 1 4 0-2 0-11 1 9 1 0 1 5 2-15 0 5 0-7 1 9 1-11 0 3 0 0 0 9 0-2 1 5 0-8 0 11 2-8 0-4 0 0 0 6 0-11 2 12 0 1 1-6 0-4 1-3 0 3 0 3 0 2 1-10 0 20 1-2 0 1 1-1 0-12 0 7 0-4 0-11 1 1 0 1 2 21 0-16 0 15 1-21 0 1 0 8 1-2 0 6 1-2 0-3 1 1 1 11 1-14 0 4 1 5 0-2 0-1 0-1 2-1 0 10 1 2 0-3 1-2 0-15 1 20 1-5 0-6 0 4 1 1 0 5 0 0 0-15 0-1 2 5 4 7 0 3 0-18 1 9 0 7 1-4 1-11 0 17 1-19 0 4 0 15 3 3 0-3 2-19 1 8 0 11 2-6 0-7 0 7 0 7 0-14 0-5 2 3 0 6 0-2 0-4 0 13 1-1 1-12 0-1 0 8 1-10 0 1 1-2 0 17 1 3 2 0 1-8 0 2 0-12 0 17 0-15 1 14 1-17 0 6 0 7 0-3 0 0 1-8 0 9 0-10 1 14 0-3 1-12 1 4 0-4 0 5 1 14 0-7 0 8 0-10 0 2 1-1 2-7 1-2 0 7 0-6 1 13 2 1 1-9 1 5 1-6 0 5 2 7 0-12 2 0 0 9 0 0 1 2 1-10 0 8 0-9 0 5 0-4 1 0 0-9 1 9 2-4 1-6 0 12 1-8 0-4 0 14 1-11 1 18 0-1 0-20 0 5 0 12 1-11 0 4 0 9 0-1 0-14 0 18 1-2 0 1 2-5 1 1 0-15 1 10 2 5 0 5 1-7 1 5 0-18 1 17 0-1 0-12 1-6 0 23 1-16 0 3 0 11 2-7 0 3 1-16 0 7 1 7 1 7 0-12 0 4 0-12 1 18 0-9 0 11 0-8 0-10 0 11 1 0 2-5 0-2 0 3 1 4 1-2 1 7 1-3 0-17 1 8 2 3 1 9 2-21 1 3 0 15 0 2 2-3 0-8 0-6 1 3 0-5 0 22 0-18 3 1 3 7 2-1 0 8 3-17 0 5 1 7 1-14 0 18 1-11 0 8 1 8 2-23 2 20 0-1 0-15 0 14 1 5 1-4 1-7 0 10 0-13 1 7 0-3 1 9 4-5 3-14 0-2 1 16 1-9 1 1 1 11 0-4 1 2 2-8 0 0 1-7 0 6 1-3 3 15 0-19 1 15 0-14 1 13 0-16 1 3 1 0 2 13 1-1 2-6 1-4 1 12 1-4 1 1 1-1 2-1 1-2 5-5 0 14 2-14 5 0 3 5 0-6 0 17 2-18 0-1 1 16 2-3 1 4 2-2 1-3 0-9 0-6 0 23 1-19 1 7 1-8 1 14 0-4 0-12 1 17 0-13 1 10 1-13 0 17 3-17 1-1 0 3 0 9 0-1 1-6 0 9 0-15 2 16 1 0 1 4 0 1 0-15 1-5 3 1 1 11 3-10 0 6 2-5 3 1 1-2 1 19 1-9 1 5 2-7 0 10 0-8 1-10 1-2 2 17 0-10 1-3 0 0 0 6 1 0 1-2 2-7 4 3 0 4 1-6 2 8 1-2 0 7 1 6 0-18 1 13 0-2 1 6 0-20 0 9 0 0 2 2 0-2 1-9 0 9 0-5 1 8 0-6 3-4 0 8 1 6 0-9 1 7 1 0 0-7 1 15 1-23 0 16 2-15 1 10 1 5 0 6 0-21 0 17 1-8 0 0 0 1 2 9 1-4 2-13 2 7 10 7 0 6 0-6 0-6 0-3 4 10 1-5 0-4 5 7 1-9 0-5 0-1 1 14 1-2 2 9 2-22 1 5 2-5 4 18 4-16 1 7 1 9 0-1 0 4 2-7 1 2 4-14 0 17 0-11 1 11 0-10 0-7 7 8 3 11 1-5 0-8 1 7 2-8 1 11 0-6 1-4 2 3 0 7 1-18 0 3 0 1 0 0 3 3 0 5 1 9 2-19 0 0 0 13 0-7 0 10 2-12 0 9 1 4 0-8 0 1 0 10 1-10 1 1 0-1 0-5 1 6 0-1 1-10 0 20 0-1 1-19 0 14 1 3 0-13 0 2 2-2 1 14 1-9 0-3 0 10 0-16 0 9 2-9 0 13 0-6 3-8 1 4 0 10 0 4 2 2 1-3 0-2 1 0 0-15 1 7 0 11 0-6 5 6 0-17 1 13 1-2 0 7 3-13 0-2 1-1 2-3 1 4 1 12 2 6 5-13 1 10 2-19 2-1 0 20 1 4 1-18 0-3 5 3 4 8 1 21-3-7-1 9-3 9-4-17-5 5-2 7 0-1-4 3-1 1-8 0-3-6 0-2-6 11-1-9-1-12-1 18-1-10 0 11 0-9-7-8-1 16-1-12-1 4-1-4-1 15-1 0-2-11-1-4-1 3-2 3 0 2-1-11-3 6-1 1-1-3-1-6-2 2-2 8-2 7-1-12-1 5-2 0-1-8-1 1-2 1-2 12-1-8-2-5-1-2-1 2-1 8 0-13 0 21-2-5-1-3 0 2-1-10-3 9-4-5 0 12-9-15-5 8 0-7-1-3-1 1 0 14-4-5-7 4-8-3 0-2 0-10-1 12-2 2-1-4-4-12-3 11-2 10-2-10-3-9-2-2-5 13-1-11-1 18-2-13 0 8-2-10-2 5 0-7 0 8-1-2-4-6-1 2-2-5-3 12 0 9-3-21-2 22-1-16-3 14-2 0-2-4-5 3-2-9 0-8-1 9 0-5-1 14-2-6 0-3-5-7-1-1 0 9-1-13 0 6-2 17 0-22-1 4 0 11-2-8-2-3-2 14-3 3-3-14-3 11 0 0 0-5-5-8 0-3-2-1-3 9-2-2 0-4-5-3-3 7-2 14 0-7 0-9-1 4-1 11 0-8-1 2-1-10-1-1-2 10-1-8-2 15-1-16-1-5 0 18 0-8-3 10-1-4-1-4-5-6-2 6 0-4 0 6-1-8 0 12 0-16-1 7-2 0-2-4-5 7 0-1-1 7-1-2 0 3 0-13 0 4-1-9-2 21-1-13 0 9-1-4 0 4-3-5-1-7-1-2-1 5 0-2 0 4-2-10 0 6 0-2 0-7-1 8-1 14-1-10 0 12-1-9 0-4 0-3-1 5-1-11 0 17-1-8 0-10 0 23 0-1-1-12 0 7-1-17 0 13 0-3-1-8 0 19 0-1 0-14-1 15 0-14-1 4 0-3-2-3-1 4 0 9-1 5-1-12 0-10 0 3-2 17 0-15-1-4 0 5 0 6-1-1 0-3-1-3-1-6-1 12-1 10-1-17-1 15-1-19-1 10-2 7-2-17 0-1-1 0-3 0-1 22 0-20-1 3-1-4 0 18-1-9 0 0-1-3-1 14-3-4 0-9-1-4 0 11-1-3 0-4-1-4 0 7-1-2-1 4-1 2 0-12-1 15-1-4-1-7 0 3-2 4 0-12-1 8 0 6 0-7 0 3-1-3 0 11 0-17-1 2 0 4 0-7-1 5-1 6 0-2-1-3-3 3-1-8 0-2 0 5-2 5 0-6 0-1-1 4-1-1 0 1-1-3-1 4 0 2-1-8 0 2-1 6-1 10 0-6-1-8-1-8-1 19-2-12 0-2-2 15-1 3 0-19-1 20 0-18 0 6 0-11-1 3 0-1 0 16-1-2 0 5-1-22 0 8-1 10 0-15-1 4-1 0 0 10-1 6-2-1-1-7 0-3 0-6-1 2-1 11 0 5-2-1 0-1 0-12 0 8 0-12 0 8-1-7 0-3 0 7-1 5 0-12-1 10 0-2 0 6-1-7 0 3-1 3 0 4 0-9-1 1 0 6-1-14-1 19 0-7-1-1 0-1-1-5-1 2-1-11 0 13 0 8 0-9-1 10-1-22 0 1 0 13 0-3 0 10-1-2 0-6-1 9-1-9 0-5-1-4 0 13 0-3-1 8-1-12 0-5 0-2-1 7-1 10 0-4-1 4 0-11 0 4-1-4-1-9 0 17-2-4 0-14 0 16 0-14-1 15 0-4 0-7-1 7 0-5 0-5 0 2-1 5 0 4 0-1-1-12 0 14-1-1-2 8 0-2 0-9 0 2-1-13-1 3 0 9 0-8-1-4 0 4-2 12 0-2 0 10-1-16 0 5 0 1-1-3 0 8 0-11-1 3 0-3 0 4 0 4-1 3-1-6 0 1-1-11-1 9-1 7 0-2 0 4 0-11 0 14 0-5-1 0-1-11 0 7-1-1 0-4 0-9-1 17 0-9 0-6 0 6-1 2 0-7-1 6 0 2 0-7-1 4 0-3 0 13-1-6-2-4-1-6 0 8 0 12 0-22 0 23-1-11 0 9 0-20-1 6 0-8 0 4-1 13 0-10 0 13-2-8-1-6 0-3-1-1 0 11 0-11 0 1-1 12 0 6 0-12-1 1 0 6-1-10 0-1-1 10-1-1 0-7 0 14-1-12 0 3 0 4-1 3 0-3 0-10-1 17-1-15-2 4 0-8-1 0 0 5-1 7 0 1 0-6-1-5-1 2 0-7 0 19 0-2 0-10 0 12 0-16-1 11-1-3 0 2-1 10 0-19-1-3 0 9 0-1-1 8 0 2 0-17-1 17 0-7-2-11 0 12 0 6-1-17-1 11-1-10 0-3-1 3-1 15-1-12-1 12-1-8-2-5-1 16 0-5-1-12 0 19 0-4-1-9 0-4-1 13-1-13-1 1 0 4 0-6-1-2 0 14-1-6 0 6-1-11 0 5 0-2-2-3-1 15 0-8-1-2-2 2-1 2 0 2 0-16-1 6 0 2-1 9 0-10-1-6 0 2 0-4-1 22-1-15-1 12-1-19 0 4-1 11 0 3 0-7 0-6-1 1-1 14-1-9-1-6 0 14-1-6-1-8 0-5 0 5-2 13 0-14 0 15-1-3-2 1 0-8-2-2 0 3 0-9 0 6-1-7-1 7 0 8-1-3 0-6 0 3-1 9-2 2 0-18 0 17-1-20 0 5-1 16 0-13 0 5 0 1-2 5-1 0 0-6-1-10-1 19 0 2-1-2 0-21 0 13 0 10-1-19 0 5-1-8-1 21 0-20-1 12-3 3-1-11 0-5-1 21-1-16-1 12 0-16 0 8-1 2 0 4-1-17 0 19 0-19-3 6-1-4 0 12-1-7 0 11-1 0-2-17 0 2 0 7-1 5-1-14 0 22 0-3 0-1 0-4-2 8-1-9-1 8-3 1 0-14-1-5-1 7 0 11-1 1 0-4-1-8-1-11-2 1 0 17-3-1-1-16-1 9-1 0 0 0 0 9 0-18-1 10-2-6-1-3-1 14-1-9 0 4-1-7-1 2 0 17-1-10 0 8-1-13-4 9 0 1 0-12-1-5-1 0-1 9-1-6 0-1-1 11-2 1 0-8-1 15-1-15-1 1 0 6-3 0 0-11-1 8 0-8 0 6-1 5-1-1 0 7 0-10-1 3 0 4 0-7-1-7-1 9-4-5-1-7-1 11-1 12 0-9-2 8-2-13-2 1-1-5-1 8-1-9 0 20-1-4-1-5-1-8-1-3 0 2-2 6-1-2-1-3 0 15 0-8-1 8 0-14-3 14 0-15 0 6-1-6-1 0-2 16 0-1-2-16-2 15-2-15 0-2-1-4-2 1-1 4 0 11 0 1-1-14-3 14 0 0 0-7-1 11-2-18 0 16 0 2-1-18 0-2 0 14-3 4-2-9 0 8-2 2 0-12-1 5 0-1 0 5-1-15-2 0-1 21 0-3-1-15 0 12 0-6-1-5 0 4 0 14-1-5-2-9 0 10-1 4-1-10-2 7-1-10-1 6 0-14-3 12 0 0 0 1 0-2 0-5-2 14-2-12-1-1-2 11-1-9-1 6 0-12-1 16-4-2 0 1 0 1 0-5 0 4-3 1-1-11-2 11-1-10 0 11-3-13-1 12-1-18-1 17 0-6-1 4-1-6-1-5 0 16 0-22-1 12-1-1-1 2-1-4 0-5-1 12 0-13 0 17-1-4 0-6 0-2-2-6 0 13 0-1-1 3-1-11 0 2-2 0 0 13 0 0 0-3 0-14-1 6 0-9-2 16-2 3 0-11-1-5 0 9 0 6-1 3 0-23-3 15 0 1-1 3-1-11-1 3 0 11-1-20-1 12-1 0 0 7-1-13 0 11-1-14-2-3 0 4 0-7 0 23-1-5 0 4-1-6 0 6-1-4 0-14-1 16 0-3-1-15-1 13 0 2-2-2 0 4 0-10-1 11-1-12 0 9 0-17-1 17-1-9-1-4 0 12 0-7-1-2-1 2 0 15 0-12 0-7-1 7 0 0 0-5-2 3 0 6-1 1 0-10 0 10-1 7-1-11-1 1 0 8-1-6 0 4-1-17 0 14-1-3 0 7 0-1-1-2 0-4-1 5-2-2-1-11 0 8-2 0-2-12 0 6-1 4 0-8 0 0-1 3-4 15-1-1-2-1 0-14-1 2-1 1 0 12-2-6-2-4 0 11-1 0 0-4 0-7-1-1-1-1-1-5 0-1 0 15-1 5 0-3 0-17-1 13-1-4 0 7 0 2-1-13 0 8 0-1-2 3 0-7 0 3-1-5-1-1-1-4 0-4-1 24-2-6 0 1 0-6-1-4-1 9 0 1 0-15-1 16 0-2-2-7 0 4 0-6-1-4-2 4-3 15 0-1-2-22-1 8-1 0 0-7-1 3-2 16 0 0-1-19-3 17 0 4-1-14 0 4-1-11 0 18-2-5-1-1 0-13-5 0-1 22-1-11-2 3 0 0-5 0-2-12 0 17-2 1 0-2 0-10-1 7-3 14 1 7 1-9 1 15 0-1 0-8 1-3 1 2 1 10 2-8 0-6 4 13 2-13 1 14 0-10 1 9 0-17 1 9 1 14 1-11 0-9 0 1 3 16 1-5 3 3 1 1 0-9 2-10 0 9 0 6 1-6 0 3 2 1 1-3 1 4 1 2 0-5 0-12 0 0 0 17 1-16 1 13 0 6 1-4 1-4 0 11 1-13 1-4 0 9 2-6 0-5 2 10 1-6 1 8 0-10 0 14 1-1 0-10 0-3 2-5 1 18 0 1 1-14 0 3 1 10 0-5 1 5 1-10 0 14 0-12 1 3 0 8 1-22 0 22 1-13 1-6 0 18 0-5 0-6 1 5 0 6 1-17 0-1 0 19 1-19 0 9 1-3 0-5 1 11 1 9 0-3 1-18 0 7 0 0 0-6 0 18 0-19 0 15 1 4 0-14 0 3 1-2 0-3 0 15 0-9 1 11 0-5 0 6 1-14 0 8 0-15 1 5 0 14 1-12 1-9 0 8 2 6 0 4 1-12 0 15 0-3 1-2 1 6 1 0 0-11 1 10 1-19 0 5 1 5 0-2 2 9 0-18 1 6 0 12 1-12 2 11 0 0 0-4 0 1 0-11 0 9 1 8 1-15 1 6 0 4 1-8 1 13 0 0 0-6 1-2 1 0 0-3 0 3 1-6 0-6 0 12 1 1 1 0 0-4 0 12 1-19 0 15 1-10 0 5 1 3 1 4 0-9 0 4 0-1 0-7 1-4 0-4 0 2 1 2 1-2 0 3 0 9 0 7 1-6 0-5 1 13 0-15 0-2 1-1 0 11 0 6 1-19 0 18 2-18 0 3"/><path d="M1351 492l0 12 1-12 0-10 0 14 1-7 0 5 2-4 1 4 1 8 0-4 0 5 0-16 1 4 0 3 0-5 1 11 0 3 0-14 1 14 0-15 0-7 1 4 1 13 0-8 0 14 0-7 0 5 0-9 0 7 0 3 1-3 0-19 1 7 1 3 0-5 0-4 0 18 1-12 0 5 1 5 0-4 1-6 0 11 0-7 1-9 0 14 0 0 1 4 0-18 0 20 0-2 1-9 0-10 1 21 0-16 1-2 0-1 1 2 0 11 0 2 1 0 0-15 0 5 0-4 1 19 0-2 0 1 1-15 0-7 0 0 0 2 0 6 1 14 0-2 0-18 1 15 0-12 1 18 0-21 0 3 1 11 2-8 0-7 0 2 0 10 1 6 0 3 0-21 1 17 0-16 1 5 1-2 0-2 1 10 0-7 1-5 0 1 3 4 1 12 0-9 1 5 0-10 1 15 3-17 0 5 2 2 1-6 0 0 2 7 1 11 2-1 1-13 2 1 0 0 0 9 2-7 2-3 0 15 1-15 1-2 0 1 1-1 0 2 1 14 0-15 1 3 0 13 0-23 0 23 1-14 0 11 1-13 2 5 0 3 0-3 0-11 2 16 0-9 1 2 1-9 1 6 2 15 0-11 1 5 0 7 0-20 4 1 1 3 1 16 2-10 0 5 2-8 1 6 0 0 2-1 0-5 1-2 1 2 1 13 0-18 2 12 0-5 2-10 1 9 0 1 1 11 0-23 2 5 2 18 3-10 1 8 0-13 1-6 1 4 1 9 0-7 0 4 1-4 1-6 1 6 0 12 1-16 1-3 0 14 1 6 0-12 1 3 1-5 0 0 1 17 1-12 0 11 0-16 2 13 0-12 1-2 2 7 1-9 0 13 1 1 3-17 0 18 4-5 1 6 0-7 4-3 1 7 0-5 0 6 1-7 0 4 2-13 1 16 0-17 1 0 1 20 0-10 0 7 1-17 1 17 2-12 0-5 2 1 0 11 1-6 2 3 0 10 2-15 0-3 2 4 1-1 0 17 0-6 3-15 1 23 1-10 0 8 0-11 0 2 1 6 1-9 1 7 1 4 1-13 0 9 1-4 0-12 1 15 1-13 1-1 1 1 0 0 0 13 0-9 1 17 0-21 1 16 1-7 1-12 2 14 1-2 1 7 0 2 2-8 2-5 2 4 0 12 0-11 1 3 1-1 0 0 2-9 0 9 2-14 1 5 0 16 1-10 0 8 1-14 0 12 0-11 0 8 1 2 0-9 0 5 0-12 0 13 1 6 0-16 0 5 1 13 0-19 1-1 2 9 0-6 1 0 0 13 0 0 1-12 1 1 2 15 0-18 1-3 1 20 0-11 1 1 1-4 0 10 0 2 1 0 0-15 1 19 3-21 0 7 0 4 0 5 1-12 0 6 1-10 0 9 0-1 0 12 1-11 0 5 0-12 0 15 1-4 1-11 0 12 0 3 0-5 1-12 1 14 0-10 1 14 0-2 0-10 0 10 1-11 1 5 1-2 1 13 1-3 1-6 2 3 0 2 1-13 1-6 0 12 2 3 3 3 0-7 1 8 1-10 0 11 2-14 0-2 1-3 0 1 1 6 0 12 1-2 0-2 0-6 2 8 0 0 1 0 0-17 1 6 1 3 0-9 1 17 1-16 2 22 1-16 0 9 2-9 1 1 0-7 2 20 0-8 1 0 0 8 1-1 1-11 2-3 0 4 0 4 0 6 0 2 1-20 0 17 0-3 0 5 1-19 0 21 1-14 1 11 0-18 0 1 0 19 1-21 1 20 1-21 1 12 1 0 0-2 2 8 0 1 0-15 0 17 1-16 1-5 0-1 2 11 0-8 0 18 0-19 1 1 0 0 1 20 0 0 0-21 0 3 1 1 0-4 0 10 1-7 0 9 1-12 0 18 0 3 0-18 2 8 0 0 2-6 0-1 0 12 1-5 1 3 0-14 1 9 2-6 0 4 0-1 1 6 0 8 1-18 0 11 2-10 1 9 0-8 0 8 0 2 0-6 0-3 1 5 0-4 0 13 1-9 0-6 2 17 0-2 1-19 0 9 1-3 0 15 0 0 0 0 1-19 0 14 1-16 0 12 0-2 1-5 0 17 0 0 0-12 0 2 0-7 2 13 0 0 1-9 1 13 0-2 0-3 0-3 1 4 0-13 0 5 1 5 0-7 1 1 0 2 3 11 0-17 2-3 0 10 0-9 1-1 0 1 2 1 0-6 1 17 2 1 0-17 1-1 0 14 0-5 0-3 2 14 2-17 0 16 0-9 0 9 1-16 2 4 1 1 0-3 0 7 1-7 1 18 1-3 1-3 0 4 0-6 2-9 1-2 0 7 1 7 2-11 1 1 1 1 0 12 1-21 0 3 0-3 0 17 1-12 0 17 0-9 1 3 0-2 0-10 0 4 0 12 0-9 1 4 1 7 1-20 0 4 0 0 0-6 2 10 0 4 1-1 2-5 0 3 0-9 0 22 0-9 0 1 0-5 1-11 0 21 0-9 1 0 0 6 1-14 1 16 1-5 1-14 2 12 1 3 0-16 0 5 1 10 1-5 1-3 0-1 0-3 2 5 0 3 1 8 1-12 0 1 1 10 1-7 1 10 0-2 1-10 2-7 1 6 0-6 0 0 1 15 4-15 1-1 1 18 1-3 1-8 1 9 0-14 1 3 0-5 2 3 0 17 1-11 0 2 1-3 0 15 2-20 0 13 1-5 1-3 0-1 1 1 1 6 0 6 1-9 1 5 0-6 0 10 0-18 1-3 1 4 2-3 2 7 2 2 4 4 2-9 0-2 7 10 2 0 2 5 2 2 1-9 1-3 0 16 1-8 2-16 0 14 2-2 1 6 1-1 0-16 0 19 1-4 1-1 0-7 2-3 1 10 1 7 1-10 0-4 0 6 0 5 2-1 2-4 0-7 2 7 0-12 1 8 1-4 1 14 0-19 1 0 0 4 0 3 0 1 1 10 0-11 0 10 1-8 1 11 1-21 0 15 0-13 1 4 0 8 1-13 0 0 0 5 0-4 1 1 5 1 1 7 0-3 1-6 1 18 2-15 1 6 0 9 0-16 5 5 1-2 3-3 1-2 3-2 1 6 1 15 0-10 1 1 7 9 0-5 2-8 3-5 4 13 4 6 2-8 1-2 1-8 1 9 0-13 4 12 1 4 1-1 2 6 2 3 3-7 0-7 2-8 2 8 1 10 0-5 6 1 1-14 3 13 1 6 2 3 1-23 1 10 0-5 1-4 0 0 1-1 3 8 0-4 1-1 4 15 0 5 1-16 3-8 0 19 1-8 1-10 2 9 2 0 5-4 9 12 4-3 1 2 3 7 1-4 0-10 6-4 2 0 0-6 2 20 1-18 1 15 2-13 2 14 1-17 1 4 2 5 6-3 0 15 4-15 1 14 5-11 19 6 3-15 17 0 1 17 2-4 0-6 1-5 0 2 7 2 4 4 0-3 12 8 5-7 1 3 1-8 0 2 2 8 3-14 0 12 2-7 6 14 1-17 5 13 0-7 6 0 1 8 1 8 8-20 4-3 2 15 10-13 5-2 5 27-15 7-22-9-10 11-5 0-8 8-6-20-1 20 0-9-1 2-7-1-5 4-1 6-9-14-4 9-2-12-2 17-3-15-3 11-17 2-25-18-1 5-7-1-2 0-10-4-13 1-15 12-5-12 0-3-1 6-9 13 0-4-2-1-2-2-1 7-8-2-1-7-9 4-6 7-1-11-4 13-4-6 0-9-8 4-7 11-2-7-10-9-1 9 0-10-3 1-6 12 0-14-2 8 0-5-4 10-2 2-1-7 0-6-3-7 0 9-1 0-1 8 0-11-2 4 0 11-3-3 0-18 0 7-1 4-1-2-2-7-1 20 0 0 0-18-2 17 0-3-1 1-1-16-1 2 0-1 0-3-4 3-1 3-1-1-3 8-1-12 0-1-1 1 0 3-1-3 0 7-1 3 0-5-1 1-1-4 0-3-1 10-3-6-2 13 0-7-2 7-6-8-1-7 0 17-1-8-1-12 0 8-1 11-3 1 0-8 0-9-1 1-1 17 0-3 0-14-7-2-1 20-2-7-1 3-1 1-1-18-2 6 0 12-1-11 0 5-1 9-6-23 0 15-1 0-4-14-1 18 0 4-2-17 0-1 0 1-1 14-1-10-1-1-1 1-1 11 0-18 0 9-3-9 0 21-1-5 0 0-5 0-3-1-1-14 0 14 0-17-1 6-1 15 0-8-1-8-3 3 0-9-1 15-1-2 0 11 0-16-1 4-3 12-5-6 0-6-1-11 0 15 0-3-1-9-1-1 0 13-2-5-1 4-3-12-1 12-1-11 0 3-2 4-1-5 0-6-1 7-1-7 0 6-3 0 0 2 0 3-1-10-1 10-1-9 0 15-1-12-1 1 0 16-1-22 0 7-1 14 0 1-2-17-1 5 0-3 0-5 0 2-2 13-2-16-3 12 0-12-1 21 0-10-2-11 0 22-1-1 0-21-1 14-1-5-1 9-1 1 0-8 0 4-2 0 0 7-1-15 0 14 0-17 0-2 0 20-1-22 0 2 0 5-1 10-1 4 0-21 0 17-1 4-1-1 0-5 0-9-1 2 0 2 0-6-2 3-1 15 0-3 0-1-1-19 0 5-1 5 0 9 0-3-1-2-2-10 0 0 0-1 0 9-1 0 0 7 0 0-2-19-1 18 0-11-1 3 0 6 0-5-1-3-1 10-1 3-1-7 0 4-1-9 0-2 0 5-1-6 0 3 0 0 0 4 0-12-2 1-2 17 0-13-1 7-1 9 0-10-1-1 0 9 0-4-1 3-1-3 0-4-3-7-1-2-3-1 0 20 0-14-1 12-3-17 0 2 0 11-1-7 0 9-2-4-1-8 0-4-1 8-1 8 0-15 0 8-1 5-3-10 0-5-2 2-1 10-1-9 0 3 0 12-4-14-1-3 0 10 0-6-1 12-1-15 0 2-3 12-2-10 0-6-2-1 0 14 0 3-2-5-1 9 0-5 0-5-1-5 0 2 0-4 0 4-1 12 0-6 0-6-1 14 0-4-2 0 0-13-1 9-1-9 0 5-1 6-1 8 0-19-1 6-1 1 0 6-1-18-1 12-1 10-2-3 0-15-2 9 0 8-2 1-1 1-1-3-1-19-1 22-1-10-1 2 0-12-1 19-2 1 0-11-1-3-4 1 0 8 0 5-2-22 0 11 0-2 0-8-3 7-1 3 0-5-1-6-2 4 0 6-1 10 0 3-1-16 0-8 0 9-5-6-1 15 0-13-3 5-1-2-1 5-1 7 0-6 0-2-1 10-1-21 0 3-1 0-1 19-1-18-1 11-2-5 0 10-1-9-2 6 0-3 0 8-1-8 0-10-3 6-2-7 0 14-3-7 0-3-4-6-1 4 0-3-1-1 0 20-1-9-1 0-1-2 0-4-1 16-1-3 0 3-1-19 0 12-1-3-1-1-1 5 0-3-2-3 0 8 0 4-1-9-1-10-1-3 0 18-2-16-1 2 0 10 0 3-1 2 0-8 0 9-1-15 0 4 0 3-1-9-1 4 0 8 0-12 0 6-1-2 0 0 0-2-1 12 0-14-1 1 0 10-1-5-2 11-1-15-5-5 0 14-1-9-1 1 0 9-1-2 0-10-1 2-1-6 0 7-2 6 0-13-1 6 0-3-2 1 0 7 0-5-1 13-1-13 0 11 0-6 0-8-1 17-3 0-1-4 0 2-1-16-1 20 0-9-1 10-2-1 0-15 0-4-2 6-1 8 0-2-2-15 0 3-1 19 0-21-3 11 0-10 0 16 0-15-1 10-1 11 0-8-1-15-1 6 0 3 0-4 0 13-2-14 0 10 0 4-1-5 0 2-1-1 0-1 0 0-1 5 0-6 0-11 0 1 0 1-3 4 0 9-1 3-1-3 0-11 0 5 0 9-3-8 0 10-1-4-3-8-1 14-1-7 0 4 0 2-2-8-1-11-1 11 0-11 0 16-1-2-1-12 0 13 0-10-1 8 0-9 0 9-2-11-3 4 0 2-1-6 0 16 0-18-1 5-1 0 0-7-1 2 0 0-1 20 0-17-1 5 0 12-1-4-1-15 0 10 0 4-1-14-1 18 0 1 0-17-1 1-1 14 0 2-1-23 0 8-1-3 0 8 0 3-1-8 0 15 0-2 0-2 0-12 0-3-1 15-2 0 0-5-1 4 0-3 0-9 0 14 0-15-2 2-1-4 0 5 0 10 0-8-1 11 0-1-2-14 0 0-1 0 0 14-1-2-1-1 0 3 0-4 0 5-1-4 0 4 0-3-1 1 0-8 0 7-1-7 0-10 0 21 0-23 0 14-1 6 0 2-1-4 0 3 0-3 0 4-1-4 0 6 0-5 0-7-1 9 0-6-1 2 0-10 0 0 0 1-1 7 0-8 0 7-1-10 0 18-1-1 0-6 0 7 0-11 0-3-1 4-1 5 0-7 0 9 0 2 0-16-1 14 0-14-1 3 0 1 0 9 0-3 0-1 0-9 0-1-1 1 0 11 0 0 0-9-1 6-1-10 0 7-1-1-1 14 0 0 0-11 0-8-1 8 0 6 0-8 0-8 0-2-2 11 0-10 0 12-1 7 0-18 0 6-1-6 0 1 0 12-1 3 0-4 0 9-1-3 0-17-1 15 0-1 0 3-1-5-1 1 0-11-1 17 0-2 0 3-1-23 0 17 0 2 0-9-1 13 0-2 0 3-1-14 0-3-1 3 0 8 0-16 0 15-1-13 0 18-1-1 0-5 0-10-1 0 0 10 0-6 0 9 0-12 0 13 0-16-1-1 0 2 0 3 0 1 0 10-1-9 0 7 0-4 0-2 0 1-1-2 0-2 0 0 0 12-1-2 0 5 0-21-2 12 0 1 0-3-1-9 0 19 0-6-1 6 0-16 0 2 0 4-1 0 0 8 0-11-1 12 0-10 0 12 0 0-1-9 0-1-1 2 0 5 0-14-1 3 0 15 0-18-1 1-1 9-1 2 0 0 0-7-1-11 0 15 0 7-1-9 0 4-1-17 0 14-1 7 0-6-1-2 0 8 0-18-1 5-1 2-2-2 0 2 0-5-1 6 0-5 0 17 0-21 0 22-1-3-1-13-1 10 0-16-1 4 0 15-1-12 0 4-1-12 0 19-2 1-1-2 0-18 0 17-1-8-1 1-1-6 0 8-2 11 0-15-1 12 0-11-1 14-2-9-2 2 0-3 0-7-1-4 0-2 0 18 0-2-1 6 0-5 0-9 0-3-1 6 0 12-1-7 0 7-3-12 0-10 0-1-1 11-1-3 0-6 0 16-1-11-1 11 0 5-1-5-1-4 0-4-1 8-1-8 0 6 0-2-1-10 0 8-3-6 0 13-1-12 0-1-2 0 0 7-2 6-1-9-1-7 0 11-2 3 0 0-1-15-1 4-1 9-1-7 0 6-1 6 0 0 0-18-3-2 0 4 0 11 0-6-1 4 0-6-3 9-2-2 0 0 0-8-3-2 1 40 1-11 3-2 1-3 2 5 1-5 0 19 0-18 2 17 0-19 1 12 0-13 1 11 0-9 1 2 0 17 1-16 1 1 1-2 0 16 0-9 1-3 0 10 0-6 1 0 0 6 1-2 0-4 2 5 0-19 1 21 0-1 1-19 0 6 0 14 1-11 0 7 2-9 1 14 1-10 1-4 0-8 0 14 0 8 1-8 0 3 1-5 1 2 0-3 0-2 1 2 0 10 2-4 0-9 1-4 0 10 1 8 0-18 0 16 1 0 0-12 0-8 0 17 2 5 1-2 0 0 1-18 0-3 2 8 0 2 1-6 1 4 0 14 0-11 0 3 0 1 0 2 1-9 0 9 1 7 2-9 0-2 1 10 3-23 1 17 1-11 0 15 0 0 0 0 0-7 1-11 0 18 0-16 0 5 1 5 1 6 0-6 0-3 0-3 1 9 1-4 0 5 0-5 1-8 0 6 0-6 1 0 0 6 0 6 0 0 1-6 0 2 1-10 1 15 0 4 1-4 0 5 0-2 1-20 0 2 0 4 0-8 1 6 0-6 0 18 0-14 0 14 0-8 1 9 1 3 0-21 1 23 0-3 1-1 1-19 0 7 1 16 0-8 1-12 0 17 0-9 0 11 1-12 0 11 0-16 0 14 0-10 0 6 1-16 0 9 1 12 0-12 0 7 0-14 1 2 0-2 0 10 1 5 0 6 0-5 1 5 0-1 0 1 0-17 1 13 0 1 1-10 0 10 0-9 0 12 1-11 0 11 0-3 0-16 0 2 1-4 0 20 0-10 0 1 1 2 0 1 0 7 0-21 1 20 0-5 0-9 2 1 1 0 0 13 0-5 0 3 1-1 0 0 0 2 0 2 1-9 0-11 0 1 0 8 0 5 0-1 0 2 1-14 1 9 0 9 0-17 0 16 0-19 1 1 1 20 0-7 0-9 0 1 1-3 0 1 0-4 1 12 0 3 1-14 0 7 0-8 0 7 0-5 0 10 0 1 0 1 1-13 0 1 0 10 1-10 0 5 1-8 0 9 0 11 0-7 0-1 0 7 0-7 1 6 0-7 0 11 0-22 0 16 0 5 0-18 0 16 1-11 0-5 0 14 1-16 1 14 1-11 0 0 0 10 0 1 1-10 0 5 2 0 0 1 0 11 0-12 0 4 1 7 0-21 1 14 0-6 0 4 0-9 1 9 0-2 1 4 0 5 1-9 0 11 0-11 1-11 0 14 0-1 1 9 0-18 0 13 1-9 1-5 0 18 0-9 1 9 0-10 0-5 0 17 0-1 1-14 2 15 0-17 0 4 0 3 1-5 0 14 0-10 1 8 0-18 0 9 1-4 0 11 0-12 0 14 0-12 1-6 1 4 0 13 1-15 0 12 0-3 0-1 1 1 1-5 0 9 1-2 0-13 0 17 0-2 0-3 1-6 1-6 0 18 0-6 0 6 0-8 0-7 0 17 0-7 0 8 1-9 0 7 1-4 0 2 1 3 1-3 0 4 0-17 0 16 1-22 0 20 0 4 0-20 0 18 1-13 0 1 1-10 0 8 2 10 0-3 0-9 1 7 0-8 0 12 0 1 0-17 1 15 1-8 0 6 0 3 1-5 0 3 0-12 1 19 0-5 1-8 0 1 0-3 1 12 0 2 1 2 1-8 1-5 1-10 2 22 1-4 1-10 0-7 1 3 0 9 1-8 2 16 0-12 0 8 0-15 1 11 1 4 1 6 0-11 1 1 1-7 0 6 1 9 1 0 0-10 0-5 1 6 0 2 1-1 1-6 0-5 1 21 1-14 0 4 0 7 1-1 1-14 1 13 0-17 1 10 0 0 1 10 1-13 2 15 1-2 0-9 1-2 0-3 1-1 0 10 0 7 1-14 0 8 0-4 1 10 0-13 2-6 0 15 1-11 2 11 1-7 3-3 0 6 2 0 0 4 0-18 0 10 1 13 0-11 1 7 0-16 0 17 1-12 2 5 0 2 1 4 1 4 0-17 2-4 0 4 1-4 1 9 1 10 1-4 1-3 0-4 1-4 4 16 0-2 0-6 1-3 1 8 6-13 2 9 1 8 0-11 1 5 0-11 1 8 1-3 1-5 0 14 0-3 2-7 1-5 0-3 1 21 4-16 3 13 1-10 2-6 3 1 3 5 1 13 0-21 1 17 3-10 1 2 4-5 2 9 0-8 0-4 1 5 11 2 2-1 1 5 0-2 1-6 0 15 3-20 2 10 2 6 1-8 1-2 3 8 5-8 0-3 2 4 2 4 1 5 0-10 1-6 0 6 3 3 2 10 1 0 1-4 1 4 3-12 1 2 0 4 0-13 1 21 1-9 1-2 0-8 0 13 0 5 0-19 0 5 0-4 1 18 1-9 1-12 0 9 1 1 0 12 2-18 1 12 0 1 0-6 1 9 0-14 2 13 1-13 2 0 0-4 0 1 2 12 1 6 0-1 1-19 0 19 0-15 1 16 2-6 1-9 1-1 1-4 0 9 1-1 3 13 3 1 0-4 2-17 0-2 1 20 8-5 8-15 1 6 0-5 1 7 0 10 0 2 3 0 1 2 1-19 2 13 1 1 1-8 0-1 2-2 1 5 0 9 1-18 0 2 1 6 0-10 3 0 0 5 1 5 5 5 2 7 2-13 2-4 1 4 3-2 1 1 1 14 0-19 1 18 1-5 1-11 2-3 0 14 1-8 0-5 1 0 2 12 0 7 0-18 1-3 2 20 1-20 0 5 2-1 0-5 2 11 0-7 0-2 1 11 0-2 0 1 0 3 1-1 0 4 1 4 0-6 1-11 3 8 1-1 0-11 0 5 1 9 1-1 1-3 0-8 0 11 1 5 3-4 0-15 1 5 3 8 0 6 1-4 1-11 0-4 1 12 0-1 1-8 1 0 3 9 3-10 2 3 0 13 0-19 1 18 0-10 4 14 2-20 1 14 0-6 1-4 2-3 0 4 2-6 0 2 1 1 0 14 1-17 2 8 4-8 2 18 2-7 0-7 0-5 0 20 1-2 2 3 1-19 0 1 0 17 1 0 5 0 2-12 3 10 0-4 3 10 0-9 3-1 1-2 2 9 4-10 0-7 0 13 5-10 8 5 1 7 5-16 2 11 4-11 0 19 0-8 2-8 9-5 3 0 16 17 4-16 0 20 4-21 2 16 3 4 2-5 0-14 2 13 1-7 7 12 0 1 4-17 0 0 1 7 4 7 3-2 19 2 7-5 9-9 13 13 21 6 8-4 0-19 26 20 1-13 12 4 6-6 2 12 0-4 5 8 16-6 16 5 21-13 18-4 3-1 22 0 18 42-13-17-16 8-15 10-2-3-8-13-30 2-37-2-4-2-2 12-9-8-30 4-9-10-1 9-3 12-3-22-3 10-5-1-7-2-35-3-16-2-1 15-13-2-1-10-1 3-3 14-27-20-4 4-1 15-4 3 0-1-2-8-1 6-12-20-2 16-3-9-9 2-1 11-2-8-9-12-5 13-5 4-6-1-3 5-1-6 0-13-4 13-2-6-2 13-3-21-3 22-1-5 0-11-1-2-3 13-1-17 0 22-3-8"/><path d="M1695 560l-3 14-2-6-1-3-1-9-10 10 0-6 0 12-1-6 0-4-2-5-2-2 0 1-1-4 0 13-1-12-1 17 0-9-1 10-1-2-1-7 0-9-3 5 0-5 0 16-1 6-1-14 0 12-1-20 0 0 0 7-1 12 0 0-3-4-3 4-1-19 0 4-4 8-1-10-1 19-2-22-1 14-4-4-2 7-1 6-1-15-13 13-2-17-4 5 0-2-1 13 0-17-3 2-1 6-1-4-4 4-5 1 0-5-2 12-2-18-2 6-2 10-1-2 0-12 0 19-6-14-1 4-1-9 0-2 0 3 0 18 0-9-1 10-1-8-1 9-1-21 0 3-2 12-1-12 0 12-2-7-1 9-2-7 0-7 0-5-1 2 0 6-3-5 0 3 0-2-1 16-1-1-1-16-1 13 0-16-2 7 0-1-1-5-1 6-3-5 0 1-1 2 0 2-2-1-2 5 0 9-5 1-1-6 0-1-1 1 0-13-1 16 0-6-1 3-3-9-2 8-3-3-1-10-4 9-1-3-1-2-3-2-4 18-3-10 0-5-1 15 0-1-1-1-1-8-1-8 0 10-1-7-5 2 0 10-1-17 0 10-1 5-4-1-2-3-3 8-1-19-4 21-2-11-2-1-1-10-6 2-1 11-1-10-1 7 0 8-2-3-1-7 0 6-3 0-1-13-1 9-1-5-1 12 0-12-2 15-3-20-1 19-1-20 0 9-1 13-1-18-1 4-2-3 0 3 0-1 0 16-1-4-4 0-1-13 0 9 0-14 0 2-3 21-1-5 0-14-1 17 0 1 0-18 0 16-1-12 0 10-1 0 0-13-1 12 0-17-3 23-4-14 0-4-1 14-1 1-5-2-1 4-2-1 0-21-2 10-1 2-1 8-3-15-1 5-2 7-1-8-1-3 0 6-1-2-1-1-1-4 0 6 0 10-1-15-1 5-1-9 0 16 0-7-1-1-1-5-1 15 0-2-1-3 0 4 0-1-1-5-3 7-1-6-1-15 0 13-2 11 0-11-2-11 0 7-1 13-1-14-1 6 0-14 0 11 0-7 0 12-1-12 0 11-1-15 0 11-1-7 0 6-1-1-1 8 0-16 0 21 0-2-1-18 0 22-1-6-1-10 0 6-1-2 0 7-1 5 0-1 0-4 0-5-1 10 0-17 0 8 0-14 0 22-1-5 0-1 0-7 0-1 0 8 0-15-1 2 0-1-1 5 0 14 0-9-1-8-1 10 0-9 0 11-1-13-1-3 0 22 0-13 0-8-1 3 0 8 0-5-1 9 0-2 0-9 0 4 0 9 0-15-1 13 0 5-1-15 0-7 0 19 0-5-1 0 0-5 0 12-1-4-1-6 0 9 0-3-1 3 0-11-1 8 0-3 0-6-1 14 0-7 0-11-1-1 0 13-1 1 0-15-1 4 0 0-1 10-1-10 0 2 0-1 0 15 0-6 0-12 0 2 0-5 0 19-2-17 0 0 0 0 0 6 0-7-1 11-1-5 0 10 0 1 0-4 0-4-1 9 0-13-1 13 0-18 0 12-1 5 0-3 0 1 0-16-1 0 0 8-1 12 0-17-1 2-1 17 0-11 0-8-1 19 0-9-1-11 0 8 0-6-1 9-1-1 0-10 0 7 0 5-1 3 0-15 0 18 0-2 0-9 0-3-1 1 0 14-1-13 0-4 0-1-1 17 0-2-2-4 0 9 0-7 0 5 0-10 0-8 0 10-1 4 0-10 0 12 0-1-1 3 0-9-2 10-1-6 0-16 0 8 0 8 0-2-1-15 0 20 0 2-1-12 0-7 0 0-1-3 0 21 0-7 0 5 0 3-1-8 0-10 0 7 0 9 0-2-1-11 0 2 0 2-1 6 0-10-1-3 0 18 0-15-1 7 0-11 0 0 0 10 0 9-1-8 0 3 0-3-1-7 0 4 0 8 0-1 0 5 0-16 0 3-1-7 0 4 0 5 0-2-1 5 0 6-1-6 0-8 0 8 0 8 0-17-1 10 0 2 0-17 0 1-1 7 0 3-1 0 0 12-1-5-1-19 0 20 0-7-1-10 0 16 0 5 0-18 0-4 0 5-1 2 0 4 0-4 0-8 0 13 0 6-3-8 0 8 0-13-1-6 0 2-1 5-1 12 0-12 0 11-2-2 0 1-1-10-1 15 0-17-1-4 0 4-1-5-1 9-1 13 0-22-1 1 0 5 0-2 0 12-1 6 0-14-1 8 0-10-2 7 0-4-2-6 0 1 0-4-1 18 0-9-1 11 0-20-1 1 0 10 0-6 0-4-1 3-1 6 0-2 0 11 0-13-1 3 0 7 0-9-1 3 0-9-1 2 0 17 0-19-1 5 0-5-1 2-1 0-1-3 0 4 0 7-1 3-1 0-1 7 0-6-1-8 0-1 0-1-1 8-1 3 0 7-1-13 0 12-1-13 0-1-1 15 0-3 0-15-1 0 0 9-1 0 0 2-1-9 0-8-1 11-2-6 0 3 0 2 0 1 0-2 0 6-1-7 0 1-1 2-1-2-2 6 0-9 0 0 0-3-1 7-1 0 0 2 0 0 0-1-1 7 0-4-1 7 0-10-2-3 0-6-1 22-1-23 0 13-2-7-1 14 0-16-3 4-1 6-5-8-1-5 8 43 1-18 0 5 1 12 1-11 0 7 2 1 1-7 0 5 1 1 2-12 0 1 1 5 2 4 1-7 1 5 1 6 0-11 0-1 1-3 4-1 0 7 0 11 1 3 0-6 1-1 0 6 0-8 0-11 1 18 1-19 0 5 0-6 0 12 1-12 0 17 0-15 1 17 1-20 0 17 0-8 1-5 0 10 1-12 1 17 1-16 1 16 1 0 0-14 0 16 0-15 0 3 1 15 1-16 2-5 0 0 1 0 0 17 0 3 0-20 1 12 0-7 0-2 1-6 1 5 2 15 0-4 0-8 1-6 0 14 0-12 0 5 0 6 1 3 0 4 1-10 0 3 1 2 1-6 2 9 0-5 0 5 1-4 0-6 0 3 1 1 0-4 0 13 1-21 0 22 0-1 0-21 0 18 1-8 1 9 0-20 0 5 0 14 1-3 0-13 1 2 0-5 0 13 0-5 1-3 0 17 0-17 0 15 0-6 1-12 0 11 1-6 0 14 1-6 0 2 0-3 0 8 1-11 2-10 0 6 1 2 0 13 0-16 0-5 2 11 0 3 0-9 1 7 0-12 0 7 1 6 0 3 0 3 1-15 0 10 1 7 0-16 1 3 0 7 0-12 1 17 1-8 0 2 1 8 0-16 0 2 1 0 0 0 1 9 0-13 0 1 1 16 1-14 0 15 1-7 0 0 0 5 0-10 1-7 0 17 1-6 1-2 0-8 1 9 0-4 1-10 1 22 0-7 0-11 0 0 1-5 0 14 0-10 1 0 0 18 0-10 1-5 0 1 0 5 0-7 1-5 1 5 0 2 1 1 0 15 2-14 1 7 0 3 0 2 1-10 0-7 1 5 0 4 0-9 1 10 1-7 0 13 1-14 0 8 1-13 1 3 0-1 1 13 0 6 1-14 0 2 1-4 2 13 0-17 1 16 0-10 0-8 0 7 0 8 1-16 0 12 0-2 0 4 1-3 0 4 1 1 0-2 0-4 0 2 0 1 0-2 1 1 0-10 0 18 0-11 1-3 0 1 0 1 0 10 2-14 0 6 1 12 0-14 0-8 0 4 0 0 1 12 0 2 0-10 3 13 0-15 0 3 1 10 0 4 2-10 0 6 1-19 0 12 0-5 0 3 2-3 1-2 0 16 0-14 1-2 0 11 0-9 0 1 0-4 0 9 1-12 1 11 0 4 1-2 0-7 0-2 1 4 0-4 0 7 0-8 0 17 1-12 1 8 0-8 1-4 0-1 2 2 0 16 0-19 1 5 1 14 1-21 1 11 0 5 0-3 1-9 0 18 1-10 0 10 2-10 0-8 0 18 1-21 0-1 1 23 1-16 1 10 0-3 0-3 0-10 1 19 1-17 1 20 0-22 0 13 0 3 0 0 1-4 2 6 1-17 1 19 0-4 1-17 1 0 0 3 1 11 1-4 0-4 1 3 0 11 1-10 1 12 0-15 2-6 0 1 2 19 2-17 1 14 1 2 1-2 2-10 0-5 1 13 1-10 0 9 0-8 1 15 0-1 0-13 1-2 0 7 2-1 2 7 0-9 2 10 2-15 2 1 0 1 1 3 0 7 1-16 2 0 0 17 0-14 1-2 0 4 1-5 2 19 5-12 3-8 1 0 2 15 1-10 1 14 0-5 2-6 3 7 0-5 1 7 4-11 2-6 2 20 1-4 0-3 4 4 3-1 2 6 1-3 0-16 1-1 5 15 3 4 3-21 0 5 1-1 2 4 5 12 0-17 3 6 1 10 1-10 2 3 0 2 3-2 0 7 1 1 3-20 2 12 4 1 2-12 1 4 1 13 1-5 7-8 4 1 0-4 0 4 1 15 2-16 1 11 1-7 1-10 0 2 1 6 2 4 0-7 2 9 2-9 3 5 3 0 2 9 0-7 1-3 1-6 3-1 0 13 0 0 0 4 2-9 4 2 1-8 0 5 1-5 0-2 2 17 9-3 2-16 3 9 3 10 1-4 3 3 4-17 1 9 1-2 4 10 6-17 0 2 0 9 3 10 5-10 6-8 1 10 0-8 2-4 1 21 2-23 3 21 2-9 2-9 2 1 13 13 2-7 3-8 0 16 4 4 1-21 1 7 1-3 3 7 3 6 0 3 3-17 5 0 0-1 2-3 2 2 0 11 1 5 5-9 4-3 1 12 0-1 6-14 1 10 5-10 0 12 2-6 7 12 2-5 1-2 5 9 13-1 6-13 5 13 6-15 1-3 3 12 2-1 1-10 18 12 2-14 1 12 6-7 7 12 5-13 11 12 3-6 11-6 9 4 9-10 1 3 8 14 16 0 12-13 3-3 1-2 50 1 0 19 5-16 21 14 59-3 35 1 4 1 1-6-25 15-17 1-142 10-19 6-38-16-7-1-8 7-3-8-2 4-30-4-4 1-7 16-7-12-3 1-21 12-11-15-13 14-1-13-16 13 0-1-1 3-9-15-3 5-1-3-1-1-2 0-1-4-5 22 0-14 0 10-4-12-1 13-2-1-4-9-12 0-4 8-1-6-2-11-6 12-5 2-10-7-8 7-10-14-6 5-4 0-4-5-3 18 0 2-1-9-3-2-2-1 0-4-2 5 0 6-1-12-8 7-2-1-19-5-2 2-4 8-3 1 0-13-5-2-1 16-12-18 0 7-9 10-1-11-5 1-3 5-1-10-2 1-2 14-10 3 0-4-4-7-1 8-3-3-2 3 0 6-3-10-1-10-2 1-2 16-1-3-3-17-3 11 0-5-3 12-1-7-2 3-5 10 0-12 0 3-1-13-1 12-1-13-1 21-3-17 0-4-2 2-1 2-5 4-1-7 0-1-1 16-5 2-1-3-1 0 0-12-1 5-2 3 0 4 0 8-1-13-2-1-2 8 0 5 0-3-3-16-2 18 0-10 0 2-1 1 0 7-2 1 0-5-1-7 0 11-1-3 0-10 0 11 0 2-1 2 0-7-1 3-1-5 0 6 0 3 0-21-1 15 0-8 0-4-1-1-1 17 0-18 0 11-1-13 0 2 0 8-1 7 0-13-1 11-1-15 0 18-1 2 0-14-1 6 0-4-3-9-1 5-2 16 0-8 0 0-1 5 0-1-1-17-1 3 0 0-2 2 0-2 0 3-1-4-1 11 0-8-1-4 0 6 0 3-1 5-1-10 0 12-1-2-2-12 0-2-1-1 0 1-2-1 0 18-1-1-2-7-1-3 0 0 0 13-1-18-1 16-1-8-1 1-1 6 0-9-3 0-1 10-1-14-1 6 0-5-1-4 0 7-1-1 0 2-1 4 0-1 0 3-1-14-1 0 0 7-1-2 0-2-1 8 0-9-1-2 0 7-1 4-1-4 0-7 0 4-1 16 0-4-1-10 0 1-1 7 0-6-1 0 0-7 0 1-1 13 0-1 0-1-1-1 0-1 0-2-1 7-1 6 0-4-1-10-1-1 0 7-1-12 0 18-1 0 0 0 0-19 0-3-2 1-1 3-1 7 0-3-1-5-1 3-1 11-1 4-1-13 0 5 0 1-1 5-1-13 0 6-1 6 0-12 0 4 0 1 0-10-1 9 0-10-1 6 0-5 0 20-1-19 0 2 0 14-1 3 0-11-1 14 0-11-1-13 0 12 0-4-1 10-1-16 0 11-1-7-1 8-1-5-2 12 0-12-1 6-1-9-1-5 0 6-1 13-3 0 0 3-2-2 0-11 0-3 0-4-1 6-3 10-1 3-1-17-1 4-1 11 0-2-2-15-1 12-1-14-1 14 0 8-1-18 0 6-1 13-1-6 0-13 0-5 0 12-1 8 0-10 0 11 0-12 0-7-1 20 0-2 0-2-1 5 0-5-2-14 0 6-1 2 0 3-2-5 0 0-1 11 0-11-1-8 0 11-1 7-1-1 0-14-1 1-1 15-1-10-1 12 0-11 0 4-1 0 0-11 0 7-2-4-1-2 0-2 0 7-1 9-3-5-5 5 0-13-3-6-1 19 0-10-5-6 0 15-1-11 4 17 0 10 1 8 2-8 2 8 0-10 2-8 1 3 2 4 3 4 0 6 1-13 3 12 2 1 0 1 1-10 0 1 0 13 0-6 1-8 0 7 1 8 1-16 1 7 1-3 0-5 1 12 0-3 2-6 2-8 1 18 0-14 0-4 1 2 1 16 0 2 0-9 1-8 1 17 0-16 1 4 0 0 1-5 1-1 0 12 4 8 1-17 1 6 0-4 1 4 1-8 1 15 0-19 2 18 1-7 1 8 2-8 2 8 1-11 3 5 0-7 1-5 1 8 1-8 0 11 1-5 1-2 2 8 0-12 1 18 0-19 1 8 1 10 1-13 0-2 0 18 1-15 0 7 1 5 0-11 0 4 1-8 1-4 1 4 2 4 1-3 0-2 1 18 1-9 0 5 1-13 1 3 1-5 0 7 1-7 3 12 2 8 0-18 0 6 1 13 1-20 2-1 0 4 1 13 2-3 0-1 1-12 1 5 1 8 0-10 1 6 0-4 0 3 0 10 2-19 2-1 1 8 0 3 1-2 0-7 0 20 3-14 2 10 0-5 1 10 1-7 1 5 1-4 1-14 1 8 1 5 1 0 1 6 1-10 0-8 1 11 1-8 0 12 3-16 1 8 0-3 3 5 1-13 0 0 2 10 2 4 0 5 1-9 1 11 0-17 2-5 1 19 1 4 0-13 2-9 2 16 1-16 1 14 0 8 0-11 0 1 4-11 1 7 2-5 1 11 0-10 1 4 0 13 0-3 0-17 2 1 0 4 1-5 1 18 1-16 1 15 0 1 0-11 0-8 0 20 3-15 2-4 1 16 0-15 1 13 0-8 1 5 1 10 0-5 2-4 1 0 1-11 1 4 0 9 0-9 0 0 2 3 9-9 0 8 1 3 10 8 6 0 9 4 3-1 0-7 3 1 11-10 4-6 2 15 0-1 4-3 11-6 7 16 2-7 7-14 9 19 0-19 8 8 3 15 8-18 8 6 8 7 3-3 0-14 2 5 1-7 1 7 5 13 4 3 1-19 0 13 38-1 2-9 22 14 7-10 1 3 15-12 8 19 0-18 2 16 1 2 1-16 0-2 1 7 4-6 17 10 18-10 1-1 21 12 0 0 5-14 3 13 9-1 1-6 1-4 1 8 2 5 18 5 2 2 27-20 19-1 75 44-19-18-146 8-5 0-23-2-9-8-7-1 0 1-10 20-17-13-3 14-11-3-36-16-9 0-9 0-2-3-17 6-1 0 0-7-3 13-8-3-4-6-62 7-11-2-1 2-4 1-3-2-10-9-2 3-7 7-12 0-11 10 0-4-4-6-3-4 0-3-2 8-4-11 0 16-2-15 0 5-1-6 0 1-4 0-3 2-1 3-2-3-2 8 0 9-2-5-1 4-2-15 0 0-1 4-1-5-2 10-1 0 0 0-2-5-2-8 0 20-1 2-1-10-1-5-1 11 0-3-2 4 0-9-3 1 0-1-2-9 0 9-1-9-3-1 0 2-1-3-3 12-1-6-1 0 0-6-2 14 0-8 0 7-1-10-1-2 0 5-3 3-3-7-1 13-1-13-1 18-1-16 0 16-1-19-7 4-2 16-2 2 0-20-4 3-7 8 0-13-2 0-1 13-2-3 0-9-1 5-5 10-1-14-1 14 0-1-1-15-1 18 0-12-1 15-2-13 0 5 0 6-1-19-1 4-4 12-3 6-1-11-3-4-1 2-6 6-2 7-11-7-1 6-3 0 0-10-1 10 0 0-1-17 0 12-1-14 0 6-3-8-1 22-2-3-1-2 0-16-1 5-2 15-1-5-1-2-2-8 0-1-5 8-1-9-4 14 0-1-1 6-1-10 0-4-1-4 0 3-5 20 9 12 1-9 0 1 3 12 1-14 2 7 3-12 2 6 3 13 0-10 3-8 3 0 1 2 1 10 3 5 0-5 2 3 1-6 1-6 1 12 1 4 9-9 0-7 6 15 5-6 10 0 4-5 2-2 4-1 5 17 1-5 1 2 0-16 0 14 1-6 2-2 4-4 0 16 2-20 2 5 4-6 6 19 2-11 1-3 9 14 0-1 4-16 2 5 2 12 4-19 1 8 0 13 3-6 4-9 2 4 1-9 3 5 2 4 1 11 1-15 4-2 2-2 4 10 1-13 0 13 2 9 1-14 0 5 8 9 0-14 1-2 2-1 8 6 1-5 1 5 2 0 7 0 7-5 1 0 15 4 8-9 2 3 18 18 19-13 43 6 14 4 6-12 0 0 29 3 57 2 3-5 4 7 52-2 79 7 37-2-56 26-30-10-4 10-46-17-23 19-51-20-23 18-23-18-3 17-36-18-9 20-5-18-61 8-5-6-29 7-2 6-3-18-6 8-2 0 0-4-3 8-8-4-6 0 0 15-1-2-5 1 0-14-9 16-9-1-14-13-6 6 0 3-3-14-28 13-3-15-1 1-1 10-1 7-1-3-4-8-3 0-2 2-5 8-5-15-3 17 0-8-3 3-2-14-4 10 0 8-2 3-1-23-5 9-1 10-1-1-1-3-1-4 0-4-1 5-1 10-3-20-1-1-1 17 0-2-8 6-2-14-3 5 6 22 1 1 0 6 8-4 11-5 0 2 1 7 23-10 0 4 16 11 0-18 16 9 3 8 21-19 16 7 1 4 7-7 3-2 1 7 6-5 10 14 12 0 9-17 7 4 39 2 22-4 87-4 82 2 37 11 12 13-46 0-218 13-12 1-1-12-14 9-5-8-11 7-8-8-4 1-20 4-3-9-1 21-3-20-5 15-5-9-3-1-3 13-7-21-40 15-28-12-1 7-7 7-14-17-1 4 0 34 4-14 51 20 12-1 14-11 43-6 225 35-158-4-3 6-58-7-60-4-5 18-36-9-5 10-30-3 23 22 66-14 23 6 65 27-147 20 99 8"/></g><defs><marker id="c0" markerUnits="userSpaceOnUse" markerWidth="12" markerHeight="12" refX="6" refY="6" viewBox="0 0 12 12" overflow="visible"><circle cx="6" cy="6" r="4.2" fill="#f03e18" fill-opacity="0.92"/></marker><marker id="c1" markerUnits="userSpaceOnUse" markerWidth="12" markerHeight="12" refX="6" refY="6" viewBox="0 0 12 12" overflow="visible"><circle cx="6" cy="6" r="4.2" fill="#f14d21" fill-opacity="0.92"/></marker><marker id="c2" markerUnits="userSpaceOnUse" markerWidth="12" markerHeight="12" refX="6" refY="6" viewBox="0 0 12 12" overflow="visible"><circle cx="6" cy="6" r="4.2" fill="#f25b2b" fill-opacity="0.92"/></marker><marker id="c3" markerUnits="userSpaceOnUse" markerWidth="12" markerHeight="12" refX="6" refY="6" viewBox="0 0 12 12" overflow="visible"><circle cx="6" cy="6" r="4.2" fill="#f36a34" fill-opacity="0.92"/></marker><marker id="c4" markerUnits="userSpaceOnUse" markerWidth="12" markerHeight="12" refX="6" refY="6" viewBox="0 0 12 12" overflow="visible"><circle cx="6" cy="6" r="4.2" fill="#f4793d" fill-opacity="0.92"/></marker><marker id="c5" markerUnits="userSpaceOnUse" markerWidth="12" markerHeight="12" refX="6" refY="6" viewBox="0 0 12 12" overflow="visible"><circle cx="6" cy="6" r="4.2" fill="#f68846" fill-opacity="0.92"/></marker><marker id="c6" markerUnits="userSpaceOnUse" markerWidth="12" markerHeight="12" refX="6" refY="6" viewBox="0 0 12 12" overflow="visible"><circle cx="6" cy="6" r="4.2" fill="#f7974f" fill-opacity="0.92"/></marker><marker id="c7" markerUnits="userSpaceOnUse" markerWidth="12" markerHeight="12" refX="6" refY="6" viewBox="0 0 12 12" overflow="visible"><circle cx="6" cy="6" r="4.2" fill="#f5a055" fill-opacity="0.92"/></marker><marker id="c8" markerUnits="userSpaceOnUse" markerWidth="12" markerHeight="12" refX="6" refY="6" viewBox="0 0 12 12" overflow="visible"><circle cx="6" cy="6" r="4.2" fill="#f4a95b" fill-opacity="0.92"/></marker><marker id="c9" markerUnits="userSpaceOnUse" markerWidth="12" markerHeight="12" refX="6" refY="6" viewBox="0 0 12 12" overflow="visible"><circle cx="6" cy="6" r="4.2" fill="#f2b161" fill-opacity="0.92"/></marker><marker id="c10" markerUnits="userSpaceOnUse" markerWidth="12" markerHeight="12" refX="6" refY="6" viewBox="0 0 12 12" overflow="visible"><circle cx="6" cy="6" r="4.2" fill="#f0ba67" fill-opacity="0.92"/></marker><marker id="c11" markerUnits="userSpaceOnUse" markerWidth="12" markerHeight="12" refX="6" refY="6" viewBox="0 0 12 12" overflow="visible"><circle cx="6" cy="6" r="4.2" fill="#eec36d" fill-opacity="0.92"/></marker><marker id="c12" markerUnits="userSpaceOnUse" markerWidth="12" markerHeight="12" refX="6" refY="6" viewBox="0 0 12 12" overflow="visible"><circle cx="6" cy="6" r="4.2" fill="#edcc73" fill-opacity="0.92"/></marker><marker id="c13" markerUnits="userSpaceOnUse" markerWidth="12" markerHeight="12" refX="6" refY="6" viewBox="0 0 12 12" overflow="visible"><circle cx="6" cy="6" r="4.2" fill="#ebd479" fill-opacity="0.92"/></marker><marker id="c14" markerUnits="userSpaceOnUse" markerWidth="12" markerHeight="12" refX="6" refY="6" viewBox="0 0 12 12" overflow="visible"><circle cx="6" cy="6" r="4.2" fill="#e5d779" fill-opacity="0.92"/></marker><marker id="c15" markerUnits="userSpaceOnUse" markerWidth="12" markerHeight="12" refX="6" refY="6" viewBox="0 0 12 12" overflow="visible"><circle cx="6" cy="6" r="4.2" fill="#d9d372" fill-opacity="0.92"/></marker><marker id="c16" markerUnits="userSpaceOnUse" markerWidth="12" markerHeight="12" refX="6" refY="6" viewBox="0 0 12 12" overflow="visible"><circle cx="6" cy="6" r="4.2" fill="#cece6b" fill-opacity="0.92"/></marker><marker id="c17" markerUnits="userSpaceOnUse" markerWidth="12" markerHeight="12" refX="6" refY="6" viewBox="0 0 12 12" overflow="visible"><circle cx="6" cy="6" r="4.2" fill="#c3ca63" fill-opacity="0.92"/></marker><marker id="c18" markerUnits="userSpaceOnUse" markerWidth="12" markerHeight="12" refX="6" refY="6" viewBox="0 0 12 12" overflow="visible"><circle cx="6" cy="6" r="4.2" fill="#b7c65c" fill-opacity="0.92"/></marker><marker id="c19" markerUnits="userSpaceOnUse" markerWidth="12" markerHeight="12" refX="6" refY="6" viewBox="0 0 12 12" overflow="visible"><circle cx="6" cy="6" r="4.2" fill="#acc255" fill-opacity="0.92"/></marker><marker id="c20" markerUnits="userSpaceOnUse" markerWidth="12" markerHeight="12" refX="6" refY="6" viewBox="0 0 12 12" overflow="visible"><circle cx="6" cy="6" r="4.2" fill="#a0bd4e" fill-opacity="0.92"/></marker><marker id="c21" markerUnits="userSpaceOnUse" markerWidth="12" markerHeight="12" refX="6" refY="6" viewBox="0 0 12 12" overflow="visible"><circle cx="6" cy="6" r="4.2" fill="#95b947" fill-opacity="0.92"/></marker><marker id="c22" markerUnits="userSpaceOnUse" markerWidth="12" markerHeight="12" refX="6" refY="6" viewBox="0 0 12 12" overflow="visible"><circle cx="6" cy="6" r="4.2" fill="#89b543" fill-opacity="0.92"/></marker><marker id="c23" markerUnits="userSpaceOnUse" markerWidth="12" markerHeight="12" refX="6" refY="6" viewBox="0 0 12 12" overflow="visible"><circle cx="6" cy="6" r="4.2" fill="#7db13f" fill-opacity="0.92"/></marker><marker id="c24" markerUnits="userSpaceOnUse" markerWidth="12" markerHeight="12" refX="6" refY="6" viewBox="0 0 12 12" overflow="visible"><circle cx="6" cy="6" r="4.2" fill="#71ac3b" fill-opacity="0.92"/></marker><marker id="c25" markerUnits="userSpaceOnUse" markerWidth="12" markerHeight="12" refX="6" refY="6" viewBox="0 0 12 12" overflow="visible"><circle cx="6" cy="6" r="4.2" fill="#64a837" fill-opacity="0.92"/></marker><marker id="c26" markerUnits="userSpaceOnUse" markerWidth="12" markerHeight="12" refX="6" refY="6" viewBox="0 0 12 12" overflow="visible"><circle cx="6" cy="6" r="4.2" fill="#58a433" fill-opacity="0.92"/></marker><marker id="c27" markerUnits="userSpaceOnUse" markerWidth="12" markerHeight="12" refX="6" refY="6" viewBox="0 0 12 12" overflow="visible"><circle cx="6" cy="6" r="4.2" fill="#4ca030" fill-opacity="0.92"/></marker></defs><g transform="scale(.25)" fill="none" stroke="none"><path marker-start="url(#c27)" marker-mid="url(#c27)" marker-end="url(#c27)" d="M901 1671l63 86 4 23-235 152"/><path marker-start="url(#c20)" marker-mid="url(#c20)" marker-end="url(#c20)" d="M1039 1323l14 109-188 39 196-19 2 15-20 14-9 36-175 38 44-11 143 12 8-8 6 40-11-25-2 9 0 15-5 2-6-9-1-17-2 26-4 5-95-7-47-15-6 15-73-10-147-2-198 53 288 5 40-25 84 30 0-31 7 9 2 13 6-25 5 35 6-35 1 21 0-4 1 13 4-31 6 35 1-4 15-24 1 25 4-8 3-9 9-2 5 9 1 4 3 9 0-18 1 18 10-1 6-30 1 23 1 2 53 2 13-17 3 3 9-16 20-3 2 37 2-4-62 11-14-5-7 12 0-1-6 0-1 18-3-21-3 8-6 2-2 15-8-12-4-13-1 2-12 27-10-9 0 2-1-14-1 13 0-24-7 13-10 5-5-18-6-2-4 20-2-23-169 24-2-2-60 14-57-1-31 14 78 23 60 1 18-30 14 29 0-30 12 2 11 25 73-22 37 5 42 14 11-19 1-5 9 26 35-3 10-19 0 7 3 25 28-29 49 23 1-29 2 0-4 42-71 32-247-29-10 19-2-3 333 60-424 11"/><path marker-start="url(#c24)" marker-mid="url(#c24)" marker-end="url(#c24)" d="M1056 1506l-118 88 116 26 20-7 2 50-87 104 1 3-237 45"/><path marker-start="url(#c22)" marker-mid="url(#c22)" marker-end="url(#c22)" d="M1070 1562l-26 19 23 56 2 32-115-27-4 9-13 5-25 9-7-18-12 9-18 19-166-34-158 59 285 5 118-4 4-18 9 31 3-4 24-17 80 60-95-32-8 19-2-14-303 24-2-29-52 48 97 3 19-4 12 9 4-10 15 28 215-14"/><path marker-start="url(#c11)" marker-mid="url(#c11)" marker-end="url(#c11)" d="M815 1156l-5 38-9 109 2-13 260 48-275 59 8-14 108 44-98-19-562 26-7 30 21 12 5-10 1-20 0 20 14-17 284 29 33-12 67 10 1-31 79 9 44 24 146-14 13 2 19-21 12 5 13 5 27-12 3 31 32 3-90 19-35-5-36 19-9-24-1 28-8-23-91 6-3 21-5-21-3 19-2-22-6 8-6-2-15 15-16-10-17-3-8 4-8 1-19 5-26-7 0-1-13 13-18-14-33-9-3 13-15-14-6 0-1 17-2 3-4-11-4 14-1-23-10 9-5 1-1-10-5 26-1-25-5-7-9 14-19 13-3-9-10-2-16 3 0 9-9-8-17 13-7-6-43-1-1-14-7 6-35 12-7-1-17 3-8-23-16 17-3 3-5-25-9 23-3-4-2-6-1-12-6-9-5 36-4-10-4-15-2 21 0-14-4 4-2-22-3 13-6-15 18 57 1 11 1-13 1-3 11-11 4 1 8 14 2 6 0 4 2-14 4 24 2-13 2 8 1 7 2-31 2 0 4 20 1-9 1 3 3-1 3 18 3-39 3 29 3-12 1 22 3-4 5 3 19-4 1 0 5-5 7-12 4-13 0 33 0-18 1 14 1-18 2-10 1 23 2-21 0-4 1 35 2-28 4 21 27 2 1-19 13 20 4-30 1 16 0 12 1 6 2-11 5-22 0 4 1 24 15 4 2-23 9-4 3 16 19 2 8-25 2 34 3 0 6-9 8-1 1-10 11-5 1-10 4 0 2 17 14 16 5-31 2 29 4-9 3-21 5 23 8 4 1-4 1-8 0-15 6 34 5-31 5 15 4-16 8 12 3 11 3-22 2 15 7-9 4 12 7-12 1-4 0 12 7-18 8 29 9-25 2 20 7-16 1-7 3 20 2-15 0-7 2 16 4-9 1 23 10-3 23 5 9 4 15-26 7 22 14-9 128-17 97-1 9 2 31-3-260 39 0 29-36-23-8 23-7-25-1 13-7-7 0-11-15 2-2 1-12 0-4 2-13-7-3 0-3 20-1 16-7-17-3-15-1 29-3-28-33 1-48-1-20 21-19-15-3-2-3-1-6-7-2 11-3-1-27-4-4-8-2 36-5-36-24 7 0-3-4 18-1-4-8-17-5 21-2-4-3-8 0 8-1 15-2-9-7-14-1 7-5-4-1 9-5-21-16 16-4-8-3 2-4-2-1 22 0-20-1 12-1-14 0 9-6 0-1-18 0 12-1 8-4-12 0-7-1 34-2-2 0-23 0 3-1 27-5-1-1-3-4-31-3 13-2-18 0 19-2 11-1-25-3 11 0 3-1-11-1 13-3 15-1-24-1-9-1 14-2-8-3 10 0 7-8-11-3 22-11-31-9 7-3 12-7 33 49-15 8 17 6-15 5 2 4 3 1 27 4-17 2-4 3-13 1 13 1 0 2-5 0 14 3-10 2 15 1 0 25-15 10-13 118 15 275-5-99 50-335-15-15-2"/><path marker-start="url(#c9)" marker-mid="url(#c9)" marker-end="url(#c9)" d="M1056 1323l-249 19-540 50 5-6 103-18 590 70-163-21-15 10-252 4-17-2-5 3 0 3-223-19-25 1-23 12-5-7 4 35 12-5 15 1 11 11 4-5 83 5 4 14 0-10 6-7 8 16 5-5 27-18 21 23 3-1 22 4 0-28 6-5 43 23 10-8 11-11 15-7 6 25 4 2 13-30 8-1 18 38 2 0 15-9 40 1 21 0 40 5 65-8 126-8-172 39-8 9-7-19-27 16-9-14-3-8 0 4-26 26-3-8-8-9-10-5-30 20-1-18-11-6-26 30-7-12-5-22-4 36-2-33-3 23-1-21 0 21-3-2-5 9-1-6-14-10-16-16-1 0-20 15-25 16-9-25-26 25-5 2 0-11-3-2-1-23 0 25-16 11-5-10 0 1-7 11-1-20-14 10-9-5-1 16-1-28-10 13-12 11-2 1-3-32-3 33-2-3-3-5-8 0-8-14-1-9 0 25-1-15-1 10-4-1-2 7-2-18-1 11-2 14-4-36-2-3-2 23-5-7-8 22 0-13-1 3-15-20-14-3 0 12 0-15 0 5 59 57 0-4 2 12 7-12 0 16 2-6 4-29 0 7 3 25 1 3 1 1 1-29 0-1 3 2 1 12 0 2 1 5 1-17 4-2 1 14 0-17 1 1 3 7 3 13 5-17 0 25 2-27 7 31 0-30 2-3 1 9 1 16 0-19 0 0 1 4 4-7 0-6 16 10 0 17 10-10 2 3 1 0 12 3 18-26 3 6 4 15 51 7 34 0 10-8 19 8 16-11 22-16 3 2 28-3 15 1 2 0 2 24 2-14 4 18 3-15 2 26 12-24 7 20 17-21 3 11 7-20 15 29 200-23 31 19-394 29-143 2 0-5-3 5-9 14-29-36-2 37-2-31-12 7 0 11-1-15-8 16-2-24-6-1-16 22-7-20-1 13 29 34 2-7 13 28 272-24-198 52"/><path marker-start="url(#c13)" marker-mid="url(#c13)" marker-end="url(#c13)" d="M835 1158l21 45 11 8 164 60-160-27-44 1-15 64 8-8 37 0 186 13 15-3-11 13-175 11-72-12-2 24-1-16 22 31 54 33 150-17-5 51-52 7-91 1-49 2-570 35 275-17 257 12 43-22 76-4 67 26 33-18 8 3 14-9 43 11 5 27-11 0-49-1-10 4-3 6-12 1-12 8-1-8 0 15-10-3-1 11-25-15-15 10-4-24-3 17-5 5-12-16-4 22-22 2-25-2-98-7-8-5-142-5-42 15-7-8-38 7-9-10-3-5-1 1-115 17-110 0-11-2-25-2-5 25 0 10 4-18 18-5 2 2 18 13 0 13 7-1 0 3 5-13 6-16 3 32 18-17 56 21 57-26 3-12 4 23 22-14 8 25 1-14 7 6 9 11 4-6 5 5 3-7 9 4 6-34 8 30 3-31 3 38 17-31 10 21 1 0 5 3 4 3 0 3 0-14 1-21 4 5 2 5 4 21 0-7 1-9 2 3 1 17 1-37 2 33 8-5 11 2 4 1 1-21 8 15 3-1 7 15 8-1 0 1 8-10 2 9 6-1 4-9 6-5 1 4 22 11 8-17 1 18 3-12 7 6 2 5 2-7 1-3 1-12 21 15 7-13 11 17 2-34 7 27 7-1 1-2 6-23 4 0 16 23 114-21 18 19 4 10 3-15 4 20 1-3 3-17 57 0 15-11 2-2 4 11 1 52-10-13-40 12-163-22-11 16-10-18-5 21-2-21 0 14-1-4-23-1-1 13-5-7-7-13-8 7-2 8-1 5-1-8-1-8-2 9-11-4-3-4-2 29-2-28-1 25-9-18-5-16-2 2 0 10-1-2 0 27-2-17-3-3-2 8-2-8-1 9-3-20 0 24-4-15-3-1-2-11-1 1-8 31-1-7-2 8 0 0-2-16-1 13-4 3-6-24 0 13-1-2-1 8-3 6-10-5-5-1-4-28-2 26-3-8-11-10-2-3-5 8-1 12-3 3-2-7-2 10-2-13-4-6-1 8-3-18-8 3-1 3-2 3 0 16-2-21-3 4-1 23-6-37-4 32-4-13-2-2 0 15-2-8 0-16-5 1-1 25-3-26-4 9-3-10-6 24-5-17-2-12 0 16-4 1-5-17-2 32 0-28-3-2-1 0-3 14-7 5-3 8 0-22-1 23-2-13-2 8-5-17 0 5-1-11-3 0-4 29-3-28-3 21 0-2-3-13-3 27-6-10-2-23-3 5-11 9-5 9-2-23-8 7-1 8-2 19-5-13-3 4-6-3-4-26-3 18-2-16-4 5-3 10-5 20-3-23-1 10-2-8 0 17 0-4 0-13-1-15-2 1-2 27-15 7-15-17-36 16 0-34-4 4-5-6-10 17-4 13-4-9-16-5-18 6 7 19 20 4 6-1 13 22 5-27 1 11 11 12 14 14 1-31 4 3 4 16 4-1 11 0 1-10 8 14 13-19 0-8 5 26 3-13 17-8 14 10 9-13 4 30 1-32 7 5 10-5 19 1 4 18 11-19 14 5 14 12 28-13 15 30 11-13 7-7 35-2 0 5 6-7 0-5 3-4 17 5 11-4 2 20 1 3 1-24 6-1 0 28 0-1 8-4 1-17 0-7 2 2 2 31 4-4 4-26 6-1 1 3 4 15 2 1 0 9 4-14 6-16 7 29 5-12 0-9 1 7 5-6 2 13 3-9 4 6 1-13 2 32 4-21 3 3 10 20 3-27 1-10 39 3-50 64-362-7-10 8-7-10 0-12-1 5-9-5-2 20 684 29-679 26"/><path marker-start="url(#c25)" marker-mid="url(#c25)" marker-end="url(#c25)" d="M924 1628l-5 50 94 69-275 15 261 27 4-2-253 21"/><path marker-start="url(#c12)" marker-mid="url(#c12)" marker-end="url(#c12)" d="M854 1179l-1 10-17-26-9 1-14 33-1-7 22 12 32 33 165 44-196 28 210-4 3 4-241 55 229 36 33-5-10 17-117 18-42-3-24-6-51-17-21 13-515 61 204-14 72-9 220 12 7-25 4 22 75-6 10 20 6-3 5-25 16 8 11 2 63 1 7 17 1-26 8 19 31-21 46-6 2 29-49 35-2-22-8 5-8 0-10 2-4-1-19 23-6-2-25-21-40 1-112-5-10 32 0-20-3 8-8-4-1 2-22-15-48 11-14 11-5 4-24-7-43-12-10 9-2 12-3-9-7 10-1-7-16-23-2 14-50 4-4-3-4 15-10-8-5 3-1-3-2 8-9-2-10-13-21 14-3-2-16 0-32-1-28-6-1 10-4-32-88 25-2-2-14-2-6 0-8 10-11-4-3 7 5 20 1-9 0 22 7-26 0 31 4-18 3 2 2-16 1 15 6-14 1 5 1 9 1-10 2 25 4-3 12-4 1-27 2 28 0 6 2-21 4 24 4-8 0 8 7-5 9-4 22-7 17 17 4-1 11-17 0 8 2-6 3 9 9-16 5-9 7-4 13 23 18-12 2-2 4 3 2-5 9 2 5-13 5 30 5-22 5 26 9-28 2 5 4 9 9-2 11 10 3-11 2 15 9-24 3 25 2-30 9 2 6 5 2-2 1 16 1-22 0 14 6 16 6-3 2-27 2 14 5-6 6 13 3-8 0 14 2-29 4 38 1 0 1-15 1 9 3-18 0-6 1 4 7 20 3-31 6 3 3 20 1 3 4 9 3-18 4 3 0-14 4 24 0-7 6-3 8-12 4 5 4 18 6-4 1-22 2 23 7 2 6 2 2-32 5 36 9-14 2-11 16 9 0-3 4 11 1 2 0 1 4-9 0-18 4 26 3-24 5 28 0-27 6 16 2-9 3 17 9 0 8-11 3-4 19-10 7 4 2 6 0-15 1 32 149-28 34 23 105 15-143-3-135 8-20 30-2 0-19-17-2-6-8 16 0-19-5 11-6-6-6-18-8 17-2-10-3 26 0 6-6-26 0 3-2-10-2 13-4 1-2 6-1-9-7 1-5-2 0 6-3 5 0-11-1 21-1-2-16-13 0-19-14 17-2 6-2 8-1-12 0-16-1 2-2 16-4 5-6-21 0 28-1-3 0-9-3 8-5-1-6-1-2 8-2-36-1 12-2-5-8 7-1-6-6-4-6 10-5-14 0 14-3 3-9-12-8 11-1 6-1-19-3 7-1 11-2 5 0-10-4 11-19-7-2-11-11 0-15-9 0 19-6 4-1 5-3 4-5-31-3-3-3 27-3-8 0 16-1-27-2 6-13 1-5-6-1 31-9-24-4 7-5-4-7-8-1 10-4 5-1 10-1-16-5-1-4 14-3-32-5 33-1-27-14 23-13-13-1-8-10 3 0 16-1-14-3-2-3-8 0 11-1 24-2-32 0 23-1-9-6-9-1 18-2 1 0 7-5-16-2 8-1-22-1 27-1-20-5 15-2 8 0-32-4 6-1-5-1 15-2 14-2-1-5-9 0-23-8 2-2 20-2 5 0 6-9-18-4 7 0-23-5 8-10-8-9 37-7-29-1 18-12-27 73 50 8 6 3 1 2 22 0-18 3-19 1 10 1 15 1-21 5 3 2-5 0 19 2-16 4 8 8 10 2-6 14-18 19 15 4-6 10-3 8-1 7 11 51-14 57 24 2-15 57-6 21 18 3-16 13-7 5 1 1 6 1 1 3 28 0-34 16 3 0-1 26 1 3 10 4-10 7 15 322-22-313 40-69 10-290-8-12 0-3 33 12 66"/><path marker-start="url(#c4)" marker-mid="url(#c4)" marker-end="url(#c4)" d="M241 1259l360 36 342 63-458-9-222-3-1-5-8 4-12-1 20 48 35-12 262 6 126-11 16 9 3 32-295 1-8 20-6-4-42-27-6 29-4-24-14-3-25 2-61 46 61-2 14 24 11-31 4 6 46 21-18 13-22 43 143-6-168 56"/><path marker-start="url(#c14)" marker-mid="url(#c14)" marker-end="url(#c14)" d="M853 1184l-19-4 20 41 183 49-192 7-41-1 35 8 14 35 197-4 17 40-7-35-26 1-163 28-16 5-6-6-16-20-24-6-9 23-3 54 6-17 9-10 5-10 22 10 9-5 23 29 181-15 15 12-194 32-8-2-2 3-11-21-18 19-18-14-10 1-9-7-3 13-6 43 21 12 13-26 41 6 29 14 16-8 111-16 6 33 11-28 18 20 6-1-1 16-36 12-4 6-21 17-32 1 0-28-8 29-1-16-1-2-1-14-21 26-5 1 0-8-4 11-14 2-1-20-3 5-2-14-8 11-13 13-2-1-3 5-2-13-8-21-36 33-11-8-17-1-14-2-3-14-4 27-6-8-17-1-3-10-11 14-231-33-142 36-111 35 11-29 3 32 5-16 4-9 0 20 8-16 0 7 178-8 11 19 0-8 2 14 7-4 8 0 10 5 13-24 14 5 2 2 4 16 24-3 2-10 7 0 12-9 1 23 19-39 3 23 2 11 22 5 13-27 6 28 9-11 0-7 8 14 14 0 16 3 5-10 9-4 31 11 11-7 4 5 3-11 4 12 9-18 2 12 1-2 0-8 2 3 1 15 5-10 3-14 8 12 11 7 2-30 59 16 6 12 9-28 16 9 5 2 7 15 10-20 6 26 3 2 20-9 2-5 17-3 12 20 11-4 7-31 18 0 7 26 15-8-15 40-14 17-9-18-5-19-5 2-3 3-7 21-4 8-11-34-5-1-37 0-48 13-78-10-19 3 0 31-3-20-9 2-1-2-3-9-3 30-1-5-3-33-2 26-1-21-1 22 0-24-3 11-2 2-4 9-2-16-5 24-2 4-1-7-4-18-1 13-5-21 0 23-9-16-11 9-2-9-1 2-2 25 0-26-4 26-1-3-9-5-5 1-3-5-2 5-5-16 0-6-1 16-4-21 0-3-4-1-1 25-1-12-3 1-2 14-4 6-3 5 0-7-1 2-1-25-7 15-15 6-1 3-2 1-2-9-9-8-7-13-8 18-3-22-3 16-6-8 0 29-3-27-2-10-2 6-1-3-2 23-1-11-2 10-1 4 0-23-1 4-1-1-1 0-1 30-1-36-2 1-1 19-1-1-1 3-10-4-1-3-5-9-8 6-3-8-7 22-3-30-4 30-1-16-7 18-3-24-1-8-17 3-2 20-18 17 0-8-3-28-10 8-1 7 0 21-6-33-1-6-16 13-5 7-5 12-2 6-5-1-13-14-8 4-9 2-13 4 0-5-55-10-7-14-16 30-10-1-4-5-10-5-2-4-29 11 29 21 25-11 8 5 20 0 9 10 10 10 9-11 17 9 4-21 33 35 5-3 33-29 16 1 9 3 26 19 6-29 8 21 4-16 7 2 4-3 13 9 2-3 16 21 2-22 10 17 13-17 5 8 4-12 2-3 5 13 2 21 0-34 2 3 4 16 7 8 2-19 3-7 7 31 2-28 4 34 3-28 5 14 3-20 2 10 0 12 8-27 3 0 6 19 2-11 16 2 2 11 1-21 3 6 1 9 1-2 1 1 0-8 5-5 0 15 7 4 5 13 1-22 2 24 4-12 2 7 1-3 3-26 0 35 3-2 0-3 3-21 4-8 6 18 6-11 0-1 1 11 14 8 7-2 9-26 0 11 4 3 9 15 0-16 212 24-254 7-13 5-10 3-23 12-47-3-8-12-19 2-6 18-57-2-2 1-119-23-35 2-14 2-22 16-6-18-6 12 0 1-3-14-10 29-48-12 56 24 1 5 1 27 344-38 49 8 213 2"/><path marker-start="url(#c3)" marker-mid="url(#c3)" marker-end="url(#c3)" d="M282 1308l97 2 130-19 161 51-39 15-376-29 8 35 121 17 11-4 9 14 59-10-112 73 8-7-9 47"/><path marker-start="url(#c6)" marker-mid="url(#c6)" marker-end="url(#c6)" d="M661 1356l-399-11-12 39 21-8 31 23 275-15 106 5 40-25 12 31-96 23-88-11-16 21-51-2-28-11-45 21-28-8-9 7-4-30-11 24-28 8-47-14 0-21-5 32-8-20-2-10-3 9-8 24-12-9-6-16 27 47 12-5 5-2 25 21 3-1 1-4 8-5 11 2 1 8 1-1 10 1 2 1 9-26 1-3 28 0 14 26 2-10 1 11 16-14 1 9 25 1 37-25 65 6 110 31-249 29-56-10-11-13 0 7-9 18-4-23-5 16-5-6-10-9-2 12-50 5 4 30 49-6 35 20 8-19 39 28 8 8-107 7 70 52 269 0"/><path marker-start="url(#c15)" marker-mid="url(#c15)" marker-end="url(#c15)" d="M844 1232l5 24-14 5-27 11 18 45 20 38-33 2-14 21 3-7 47 3 8-7 6 19 171-3 40 15-1 7-4 4-5 14-24-19 0 12-167 19-19-7-12 8-37-18-3-6-1 26-550 20 540 17 4-3 0-25 5 23 13-15 14 19 13-4 13-14 17 15 16 0 60-23 93 10 28 6-12 28-30 18-3-15-31 6-14 13-10-17-15-13-1 36-44-8-22-25-12 17-5 7-80-27-515 51 11 0 63 1 155 22 6-10 8 10 4-17 52 4 3-13 1 23 31-21 75 13 49 6 25 2 3 0 14 4 8-35 3 30 5-21 4-6 0 12 3 20 13-27 14 2 5-1 9 12 35-17 2 16 3-14 0 27 1-9 2-19 2 27 9-23 3 0 42 18 3-1 8 7 6-2 2 2 5-19 25-9 7 5 0 19 4-3 20-26 1 26 2-13 2-7 1 17 36-6 15 13-57 42-5-32-3 5-5 28 0-35-2 2 0 13-1 21-2-13-15 2-5-9-10-4-7 20-1-11-5-10-16-9-15 30-11-26-7 26-3-33-16 32-91-25-4 9-2 19-12-23-3 26-2-12-7-20-4 30-4-13 0-4-3 15-6-7-3 10-9-16-11 11-2-12-1-18-3 33-9 3-13-24-7 17-16-5-1-24 0 26-3 10-13-30-19 26-6-23-6 6-7-6-8-6-5 31-5 1-2-6 0 7-4-8-2-14-2 18-2-23-8 6 0 8-2 3-1 7-2-7-3 7-2 0-5-17-1 4-5-3-3 12-1 7-14-8-1 6-7-29-5 28-2-8-6-22-5 0-2 15-6 4-6 1-2-14-10 0-4 14-2 9-5 2-15-19-2-5-27 25-10-3-50 2-21 1-61-22-20-6-26 11-5 22 9-1 1 19 38 5 1-21 2 35 6-4 40-15 5 19 17-35 3 35 8-17 5-8 1 18 3-12 39 13 9-15 16-12 2 2 4 8 1 0 8 11 16 1 1-29 3 35 1-20 0-15 5 4 3 29 16 2 5 4 6-23 26 1 6 8 4-23 3 8 6 7 4-16 7 12 0-3 7-9 1 16 5-10 6 18 5-4 3-10 4 19 3 8 1-2 1-27 0 6 1 9 1-23 0 7 1 5 3 14 0 5 2-18 1-2 6 0 0 6 3 9 1 10 2-12 3-4 2-18 3 32 9-27 2 6 1 0 0 19 1-24 2 16 1-11 0 16 0-19 2 25 1-16 0-11 2 5 3 20 0-12 0-1 3 10 0 3 5-9 1-21 1 23 0 7 0-15 8 17 1-20 0 14 1-22 1 12 2-12 4 18 3-8 10-4 0-1 3-7 0 13 2 9 2 12 6-2 2-29 2-5 2 22 0 14 0-40 4 30 2-5 4-21 0 16 6 3 4-17 0 14 0 18 1-17 6 6 4-12 1-5 3-2 5-3 0 26 3-1 2-28 1 30 2-17 2 1 1 21 0 0 0-30 1 14 7 5 92 0 6-25 46 8 16-1 56-6 13 5 12 0-253 34-15-1-7 26-10-8-4-16-5 19-2 1-5-10-22 8-2-11-5 19 0 2 0-4-25-11-17 2-1-9-13-2-3 24-72-18-22 22-84-9-25 0-13 0-5-6-23-5-3-2-26-8-5 32 0 0-10 0-59-32 71 42 9 6 224 58-230-18"/><path marker-start="url(#c18)" marker-mid="url(#c18)" marker-end="url(#c18)" d="M808 1239l244 81-15 3-213 60 21-16 193 3 0 53 6 42 8 8 6-29 9 15-1 46-19-21-2 29-1-2 0-15-4 12-1 7-2 2-162-30-3 4-16-2-6 5-4 3-25 0-5-8-570 46 398 24 153-24 17-15 26 33 23-15 2 9 13-2 2 11 1-4 133-1 8-23 3 21 1-4 8 11 14-17 4 11 1-20 4-5 9 15 1 12 4-24 4-5 0 44-9 20-9-16-25 11-3-22-5 1-34 33-6-5-8 3-11 5-1-37-2 21-4 12-5-7-7 8-6-5-5 4-6 3 0 0 0-26-2 1-1 14-18 12-3-30-5-2-1 3 0 28-1-27-7 7-8 24-1-5-4-1-1-20-2 9-41-12-91 29-308 37 153-31 18 27 2-24 37 21 53-15 6 11 15-23 23 14 3-4 15 1 3 15 1-6 3 13 3-9 16-4 13-6 80-8 6 8 3-3 1 8 3 15 1-21 4 3 3-19 0 9 3-6 2 27 3 3 2-14 1-13 1 21 3 13 1-4 4-1 0-17 0 19 2-18 13-7 6 22 2-31 1 18 6-18 0 22 5-21 8 16 2-5 0 18 0-11 0-5 0 20 1 2 3-19 3 15 1-13 11-12 3-10 5 20 0-13 2 26 12-18 2 14 1 0 2-10 2 1 11 1 1-5 41-5 2 11 5 11 0-23 2 15 3 47-3-24-1 30-58-8-3-13-2-11-1 18-2-9 0-10-4 18-3-5-6-8-13-5-1 2-6 8-17 3-1 1-9 0-15 14-9-9-5-15-9 17-116 11-11 3-1-13-4-3-10-14-3-1 0 11-1-11-6 21-4-6-3-4-1 10-2-24-3 23-8-15-2-3-10 15-2 3-1-1-2-19-2-7-11 12-1 21-5-13-5-3-14-11-5 14-4-12-18 18 0-2-39 2-6-14-1 13-3-17-3 19-12-19-2 16-3 13-9-8-9-12-5 8-41 2-232 38 214-6 38-3 86 1 17-17 53 1 7 16 8-18 4 14 3 21 9-25 18 8 2 11 6-9 7-19 4 9 14 13 107-24-154 68-42-15-36-12"/><path marker-start="url(#c19)" marker-mid="url(#c19)" marker-end="url(#c19)" d="M1067 1370l-31 41 10 45 0 11 3 9 6 2 4-19-36 46-345-22 156 64 7 0 123 11 71-32 9 23 1 7 0-2 3-18 7 16 3-8 3 3 2 11 1-25 5 12 7-24 1 77-2-14-1-13 0 11-8-17-20 5-11 18-10-15 0 11-44-16-16 2-1 13-10 12-18-27-1 25-33 6-1-2-2-19-9 13-1 3-3 3-1-8-399 6 233 35 13-25 5 24 18 11 34-23 85 4 5-5 1 4 0 10 3-10 16 6 3-2 1-8 2-3 0-12 1 20 7-1 1 16 2-30 1 2 15 24 12-6 4-26 3 12 7 25 1-28 6 12 3 11 3 6 7-8 1-12 16-3 2-11 15 33 6-31 11 1 1 8 6-14 36 7 1 31 3 0 0 0-2 2 0 23 0-14-4 0-42-6-7 14-3-1-5 21-3 1-1-14-5-18-8 29-1-5-1-22-3-8-2 0-5 0-5 21-5 0 0-3-9-18-8 13-18-10-2 28-5-21-3 0-8 20 0-15-4 0-1-15-3 3-107 16-16-1-7-11-10 7-12 12-4 3-3-15-1 2-1-11-1 22 0 5-13-3-4 7-5-24-15 7-1 4-1-6-7 3-41 14-57-27-36-6-47 8-8 27-80-18 195 42 18 5 59 11 4-24 2-7 11 12 1 9 8 1 8 4 1-14 1 16 3-19 0-12 2 18 2-5 2 15 1-12 1 13 18 7 5-2 187-4 6-2 32-10 1-1 7-14 62 25 2 16-118 0-203-4-8 17-24-15-17 20-22-19-66-3-162 2-86 12-41-4 748 106"/><path marker-start="url(#c1)" marker-mid="url(#c1)" marker-end="url(#c1)" d="M269 1265l-4-6-17-5 23 51 25 12 98-11-9 25-50 63 1 93"/><path marker-start="url(#c21)" marker-mid="url(#c21)" marker-end="url(#c21)" d="M869 1417l177 59-289 79 135 5 46 30-49 9-101 30 46-12 52-12 10 31 10-21 47 15 4-4 8 9 16-10 91 34-41-11-17 18-17 12-3-30-6 29-10-24-4 14-4-9-5 8-3 5-8 4-10-8-15 11-6-21-10-10-12 31-1-9-12-23-1 14-120 0-28 15-5 39 4-15 4 10 1-10 14-17 147 30 1-22 35 11 12-21 9 16 11-9 7 20 7-16 11 18 1-25 4 7 9 17 62 0 1-7 2 20-72 4-7 7-29-5-201 8-10-1-45 12-106-18 130 68 10-23 263-13 65 19 2-8-412 30"/><path marker-start="url(#c16)" marker-mid="url(#c16)" marker-end="url(#c16)" d="M1035 1248l5 41 7 48-174 0-11-7-28 62 19-8 173 2 9 3 22-25 3 23 1-14 1-7 10 22-34 45-1-30-9 35-7-37-151 19-24-1-52 37 2-5 13 3 5 6 14 13 3-29 0 30 9 4 22-31 11 19 165-13 13 11 23-5-2 46-7 2-20-9-4-9-12 16-157-10 0 24-39-14-4 11 0-4-9-22-1 27-22-19-4 5-3 16-282-9 12 42 12-3 117-21 94 10 8 3 9 8 23-22 18-2 20 6 7 3 4 7 2-9 8 2 28-7 3 32 2-35 5 27 2-11 0 19 1-7 2-15 0 11 6 9 1-11 11-11 0 13 1-10 5-10 16 20 7-17 7 15 7-10 13-2 8 17 6-15 10 22 4-15 10 12 3-4 0-10 4-16 10 19 11 1 29 10 2-15 7 7 5-3 3-21 4 7 2 65-2-33-2 23 0-24-52 21-2 8 0-14-5 18-1 4-2-36 0 7 0-4-1 1-5 22-1 7-5-16-4 8-3 9 0-2-1-29-4 8-14 11-2-18-9 1-3 1-2 23-1-13-8 18-9-36-8 17-2 13-1 3-2-27-2-2-1 5-4 29 0-35-1 1-5 6-6 0 0 29-1-33-4 26-16-15-8-4-1-10-2 32-44-15-19-11-13-2-9 11-2-3-31 17-15-1-6-7-24-9-25 10-7 10-20-2-1-16-6 13-43-22-7-1-4 13-20 15-5 4-4-35-10 22-18 4-9 10-8-34-13 23-181-26-38 2-5 9 9 33 43 15 44-14 73 21 12-1 1-5 9-2 20-11 8 28 3-12 46-10 2 12 3-13 4 16 1-3 6-21 0 32 2-3 1-31 1-3 3 23 16-14 4 2 2-1 2 12 6 6 2-8 4-9 1 17 16-21 1 26 5-9 5 1 8 0 1 1 6-6 6 8 1-19 4 23 2-25 1 23 17 0 0-18 4-13 4 14 9 22 0-25 1-12 3 30 1 5 5-7 3-2 2-19 3 21 4 7 5-29 2 32 3-10 1-11 0 22 1-8 6-11 0-7 1 13 2-11 1-6 0 18 3 11 5-33 1 28 1 5 0-35 9 2 1 21 5-4 2-8 14 1 127 14 0-15 2 20 10-30 0 36 4-37 3 16 0-18 25 14 10-13 12 9 2 13 9-16 12 25 1-20 2 7 12-8 53 32-291 6-5 0-3 8-6-3-15 5-5-11-4 31-1-34-7 4-3-7-2 5-5-4-1 13-3-2-1-3-3 2 0 19-1-30-7 20-6-20-4 2-2 18 0-9-3-11-2 13-1-11-5 30-2-33-1 30-2-22-2 5 0 17 0-32-2 33-2-2-2 7-1-28-3-7-7 8-1-2-10 21-6 8-7-18 0 1-4-1-7-2-1 14 0-6-10-25-3 23-2-21-1 7-1-6-9 3-2 0-18 8-30 16-57 6-8-20-24-2-54-3-9 47 2-6 1-2 273-4 39-1-383 40"/><path marker-start="url(#c0)" marker-mid="url(#c0)" marker-end="url(#c0)" d="M273 1277l-4-17-4 2 6 23 116 0 1-1 5 33 27 76 89-1 43-20"/><path marker-start="url(#c17)" marker-mid="url(#c17)" marker-end="url(#c17)" d="M855 1351l178 11 3 34 7-4 16-16 13 31-2-2-2 24-8-16-3-6-16 8-4-11-8 13-166-13-55 67 6-6 22 12 10-9 3-12 180-2 4 3 6-13 4 32 6-9 4-10 15 20 7 23-3 16-7-20-10 10-8-17-9 17 0 13-130-10-32-9-6-13-46 22-1 1-30-27-3 32-8 3-525 11 120 23 84-21 279 19 0-13 54-3 6 10 11-2 16 15 3-36 4 24 8-13 21 20 18-9 15-5 2 21 1-6 9 2 3-4 5 4 1-10 5 2 20-17 23 9 6 9 1-26 12 30 36-1 2-13 3 9 7-11 2 7 2-2 16-17 10 8 12 19 1-30 1 27 0-2 0 17 0 2-2 19 0-12 0-7-2 9-41-8-2 7-1 15-2-22-1 9-2 3 0 5-12 0-1-14-1 20-8-9-1 20-7-2-5-6-3 0-3-7 0 1-5-11-2-5-6 14-6 8-1-8-5-4-1 5-2 3-2 4-12-19-1 5-3 1-2 15-4-5-13-6-10 3 0-24-1 22-2-16-1 10 0 3-3-1-8 13-6-24 0 18-3-26-4 1-1 23-3-9-4 5-4-20-38 2-9 33-22-33-89 35-3-6-29 2-27 6-22-19-3-17-40 26-26-11-31 21-17-9-96-28-5 30-123-23 197 60 26-3 60-18 11-9 5 9 28 21 5-29 1 25 38-25 9 5 3 25 8-2 27 8 8-1 1-32 2 18 5 0 5 7 2 6 11-18 1-5 1 17 4 2 12 3 0-22 3-7 9 21 1 7 14 3 11-1 1-14 86-15 2-5 14 31 0-16 4-15 11 33 4-33 1 6 3 12 3-6 8 8 5 9 2-29 9 11 19-5 21 8 3 10 2 2 1-19 0 2 0-8 1 30 1-29 1-1 3 34 1-30 0 31 2-3 2-31 0 22 3-15 2 7 6-7 1 28 54-19 4-7-57 33-6 7-4 17-5-1-11-18-5 7-25-4-1-8-52 3-127-4-4-3-2 19-2-1-6-18-1 4-3-4-1 13-2 11-8-10-1-8-1-7-1 0-2 24-15-11-5 18-3 9-2-30-1-4 0 20-6-4-1-16-2 25-1-10-3-20-2 0-2 29-3-21-1 24-1-20 0 4-9 18-11-24 0 2-6-3-3 18 0 0-7 7-1-16-3-5-6 13-23-8-16 3-7-22-3 14-2 15-21-13-1 21-2-34 0 33-22-29-39 5-33-7-41 26-83-1-13 36 21-18 37 2 53 9 157 15 13-3 11 2 3-12 4-18 11 4 21-5 16 32 5-24 7 3 3 19 1-27 6 31 21-19 18-14 13 1 152 5-216 39-86 6-259-13-16 7 0-2"/><path marker-start="url(#c8)" marker-mid="url(#c8)" marker-end="url(#c8)" d="M392 1291l527 57-667 43 13 8 44-25 245 14 183-5 66-2 118-19 39 10 116 33-83 4-207 18-179 2-63-21-18 12-217 4-15 5-9-13-3 22-18-3 0-14-6 0 0 19-5-1-3-10 0 7 0-28-4 20-11-6 0-13 14 47 1 5 2-11 5-7 4 35 0-36 2 11 6 16 0 3 3-29 5 9 2 4 3 6 12 3 14 11 8 1 15-29 6 17 16 6 5-10 11 17 17-6 2 1 2-31 8 21 11-6 2-5 4 7 6-13 11 33 22-29 43 22 30-7 3 3 8-24 10 26 2 0 37-5 6-23 4 22 35-4 9 0 7 8 6 8 3 1 2-19 4 22 5-19 26 9 9-14 22-16 22 25 5 1 30 19-132 25-8-21-34 18-25-10-33 7-15 5-37-27-2 32-12-14-1 7-15 8-10-31-11 7-3 15-5-24-1 34-7-36-6 32-5-17-7 14-2-11-5 5-19-13-10-4-5 17-3 14 0-10-6 10-1-11-5-25-5 33-4-33-1 16-15-7 0 17-3-7-2-15-2 16-6 5 0 8-1-11-4 11-2 0-3-15 0-11-1 0-1 3-4 18-1-13-1 3-5 4-5 6-2-20-6 18-18-12-9-12 41 45 5 2 4 0 6-6 0 2 2 15 4-2 3 14 2-29 3 7 3 23 1-27 3 11 1 12 1-15 9-2 3 10 3-14 3-7 10 34 2-9 1 12 1-19 11-9 6 29 8-29 7 13 4 6 12-13 1 2 33-9 6 16 135-25 34 7 19 16 5-15 116 25 240-31-333 74-56-16-196-13-80 26-6-26-9-4-8 0 0 3 16 42 364 20-54 14"/><path marker-start="url(#c7)" marker-mid="url(#c7)" marker-end="url(#c7)" d="M922 1347l-653 0-18-5-3 48 15 2 12-8 2 12 1-30 261-4 497 35-291 22-43-11-35 1-113-8-22 9-35 6-30 20-40-3-4 1-23-18-18 11-10 3-68-19-1 7-11 4-15 1-3 16 0 1-10-24-11 9-3-19 0 31-8-24 0-8 13 65 1 3 6-26 2-2 10-2 7 34 7-26 5 7 1 11 2-5 0-12 1-1 2 20 9 9 11-7 2-12 2-14 1 15 5-9 29 8 3 19 5-5 3 4 1-4 8-6 2-19 1 0 2 7 11-1 2 7 8 3 2-2 0 6 5 7 11-28 4 11 11-2 1 14 25-23 11 8 2-10 56 13 22-13 41 21 101 37-7 8-47 1-97-29-1 9-58 17-70-13-4-13-14 23-3-18-24 21 0-20-6-4-8 21-2 8-2-21-4 18-4-6-8-21-2 29-2 0-1-14-4 12 0-5-2-17 0 27 0 1-1-32-2 11 0-10-2 21-12 6-1-10-1 6-2-14-1 22-2-1-8-12 7 26 26 2 4 20 3-15 9 3 1-12 6-2 15 5 12 20 5-32 54 9 7 27 7-35 60 11 98 2 149 42-76-2-216-10-18 1-94 19 0-9-20 13-13-10"/><path marker-start="url(#c2)" marker-mid="url(#c2)" marker-end="url(#c2)" d="M269 1260l-1-18-1 14 4 39 118 18 296 45-73-12-230-26-2 15-50 8-75 19 39 20 15-15 12-4 43 23 10-23 23 5-56 48 20 92"/><path marker-start="url(#c10)" marker-mid="url(#c10)" marker-end="url(#c10)" d="M823 1171l40 54-60 111-1 48 196 51-78-24-132 11-260-6-249 23-1-22-17 20-1-9-22 41 6-16 1 12 4 1 3-5 3-10 9 21 3-10 2 9 2-12 8-5 12 15 4-22 89 6 4-11 17 33 43-7 56 4 32-1 5-7 8-2 1 14 2 2 5-5 8 4 1-19 4 13 18-3 7 2 6-13 8 10 5 9 9-11 68 6 46-3 6-4 22 3 22-21 19 6 38 14 124-5 21-11 23 1 7-9-6 69-40 2-189-29-38 1-23 20-3-19-11-5-17 31-21 5-5-26-8 23-1-1-6 6 0-4-6-2-5 4-36-17-10 9-19 3 0-22-1 18-2 0-13-24-10 28-9 2-13-9-3-19-3 5-1 16-9-25-5 26-2-14-1 18-14-11-5 10-2-15-2 20-21-16-5 11-8 3-6 6-9-7-1-5-4 12 0-26-6 11-3 10-6-32-5 30-13-7-2-18-25 23-1-26-9 29-1-9-3 14-16-14-5 8-1-23-3-6-3 29-15-4-11-15-2 1-11 20-2-3 0-15-7 15-4-8-1-15-2-3-3 20-4-7-4 10-1-12-17 18 10 7 11 10 16 27 12-34 1 0 4 1 0 6 3 17 0-17 3 7 1 15 1-8 0-5 3 10 1-4 0-1 3 10 0-17 3 7 1 3 4-16 0 26 1-14 1-8 0-3 1 8 1 17 1-26 3 26 2-25 2 11 0 1 1 11 2-28 0 12 2 9 5-1 0-1 10-3 2-12 0 11 1-2 1 17 0-21 1 13 0 6 2-26 3-9 3 28 2-7 3 14 0-13 1-22 2 28 6 3 5-15 3 9 0-27 1 6 1 29 1-16 0-7 5-9 5 3 0 28 2-20 0-7 0 28 3-32 2 31 0-1 1-9 14-5 7 1 2 15 0-7 2 2 20 6 2-9 3-11 5-12 6-4 16 20 3-4 22 10 34-8 1 12 2-28 6 19 3-3 8-10 11 3 20 7 5-14 7-3 11 21 4-9 3-1 7 12 3 5 3-8 5 8 1-27 0 24 2-20 3 2 1-3 3 8 2-10 2 31 9-5 17 6 18-34 2 23 16-20 4 16 8-5 159-4-161 49-20-6-17-7-98 7-49-1-69 6-11-14-5 4 0-6-36 9-9-2-2 8-3 6-2-22 0-2-2 5-24 21-10-16-2 15-1-20-2-4-1 12 0 9-1-5-5 8-3 6-2-11-3-15-1 16-1 5 0-7 0 5-2-20-1 19-2 3-5-20-2 0-2 14-2 1-1 18-4-27-3-2 0-8-3 17-2-11-3-6-3 5-3 1-1 2-2 1-8 5-7-3-5-6-28-7 85 48 21 0 74-2 0-5 115 27 119-17 92 56-151 6"/><path marker-start="url(#c23)" marker-mid="url(#c23)" marker-end="url(#c23)" d="M1050 1533l-2 87-56 59-84-6-144 10 183 15 4 1 1 5 5 1 28 14 1-23 4 19 13 45-6-30-13-2-4 14-27 3-39 11-359 20 460 0"/><path marker-start="url(#c5)" marker-mid="url(#c5)" marker-end="url(#c5)" d="M386 1316l295 29-54 13-359-11-1 6-1-6-7 11-2 1-14-23-1 52 3-9 5 0 5-5 3-5 29 26 105-23 18 13 152 1 20 6 22-22 114 19 3-18-56 30-19 6-247 28-25-11-7-19-12 24-35 1-14-23-3 22-9 8-24-32-1 26-10-2-2 9-1-29-3 26 0-22-9-6 33 41 19 7 7 5 0 6 13-26 6 38 28-14 8-19 1 5 2 20 8-18 6-10 9 3 19 2 8 4 175 62-255-13-60 8 49 65"/><path marker-start="url(#c4)" marker-mid="url(#c4)" marker-end="url(#c4)" d="M257 1315l42-23 348 56-154 4-106-15-9 20-102-12-8-13-4 20-8-7-2 24 0-8 14 23 3 9 3-2 10-28 11 8 32 2 20 16 19 4 2 3 11-3 1-33 134 37 1-11 91-3 107-22-63 44-261 0-2 29-14-19-4-15-6 19-3-3-6-13-17 31-31-34-32 3 49 68 19-14 2-15 0 9 10-5 1 17 29 7 20-6 320-5-185 25-177 32-70-10 62 40"/><path marker-start="url(#c3)" marker-mid="url(#c3)" marker-end="url(#c3)" d="M269 1274l-31 35 160-11 63 14 51 2 106 14-192 15-9 7-3 4-18-14-5-5-106 13-5 18 48 34 41-8 21-16 2-9 188 23-218 20-40 21-67-9 90 34 61-9-81 49-9-11-4 63"/><path marker-start="url(#c2)" marker-mid="url(#c2)" marker-end="url(#c2)" d="M256 1251l-1 55 446 46-311-24-18-6-52 65 50-22 25 25 28-19 148 25-185 7"/><path marker-start="url(#c27)" marker-mid="url(#c27)" marker-end="url(#c27)" d="M912 1783l7 33-176 105"/><path marker-start="url(#c18)" marker-mid="url(#c18)" marker-end="url(#c18)" d="M826 1282l213 34-4 37-188 34 4-12 196 24 4-26 19 53-25 5-2-25-2 15-243 29 63-1 10-1 179 17 0 11 1-32 3 28 22 21 0 27-2-29-2-4-3 30-15-11-5-11 0 25-5-39-11 11-155 25-12-21-76 22-543-21 231 50 119-24 242 21 6-9 12 2 9-16 5 37 25-12 3-1 15 15 44-11 4-11 57-15 1 8 1 2 6 18 27-10 0-4 1-4 7-1 2 10 6 14 3-17 2 22-2 19 0-12-2 16-3 12 0 2-8-15-2-22 0 12-22 13-11-24 0 24-22 12-4-30-2 15-4 16-1-19-1 14-6 0 0-20-2 5-13 11-4 8-2-9 0-12 0-1-4 19-2 3-6-7-6-31-3 27-12-3-9-1-5-19-3 18-1 13-2 4-1-24-3 22-1-8-1-27-3 25 0-21-2 31-2-5-1-15-1-6 0 0-9 0 0-1-3 17-7-10-1 9-20-13-10-12-100-1-22 39-128-12-24 13-177 39 108-26 23-12 67 4 2 34 3-19 16-1 49-1 7 15 39 1 11-19 17 6 78-10 30-7 34 16 6 3 15 5 2-27 1 20 1 17 1-35 3 14 3 3 4-4 1 4 1 16 7-29 0 17 4-19 5 29 4-23 0 2 7-7 1 9 3 2 6 7 8 5 4-25 2 29 5-17 0 24 5-12 5-10 0 9 3 6 4-6 7-11 0 7 0-2 1 6 3-4 3 10 2-22 3 24 3-12 14-20 4-2 43 24 1 13 0-5 3 1 1-7-59 42-8-12-7-7-9-5-2 30-6-34-5 13-24 1-24 5-6-17-78 10-63-6-2 20-13-24-19-3-3 35-2-34-6 24 0-12-1 15-2-1-1-26-3 12-10 12-4 12-4-37-2 24-1 5-21 7-6-12-3 15-12-6-12-10-1-11-7 14-18-2-31-2-5-8-3 2-16-15-13 26-101-2-88 7-121-27 262 42 20 24 4 3 6-8 55-21 14 2 13 1 21 4 19 10 7-9 21-4 7 21 1-2 8-9 6-12 6-6 7 37 10-31 8 33 247-34-280 42-117 13-252-2"/><path marker-start="url(#c8)" marker-mid="url(#c8)" marker-end="url(#c8)" d="M849 1209l76 138-645 0-35 23 777 5-7 62-398-12-28-9-9 18-8-11-62-7-25 19-10-14-33 13-150 3-12 0-5-33-6 11-2-3-1 17 0-10-4 18-8-16-11-21 3 54 4 18 12 7 1-28 2 27 4-24 2 9 1-8 10 4 0-7 5-2 6 22 15-1 59 8 6-6 2 1 1 6 0-16 3 1 2 6 27-5 40-3 6 8 2 4 1-17 1 17 0-11 8-14 20 14 1-10 11 1 31-14 2 37 43-4 5-29 16 20 38-18 4 17 1-7 21 6 16-8 35 18 13-31 36 20 14 16 13-32-103 50-39-11-13 18-17-7-43-9-17 21-9-10-51-15-20 4-23 28-8-34-8 8-19 22-4 0-1-25-11 11-3 1 0-1-4 0-7 21 0-8-1-16-7 19-5-23-4 11-1-13-2 31-4-24-4 13-10-14-1 24-1 1-2-11-3-12-3 22-2-32-1 21-2-10-10 5-2 8-2 7 0-35-5 20-1 7-6-1-8-24 0 15-7 6 0-12-3 3-20 21-9-29-3 1-1 9 41 44 3-17 2 2 1-4 1 15 5-2 2-14 3 22 0-11 1 4 1 1 0-17 7 4 8 3 1 15 1 2 2-23 3 9 0 6 1 1 2 15 2-27 1-4 0 3 4 7 4-1 1-9 4 20 10-4 24-12 7 22 9-6 6-19 25 18 9-15 25 23 70-27 34 4 94 24 6-14 5 17-2 16-327-1-1-6-8-1-17 0-9 4 37 74"/><path marker-start="url(#c22)" marker-mid="url(#c22)" marker-end="url(#c22)" d="M809 1518l-191 41 435 40 0-32-9 20-56-10-30-1-251 61 199-2 47-10 114 30-90-3-21 8-6-11-1 30-7-2-205-9-6-1 51 42 107-17 22 27 8-6 17-17 4-9 0 20 25-7 21-17 1 33 2-33 42 9 41-4 1 14 3 16 1-19-70 54-9-5-22-19-22 3-253 20-21 33 288-19 41-4 68 47"/><path marker-start="url(#c1)" marker-mid="url(#c1)" marker-end="url(#c1)" d="M378 1279l-118-25 2 37 7-6 10 24 114-13-16 91 17-8-67 27-40 20"/><path marker-start="url(#c19)" marker-mid="url(#c19)" marker-end="url(#c19)" d="M1049 1316l-26 67 27 8-3 66 4 24-3 36-3-9-5 10-530 26 306-19 9 34 13-9 87 2 5-21 95 26 4-7 16-5 7 12 1-28 2 19 7 11 4-10 5-13 3 34-6 4-14-12-9-2-58 17-25-14-1 16-6 15-8-19-2-5-9 22-9 3-11-33-10 4-12 12-7-12-26 32-33-10-6 10-80-15-270-8-136 57 399-6 15-10 2-11 121 2 1-2 13 16 4 8 0 5 1-8 2 10 2-2 0-25 0 21 0 5 2 0 1-10 2-10 3-13 0 0 2 27 1-2 3 1 1 7 13-19 3 7 3 9 2-9 1-8 5 0 2 21 0-10 10 5 9-4 0-2 2-3 1-9 3-1 1 5 0 9 1-9 4 2 5 4 8-8 2-14 0 5 3 30 1-4 3 5 1-7 2-13 4 20 3-11 0-9 17-7 8-7 6 0 41 27-2 12-53 0-21 31-5-14 0-1-1 1-3-1-4 1 0-5-8 11-4-7 0 16-8 1-7-32-12 15-3 3-7-12-2-7-3-1-11 2-7 7-11 21-6-9-13-8 0 12-127 12-1-19-6 3-24-11-1-1-4 7-13 20 0-13-17-7-1 17-30-1-5-21-141 23-14 40 82-12 82-9 3 18 25 3 12-2 3-13 11-20 4 21 9-8 6 3 13-8 1 5 3 4 5 3 8-1 200-9 19-4 1-1 10-1 5 17 1-15-294 50-5 15-7-20-7 9 76 31"/><path marker-start="url(#c0)" marker-mid="url(#c0)" marker-end="url(#c0)" d="M246 1200l-7 20 35 19 112 24-25 5-87-21-7 11 136 45-138 26 61 200"/><path marker-start="url(#c23)" marker-mid="url(#c23)" marker-end="url(#c23)" d="M848 1565l-157 36 337 21 14 45-82-6-8 5-624 13 616 20 0 2 20-12 28 20 30-26-23 53-7-2-250 53 221-1 3-25 53 17-280 36 332 61 2-6"/><path marker-start="url(#c20)" marker-mid="url(#c20)" marker-end="url(#c20)" d="M1056 1393l-22 48 5 78-201-10-23 33 125-5 108 14 4-19 11 45-16 2-4-14-4 10-11-2-84 6-58-18-3 17-308 34 201 15 115-24 6 29 6-27 2 6 9 13 16 7 4 2 5-17 1 13 2 4 7 5 0-20 3 17 2-5 5 4 4-30 1 18 6-12 1-3 7 19 1 3 2-26 15 20 3 15 26-9 16-2 28-11 4 8 1 9 0 17-1 7 0-11-64 20-9 1-4 12-2-27-1-2-18 20-4-30-6 40 0-27-9-7 0-2 0 11-3 10-11 2-2-17-5-4-1-6-7 39-4-35-1 25-12-22-4 1-9 8-8-10-3 25-12-25-84-5-11 10-20 13-6-9-2 19-8-10-1 3-58-3-38 14-29-17-276-6-101 60 307-11 33 3 14 7 66-20 45 25 34-33 8 11 1-9 1-1 0 5 13 12 8-11 18 14 141-15 35 2 20-9 2 2 3-6 23 30 60 20-82-1-316 16 400 48"/><path marker-start="url(#c6)" marker-mid="url(#c6)" marker-end="url(#c6)" d="M801 1353l-528-8-3-16-7 26-23 24 16-9 2 23 1-3 11-6 3 15 7 1 88-28 3 16 21-24 130 19 215 11 145-30-149 42-35 14-48 13-35-21-70 19-128-11-9 4-8-14-1 2-12 28-1-3-3-4 0-9-10-4-5 13-8-1-74 2 0-25-10-4-10 17-8 9 0-23-6 20 53 33 2 1 4-8 4 19 2-2 2 8 3-13 6-14 6-8 5 8 5 13 1-21 15 34 5-23 6-14 11 31 16-28 4 8 2-11 3 28 2-26 8 22 32-22 89 2 3 25 5-5 82-13 7-4 142 38-364 3-9 4-23 8-32 8-1-13-4 22-6-21-2-15-6 11 0-12-4 39-3-36 0-2-3 3-5 19-5-19-19 3 37 35 21 11 1-7 103 19-97 19-11 17-16-6"/><path marker-start="url(#c24)" marker-mid="url(#c24)" marker-end="url(#c24)" d="M951 1602l50 6-97 39-115 5-72 39 34-10 237 76-40-31-52 21 102 27"/><path marker-start="url(#c5)" marker-mid="url(#c5)" marker-end="url(#c5)" d="M268 1319l2 23-2-19-1 9-14 19-6-13-2 21-2-27 9 56 7-6 6-14 19 9 1 3 14 5 84-12 3 22 1-6 98-1 56-1 11-12 103 15 46-11 81 15-185 38-56-19-62-12-35 10-55 28-6-25-3-7-47 15-34 7-15-16-18 15-5-8-10 10-5-29-1 17 27 42 36-7 11 6 7 9 7 11 0-1 18-22 2 5 18-9 18 15 0-6 5-19 3 4 1 7 2-13 2 39 9-16 32-12 2 9 18-5 29 12 69-4-88 48-39 7-33-28-44-4-9-4-1 19-37-18 184 106-161 0"/><path marker-start="url(#c15)" marker-mid="url(#c15)" marker-end="url(#c15)" d="M860 1195l11 62-1 14-66 42 5-29 30 23 2-18 19 29 3-24 190 20 10 1 6 35-18-22-14 32-2-34-9 1-170 11-14 6-1 10-30-21 3 60 3 7 29-13 5 8 7-10 16-23 169 19 11 13 21-31-5 39-6 17-20 9-13 11-158-19-8-1-21-7-14 25-28 0-9-3-13 36 4-13 15 22 2-13 4 14 39-29 6 28 25-31 2 10 142-1 5-6 1 28 49-26 2 49-44 15-4-16-10 3-5-12-5 7-52 21-8-1-8-26 0 3-7 15-8-23-15 31-2-7-4-3-2-3-8-9-11 9 0 5-4-29-1 26-4 5-11-16-11-9-42 22-13-16-4 17-8-25-7 21-174 13-70-15-292 38 25 8 54-4 160-17 0 8 56 5 27 8 111-22 25 30 64 0 15-5 3-24 3-6 1 24 1-20 3 21 2-11 59 16 3-4 12-18 7 6 3 2 2-14 1 7 6-9 1-1 18 8 2 14 3 15 3-36 5 34 0-20 1 7 3 6 10 0 2-20 23 8 3 19 2 2 8-17 14-13 0 14 3-13 23 7 2-11 8 28 0-22 12 4 6-13 25 34 1-38 8 18 0 14 4 41-3-28-46 13-4-3-9-4-5 16-5-13-1 1-1 21-3-15-1 10-4-5-13-22-31-3-1 14-9-9-2 7-2-2-3-5-1-3-3 33-1-25-5-3-8 20-5-27-28 10-5 6-5-8-56-6-24 21-9 14-2-31 0 13-3 20-10-22 0-12-8 25-2 8-1-12-3-17 0 7-4 14-1-12-1 5-2-16-3 32-1-1-1-18-7-7-1 22-6-24-14-4-5 6-1-3-6 26-3 0-3-9-1 1-7 8-2-3-5 5 0-15-23 0-8 4-6 9-4 0-15 2 0-24-3 8-1 0-1-11-1 4 0-13-2 30-1 5-4-16-3 16-7-4-1-4-1-3-3 8-4-20-2 3 0-5-3 4-1-4-1 12 0-15-6 8-3-14-12 19 0-5-23 13 0-7-5 10-8 5-3 0-2-18-1 8-8-20-11 15-22-8-11 11-41-17-6 9-5 8-85 2-11 4-39-16-10 22-32 11 34 22 13-12 3 1 48 9 23-10 2 5 22-14 34 23 4-10 15 9 1-5 3-11 3 6 9-19 2 6 16 19 14-9 4 2 8 13 2-34 8 6 19 25 5 4 19-26 3 3 3 6 0 1 2-10 4 22 2-18 4 6 0-6 3-9 0 4 8-7 6 0 7 3 3 32 4-35 0 5 1 10 4-15 0 23 13-14 4 17 1 5 3-27 1 7 3 22 1-12 15 11 1-27 2 14 1 6 2 8 3-30 1 1 5 24 3-18 1 27 0-15 0 13 1-12 3-25 2 5 3 12 0-14 0 19 3-6 2 3 0 17 4 3 0-27 1 25 1 3 2-15 3 7 2-18 2 16 8-11 3-15 0 2 8 1 2 30 2-27 3 15 0-12 2 14 5 5 3-17 5-4 0 9 3-5 1-5 2-2 2 8 1-6 0 2 1 4 7 5 1 7 1-2 1-10 1-5 2-11 0 10 3 1 0-7 7 3 0 11 5 19 0-35 1 22 1 14 2-12 7-15 10 5 119 8 45-9 108-1-112 27-194 17-4-12-1 11-19-17-22 22-6-21-3 1-7 0-5-2 0 3-2 4-2 21-6-16-1 3-1 6-3 7-2-21-2 8-13 15 0-13 0 0-4 12-3-26 0 5-28-8-25 2-25 11-11-1-10-2-7 24-68-32-64 15-6 0-35-4-11-6-6 28-9-18-14 37 8 11 2 12 130-24"/><path marker-start="url(#c25)" marker-mid="url(#c25)" marker-end="url(#c25)" d="M980 1749l-53-6-172 48 225-3"/><path marker-start="url(#c14)" marker-mid="url(#c14)" marker-end="url(#c14)" d="M832 1193l0-1 0 8-11-5-5-12 47 92-19-14-6-16-25-4 12 47 5-4 202 35 36-16 4 45-20 0-21-4-179-14-48 16-3-2 12 49 11 1 217-32 29 28-24 29-2 2 0 0-19-15-154 7-66 1-8 23-7-6-3-1-3 30 14 8 6-19 16 0 7 25 2-13 67 0 122 4 1-8 12 4 6 6 36 49-61-15 0 17-15-30-25 19-11-12-1 23-6-8-4-5-36 13-1-26-3-5-1 27-10-28-2 27-7-23-3 26-4 2-2-38-4 25-1-10-3 21-24-3-7 6-23-11-2-20-21 27-1-18-9-13-1 14 0 7-7 7-179 4-102-11-177 13-69 37 24-22 95-9 19 9 61 24 45-23 1 24 6-20 12 15 3-8 0 9 8-15 33 15 10-7 6-13 2 13 1 11 1-13 29-1 0 2 2 12 3-36 3 36 5-25 9 25 11 0 25-16 6-16 6 29 12-20 6 24 16-10 6-28 28 29 10-11 6 18 14-31 2 32 1-22 5 22 3 1 8-18 15-1 63 5 3-11 4 6 1-16 1 21 18-15 8 17 5-12 2 25 8-33 5 24 10-25 19-6 6 33 11-27 13 13 8-4 17 14 16-16 30 22-50 23-11-5-8 14-4-8-10-7-44-11-6 23-50-17-64-5-13-2-16 5-2 20-1-23-6 30-1 1-1-13-1 17-3-7-5-19 0 16 0-19-1 24-1 1-11-17-1 19-1-5-5-18-2-5-5 18-19 7-3-15-3 23-3-1 0-20-1 12-3-10 0 1-5 14-1-8-2 3-1 7-3-22-3 24-21-26-2 20 0-6-2-4-3 15 0-18 0 3-9 0-4 2-1 9-10-17-5 13-1-7-6-11-6 25-2-23-9 5 0 11 0-3 0-11-8 10-1-7-3-7 0-5-2-3-3 32-2-28-5-3-2 19-1-8 0 20-1-10-2 6-2-32-1 20-13-11-3 13 0 8-1 7 0-36-1 24-1-6-6 5-14 4-13-15-2 1-4-4-1 13 0-16-4 22-5-17-1-5-2 20-1-2-5-11-2 14-2-7-2 9-3-16-5 11-2 6-1-11 0 15-5-21-6 7-1-15-4 20-3 1-1 10-5-9-14-12-1-2-10 17-28 1-21-15-7 0-1-6-4 14-7 0-10 10-11-22-17 3-5-14-7 11-12 6-2 19-4-10 0-5-5-12-6-4 0 18-10-1 18 51 8-35 0 20 20-4 25-4 5 16 0-15 7 12 5-10 0-7 2 0 4 18 0-16 2-8 29 20 5-18 35 6 29 0 4-9 9 22 2-20 5-2 24 3 15 4 0-8 6 24 1 3 3-11 2 16 3-7 1-20 13 25 1-4 0-25 0 36 5-8 4-18 29 11 0-14 4 0 16-9 13 37 3-6 5 2 3-19 3 11 1-17 3 28 1-13 3-14 3 9 3-4 10 18 3-25 0 21 0-23 1 18 2-21 1 27 1-25 7 5 1-3 2 26 11-25 1 6 2-6 0 29 4-21 4 2 2-17 2 3 2 18 2-9 1 3 1 3 1-2 0 8 2 2 0-2 5-24 5 15 0 23 1-26 3-2 4-7 4 16 0-9 0 1 5 4 4-7 17-5 11 4 145 11-149 55-63-27-10 0 0 12-6-16-7 12-3 8 0-22-2 8-30-1-21 11-168-6-57 1-50 14-3-17 0 5-14 13 2 22 44-9"/><path marker-start="url(#c11)" marker-mid="url(#c11)" marker-end="url(#c11)" d="M838 1179l-10 55-17 26-10 16 71 67 113 95-14-8-373 6-345-4-16 40 4-1 2 1 4 6 20 1 6-4 6-20 8 11 13-12 185 18 9 8 18-20 15 5 38-1 191 7 118 8 78-37 30 28 2-13 84-1 9-16-50 42-46 5-191 1-7 15-2-1-18-2-5 12-2-13-4 17-15-20-21-14-7 36-11 0-27-8-9 1-6 5-3-5-8 6-6-10-23-26-13 7-12 22-4 8-9-3-3-32-3 4 0 29-2-23-10 17-1 1 0-1-2-11-2 15 0-32-15 5-20 11-11 8-26 4-5-3 0 4-39 2-43-30-24 1-18 31-24-15-22-13-15 6-6 16-2-11-2 12-4-13-1 10-4 8-9-7-6 9-5-5-1 1-4-12-3 1-3 15-8-19 12 37 3-11 0 8 1-2 8-4 4 10 1-10 7 10 2-5 4 13 1-21 1 15 2 4 8-21 1 37 0-26 1 22 5 6 4-24 0-13 1 31 6-12 2 2 3 7 1 0 0-8 5 5 3 7 3-6 3-19 0 19 2 5 4 0 2 2 8-3 9 1 0-20 3 12 0 2 3 7 1 2 0 0 1-17 0 17 3-24 2 22 1-16 5-16 0 10 9 10 10 15 1-19 2 20 4-10 0-4 15-14 10-7 5-4 0 16 0-11 3 28 1-16 0-6 3 1 1-12 3 20 7 2 1-21 0 4 1 16 6 15 10-28 3 13 4 9 2-27 1 5 1 24 4-25 6 31 13-33 1 4 1-7 3 5 11 4 18 28 3-31 0 9 6 2 1-12 1 12 2-13 5 17 1 9 8-20 2 8 1-15 2-2 1 20 1-6 10-12 0 12 13 14 5-13 6 5 7 0 2 8 5-16 12 20 0-4 4-7 3-4 0 6 4-9 0 12 0 5 6-3 1-23 2 27 10 2 4-19 3-1 21 1 3 16 1-6 10 8 15-9 19-12 3-15 4 0 3 2 1 19 5-14 9 32 8-13 2-10 2-5 6 23 4 3 2-19 158-10 65-1 12 7 49 42-82 20-38-6-35 3-154-17-26 9-6-7-30-13-4 14 0-1-19-11-23-3-7 35-3-23 0-15 0 22-4-17-2-5-2 36-1-31-3 25-57-10-21 6-8-11-1-10 0 1-1 1-1 6 0-10-2 0-7 10-19 0-4-13-12 4-31-4-4 4-10 34-11-31-3 2-6-6-7 5-3 11-6 18 0-34-3 28-1-1-13-10 0 10-11-24-3 10-3-9-7-4-8 25-4-28-2 29 0 1 0-25-3 0-2 26 0-16-1-1 0-5-1 13-1 7-4-13-2 10-1 1-1-18-1 10-3 13 0-25 0 30-1-17-1 11-1-12-4 20-1-32-1 5-1 3-2 17-1-28 0 7-2 10-1 13 0-5-1-7 0-22-4 3-5 11-9-10-2 4-3-4-2 25-17-15-25-13 65 73 5-27 14 22 4-8 13-19 2 23 1-17 13 13 27-21 5 1 170 1 55 3 13 3 62 20 46 4 29 60"/><path marker-start="url(#c16)" marker-mid="url(#c16)" marker-end="url(#c16)" d="M1036 1254l-167 16 160 42 37 33-14-18-20 16-2 3-168-23-43 2-9 34 21 12 192 24 3-4 3-12 15-2 11 15 6 7 5-33-4 58-1 9-6-21-1-10-5-1-10 21-199 0-49 28 12 11 69-11 144 21 15 1 8 1 14-15 17 21 6 19 0-3-1 22 0-33 0 22-2-9-4 15-5 0-3-24-15 20 0-20-11 22-7-22-2 14-81 5-47-8-7-18-5 25-10 13-2-37-2 10-11 3-3 4-7-9-9 13-27 9-14 4-7-15-186 7-61-8-168 42 13-9 109 23 75-25 199 27 17-12 3 5 8-27 9 21 9-14 6-6 3-4 4 5 30 5 8 17 7 11 3-8 1-5 7-14 3 6 3 7 2-17 1 13 0 2 0 9 2-11 1 0 2-18 0 9 17 12 4-1 11 1 6-11 0 24 3-25 3 14 13 10 28 3 3-2 17-17 10 15 5-2 0-3 1 2 28-31 12 27 7-14 4 10-4 42-3-20 0 0-1 13-48-8-3-9-4 35-5-1-9-14-11 1-2-19-3 20-6-16-4 8-3 17-8-12-1-11-9 12-11-17-2 24-2 7-3-35-2 39 0-11-4 7-1-18 0-9-6 5-4 20-3-13-5 16-1-25 0 10-1-15 0 14-3 15 0-2-6-16 0 9-8 12-1-37-1 13-3 5-4 0-7 8-6 4-77-26-15 1-9 0-1 31-5-8-2-21-2 28-23-2 0-3 0-5-6-1-1-24-17 36-30-32-22 5-47 27-32-11 0 13-6-9-5-5-11-24-45 31-37-1-10 4-170-27-30 60 19-5 36-7 53-3 75 9 40-22 7 2 12 23 1-20 8 13 1-11 1 11 0-9 1 14 1 9 13-4 13-6 8-4 21 20 6 0 16-18 2-8 0 4 0 13 0-5 1 1 1-5 7-19 4 3 7 7 23 26 2-23 1-6 15 26 4-1 8-17 2-8 8 12 4 8 3 8 0-6 0 3 1-20 7-1 7 12 0 5 0-9 2 2 0 15 3-30 3 14 1 7 5-10 3 9 1 0 3 3 4-29 0 6 1 21 1 6 0-30 1 12 3 22 10-7 0-18 1 2 2-6 6-3 0 14 1 13 1 1 1-7 6-3 4-4 1-11 9 17 1-1 1-16 56-4 46-4 5 36 25-33 1 34 10 0 6-1 15-29 49 12 2 18 2-31 6 1 22 6-232 36-7 3-9-14-2 19-2 2-2-3-9-5-4-6-3 6-7-7-9 15-4-9-2-9 0 22-2-24 0 18-1-12-5 5 0 0-2-7-2 24-1-12-7-14-1 23-4-6-2-3-8-10-11 31-11-19-9-16-2 21-2-14-3-5-2 17-6-21-7 8-2 12-18-9-10 10 0 11-1-25-9 18-3-9-5-2-10-14 0 16-5-17-14 10-20 2-1-9-7 25-12 5-74-25-51-7-1 13-70 19-24-21 35 54 7-6 306 18 26-31 15-4 38 5 27-7 3 37"/><path marker-start="url(#c7)" marker-mid="url(#c7)" marker-end="url(#c7)" d="M242 1360l16 24 2 10 10-2 0 3 479-6 236 15-327 36-13-25-1 9-41 9-158-11-27 8-33-12-7 15-2 0-68 7-4-19-2 6-4 13-10-19-2 11-5-13-3-3 0-11-4 23-5-23-6 11-2 7-1-2-7-10-3 18-6-26-3 2 10 60 2 11 6-26 14-10 2 12 9 24 6-9 2 2 4 10 0-9 2-5 0-9 9 21 1-36 7 29 2 6 3-7 14-3 16 6 18-10 2-22 0 25 1 8 2-16 5-15 4 27 1 8 6-7 10-6 6 3 2 6 5 2 19-24 11 18 92-15 10 4 5 20 5-29 46 13 16-21 25 5 68 30 49-19 243 35-359 19-92-25-42 26-81-18-2-12-10 3-5 26-1-19-2 21-3-29-2 24-34-3-1 4-2 2-2 0-3-16-6 19-1 5 0-14-3 0 0 9-8-18-3 22-5-13-3-17-3 10 0-9-4 29-1-29-10 30-4-27-1 19-1-29 0 18-1-5 0-9-2 11-4 18-1-19-1 6-42 52 37-31 17-1 5 7 5 16 9-5 5-16 5-1 3 6 0 27 6-2 3 3 4-30 2-2 23 3 8 3 222 7 0-4 23-13 168 3-73 62-96 7-277-7-13-19-36-7 110 44 317 2"/><path marker-start="url(#c26)" marker-mid="url(#c26)" marker-end="url(#c26)" d="M884 1602l114 117"/><path marker-start="url(#c21)" marker-mid="url(#c21)" marker-end="url(#c21)" d="M816 1314l219 285-55-24-55 7-369-17 164 40 28 28 10 3 10-29 87 2 82-1 3 28 9-13 0 12 31 0 2-5 63-25 2 6 27 52-68-2-17-9-10 16-5 8-3-7-5 10-15-28-1-1-7-9 0 0-16 32-12-1-9-3-1-2-8-18-4-5-11 21-87 9-42-4-46-21-66 27-69 10 55 28 117-15 3 8 11 8 114-25 64-1 31 23 6-9 4-5 5-10 4 17 1-11 10 15 0-11 17-16 2 10 7-4 50-1 1 16 2-6 1 41-6 4-88 7-11-28-203 26-26-18-2-2-19 29-1-12-13 14-56-29 69 54 12-12 279-6 65 48"/><path marker-start="url(#c13)" marker-mid="url(#c13)" marker-end="url(#c13)" d="M858 1174l-5 8-42 23 49 63-7-23-11 19-1-22-2-2-15 73 10 4 2 3 34-14 164 3 9 31-173-17-36 33-1-24-28-12-4 6 0 11-5 21 31 11 2 18 8-8 225 2 7 31-8-9-1 37-38-18-122 18-91-19-338 3 403 47 8 2 85-1 9-13 24 14 14 47-30-6-25-27-14 29-55-21-7-3-4-2-3 18-81 4-18-8-1 11-160-2-5-16-29 20-77-2-10-15-207 1-5-16-19 23-22 0 8 34 3-15 1 8 1-9 5 30 9-19 8 1 1 19 1-3 19 5 2-7 38-16 38 11 8-7 4-7 28 26 14-34 5 29 4-8 5-1 1-23 42 33 7-11 3 15 2-26 15 26 12-4 3-29 16 22 1 1 16-16 2 22 3-20 5 8 1 7 1-19 0 18 3-26 4 29 1 6 9-3 2-15 4 1 1 1 1-21 3 28 12 5 8-21 6 9 20 3 4-13 9 18 0 1 15 7 1-4 1-2 6 4 10-12 7-16 4 21 4 1 0-25 3 23 9 8 12-4 0-11 2 16 3-6 2-7 4-1 4-3 2 8 0-10 1-8 2 23 5-7 5 12 1-3 2 2 12-36 5 24 0 13 5-31 1 21 87-6 13 18 11-16 3-11 3 24 9-6 6-22 8 9 1 6 6 15 1-19 21-16 5 10 6 12 1-21 36 10 3-13 9 7-2 64-13-19-1 4-63-4-11 20-146-12-11-11-10 12-4-12-10-5 0 28-3-15-9-10-1-3-4 4-1-1-3 6 0-8-3 20-4-11-8 14-2-13-2 19-3-2-4-28-2 9-4-2-1 6-1 6-1 2-1-8-1-14-6 20-1 5-2-27-1 32 0-33-1 12-2 17-1-25-3 16-1 15 0-25-2-6-2 19-6 10-1-22 0 22-1-18-4-5-4-2-1 14-3-8-1-1-1-10-6 30 0-15-2 15-3-3-1-12 0-11-3 13-3 7-1-17-1 24 0-8-7 3-9-24-1 18-2-21-1 12-3 0-5 12-2-7-4-1-1 0-2 15-2-18-4-3-3-5-1-3-1 10-1-4-3 20-1-30-3 22-5-12-2 3-2 4-5 4 0-1-2 16-1-35-5 25 0-8-2-20-8 27-2 12-6-36-2 4 0 0-2 12 0 9-1-19-5 10-2-2-1-12-6 1 0 12-3-13-1 1-1 27-3-21-5-7-2 11-7 15-1-12-4 17-3-19-4 15 0-7-2-9-4-12-5 23-1-3-2 0 0-20-3 11-5-5-7 16-6-25-5 0-4 7 0 30-4-26-3 24-1-17 0 12-3-4 0-8-3-14-4 9-3 6-15-7-8-5-8 26 0-23-2-3-3 7-1 18-3 4-13 1-12-7-3-4-7 12-7-26-8 6 0 6-10 8-1-28-3 27-2-26-1 32-19-27 0 9-9-13-12 22 35 31 0-17 10 27 10-11 0 7 1-3 1 7 1-27 3 17 4 7 10-19 2 8 1 21 4-31 1 7 0 9 4-9 2 3 0-4 4 13 5-4 3-11 1 8 2 7 20-18 3 9 5-10 1-2 0 12 8 2 24-16 10 13 14 0 4-11 1 3 12-7 1 10 1-8 9 3 34 14 16 0 7-16 11 26 0-1 14-15 30 2 3-14 11 14 1 9 3-19 13 2 1 1 3-8 2 14 4-11 3 7 0 19 2-10 2-11 2-5 2 1 5 10 3 12 3-26 7 3 14 2 3 18 3-18 2 14 7 5 12-21 11 7 5-7 6 16 3-16 7 29 32 1 0-27 115-1 85 5 102-8-324 75-18-26-8-2-84-8-175 12-108-3-6 11-1-6-1 3-17-10 325 40 113 14"/><path marker-start="url(#c17)" marker-mid="url(#c17)" marker-end="url(#c17)" d="M1049 1323l-4 32-14-4-216 32 29-10 189 14 12-5 4-9 2-11 20 41-4 22-2-20-2-1-46 27-348 12 130 14 57 16 15-3 173-23 13 11 19 43 0 14-18-5-1-8-8 11-4-11 0-15-3 18-2-16-3 31-2-2-1-3-6-3-106 7-44-10-6-20-11 12-13-3-15 17-24-6-2-18-499 66 157-3 339-18 13 5 17-7 9-11 3 11 31 12 3-3 7 11 7-3 3 5 2-6 14-10 36 19 11-28 26 14 3 9 18-3 1-15 2 7 3-18 1 30 2-18 1-1 7 22 2-33 2 11 2 6 2-5 0-1 14-14 10 14 2 6 4-13 2 2 3-4 8 30 2-3-11 14-35 6-3 1 0 1-1-1-1-6-5 9-1 1-3 19-1-33-16 30-9 1-13-1-6 4-5-2-3 0 0-7-9-14-9 0-2 3-3-5-2 13-3-20-5 0-3 11-6-4-4-11 0 29-4-11-2-5-2 2-8 19-8-19-7-2-1 14-4-19-4-4-4-2-1 24-1-3-1-1-10-4-4 6-56-25-3 27 0-6-11-21-33 36-4-24-3 11-14 1-8 1-121 7-26-16-10 4-8-7-100-5-42-6-165 51 69 16 93-11 102-9 3-9 1 18 62-13 13 24 1-17 3 8 11 11 8-18 1 24 24-8 57-12 1 1 3 2 1-12 6 15 2 8 7-5 1 8 1-12 2 12 3-2 1 1 3 3 4-18 0 16 4-10 1 11 3-3 9-6 0-24 3 25 0 10 0-19 1 3 4-17 3-4 3 27 1-18 3-10 6 25 17-10 85-13 1 12 4 5 0-17 2 1 1 9 1 5 0-3 2 19 6-29 1-4 4 3 1-1 6 10 8 11 0 9 2-17 11-12 0 22 0-18 2 2 8-6 3 6 3 27 0-18 13-8 8 3 1-12 12 13 1 13 4-25 2 33 7-4 4 1 4-7 3 5 4-17 6-11 1 20 2-11 59-4-67 56-37-18-23 9-30 2-132-2-15-4-1-9-4 4 0 3-4-8-6 11-1 0-1 6-1-14-3 27-4-15-1-1-1-4-10 2-4-12 0 25-3-19 0 16-2 14-5-31-1 8-1-8-2-2-3 15-2-8-2 19-1-8-4-5-1 22-3-15-1-12-2 9-1-20 0 6-2 24 0-1-4-4-1-20-1 1-2 8-6-2 0 8-6 5-13-11-20-1-3-1-10-1-14-2-1 7-8 15-2-22-18 14-59 9-4-31-39 24-164 18 28 36 28-39 3 9 173-5 69 25 15-28 7 25 40-21 21-2 21 17 1-5 20-8 20-1 10 3 1-1-83 38-358 20"/><path marker-start="url(#c10)" marker-mid="url(#c10)" marker-end="url(#c10)" d="M260 1340l163 50 519 36-199-8-155-8-296 13-12-1-10 14-1-2-33 20 4 17 17 9 7-21 2-8 11 16 24 11 187-17 12 10 5 1 11-7 19-2 0 6 2-23 32 23 1-29 31 27 67-21 13 7 45-8 14 12 44 9 2 3 99-15-6 32-136 20-10-22-33 18-1 4-4 2-7-4-7-19-1 10-16-5-8 20-8-27-22 37-35-2-23-13 0-8-12 7-2 14-1-33-7 25-4-17-6 4-8 20-4-36-7 28-7-11-8-12-2 15-1 17 0-3-12-12-14 9-3-16-12 20-1-24-4 0-4 6-5 15-9-27-1 19-6 10-2 5-7-7-8-19-4-13-25 14-5 20-3 3 0-8-2 2-10-21-4 20-9-4-16 11-16 2-3-10-5 5-5-15-1-13-3 27-2 5-7-16-2 0-1-7-7 19-7-8-1-14-1-2 0 18-1-13 0-9-5 16 0-1 0 15-5-29-9 9 0-6-1 20-2-17-2 4 0 9-3 2-6-10 6 53 20-29 35 22 2-12 1 20 0-6 0-7 4-11 1 29 3-21 1-3 3 18 3-1 1-24 4 20 1 10 1 0 0-6 2-11 1 7 2 3 6-10 1 7 3 2 4 0 2 8 1-16 2 11 0-29 4-3 9 5 1 33 1-6 3-17 1 9 1-8 4-5 3 10 3 0 2-13 6 28 1-16 7 11 7-13 4-17 2 31 19-29 0 2 4 3 8 19 12-23 2 8 2 13 5-20 9 3 43-2 6 27 11-6 3-3 5-4 2-5 1 3 0 12 11-19 1-5 0 12 3 1 2 15 3-26 6 24 15-30 6 17 6 20 4-35 29 29 2-27 4 9 0 12 2-2 1-15 13-8 10 18 3 4 2-16 3-7 2 6 2 13 7 2 3 8 4-14 1 11 6-8 10-3 28 16 53 7 12-33 103 5 70 6 42 12-370 20-81 1-16 8-51-7-29-9-10 0-19 11 0-10-22 11-49-6-2-2-1 12-3 5-2-13-1-7-1 30-1-11-4-10-3 10-2 11-1-27-2 24-1-1 0-27-1 11-1 5-1-4-5 24-7-12-2-23-1 12-1-14-13 36-3-29-5-8 15 70 21-3 3-24 9 10 39-9 195 2 153 50-371-15-13 6-4 32-5-33"/><path marker-start="url(#c9)" marker-mid="url(#c9)" marker-end="url(#c9)" d="M270 1239l-27 42 206 74-77-20-107 62 570 12-46 0-212 18-18 2-32-15-22 25-63-15-34 13-14-35-13 37-89-11-19 11-7-5-5-5-13 7-9 14 4-2 7 23 1-1 0-5 6-14 4 19 2-18 3-1 1 27 8-22 5 9 3-7 0 1 1 4 4 16 7-9 0 1 3-5 18 5 55 2 5 4 1-1 1-13 3-1 0 11 14-16 17 16 44 3 12-23 8-6 9 20 31-17 36 9 24-14 71 28 7-3 2-10 10 0 7-6 39 17 53-11 8 4 97 45-41-5-51 15-16-35-31-2-29 10-31 1-5-8-11 20-5-3-3-3-3 1-1-5-14 17-8-15-7 9-57-2-1-15-2 22-3-25 0 4-6 7 0 16-1-1-1 3-5-3-4-6-6-8-16-6-6 10-6-20-3 15-5 8-13 14-10-13-14 9-24-28-2 7-2 19 0-30-10 32-1-33-7 29-20 5-3 1-9-23-7 21 0-21-3 25-1-11 0-9-2-6-1 13-3-7-1-10-8 15-4 16-14-23-4-10-1 22-7-11-1-14-4 34-2 0-1-14 0-5 0 4-1-12-1-7-2 32-2-22-3 16-1-22-5 32-2-13-1-26 0 13 0 19-2-31-1 33-1-26-3 3-5-5-3-1 0 21-2-14-5 4 0-10-4 18-1 9-8-18-1 1-8 19-3 10 9-6 22 15 11-2 1-7 0 10 1 9 1-14 5 7 4 13 0-20 1-6 1 17 2-12 0 16 1 3 2-6 0-21 0 22 3 13 2-19 7 17 3-12 1 7 2-7 0 17 0-11 2-22 0 1 1-2 1 8 0-5 3 13 3 7 1-28 4 21 0 9 1-17 1 25 2-15 2-11 0-7 2-5 10 3 0 36 1-15 6-9 2 8 2-24 4 29 3 0 5-29 7 2 6 0 6 4 1 12 7 0 14-9 0 2 6 0 19 13 5 10 17-30 3-1 3 9 39-2 24 4 34 0 44 21 20-19 2 10 5-17 2 17 39-15 10-8 0-3 37 7 287 26-436 8-121 0-89 8-6-5 0 3-10 11-4-7-8 15-1-16-1 11-2-10-1-1-7 13-4-19-5 8-2 12-2 11-2-34-9 18 0-10-2 4-1-6-15-6 51 41 301 2 6 25 51-8-353 102"/><path marker-start="url(#c12)" marker-mid="url(#c12)" marker-end="url(#c12)" d="M839 1179l-13 6-13 2 2 51 45-26 8 51-58-5-1-17 43 77 19 17-42 4-27 4-5 53 11 3 255-9 8 4-177 23-3 13-77-4-13 7-230-3-277 42 35-6 189 10 10 1 264 0 25-10 60 1 9-3 16 0 6-5 11 0 104 14 12-25-37 60-5-1-2-4-41-12-3 16-26-14-2 5-35 17-1-16-9-17-86 3-25 32-6-7-31-6-94 7-20 7-4-25-6 21-10-4-14-23-4 13-6 10-8-24-33 27-8 4-12-9-3 11-11-30-5 27-14 2-6-8-9 8-29-2-149-27-2 23-12-25 0 8-5 6-19 7 2 15 3 2 2 21 3 4 11-21 7 7 9-9 1 17 4-13 3 7 4 10 0-8 0-13 2 22 10-4 0-25 1 27 33 9 12 1 9-22 8-3 3 20 3-8 3-19 0 33 5-5 2-14 23 19 7-22 0-15 11 10 1 28 5-2 6-11 1 0 8-24 15 20 13-16 4-5 5 9 3 13 5 13 0-8 4-22 2 25 9-24 0 0 3 31 2-32 4 10 6 8 6 4 2-2 0-22 3-2 9 19 4 4 0-19 5 24 1-4 3 0 1 12 6-28 7 15 0 3 0-20 9 27 5-22 2 25 0-36 0 13 1 7 1 1 5-1 10-11 2-2 0 2 6 18 0-24 12 6 5-6 3 26 6 8 8-12 1-18 3 5 5 11 1-3 1-2 1 12 1-12 0 6 1 0 4-20 5 19 13 10 1-22 11 0 6 16 2 4 2-30 5 21 9 13 3-37 6 18 4 10 5 7 2 3 3-22 14-4 17 14 6-5 2 9 6 7 1-26 130 6 17 2 75-5 12-1-107 66-153-24-6 1-5-2-2-10-2 27-14-29 0 11-1 1-4-13-1 9-1 3-2-1-12 10-4-15-4 6-2 4-6 16-2-20-2-1 0 9-3-6 0-8-7 11-1 8-4-5-9 5-3-21-3-2-3 20-9-4-3-16-3 16-3-15-1 24-2 2-3-26 0 8-1 6-3-10-3 8-4 6-3 2-2-15-6 0-7-1-7 11-12 4-1 16-18-40-5 12-1-11-1 21-1 4-1-16-1 20 0 0-2-11 0-14-2 26 0-14-4 9-3-8-1 2-6 4-2-9-2 5-25 7-1-17-4-7-11 1 0 1-4 21-1-12-4 3-7-2-3-8-2 8-2 5 0-10-9-8-2-2-3 11-1 26-5-14-6-4-3-9 0-6-6 6-1 0-9 12 0-17-3 9-8 13-3-19-2 26-9-32-12 17-4-18-7 0-3 27-2-20-1-3-3-2-1 34-1-13-2 10-7-14-1 11-7-27-4 5-2 15-1 15-4-17-1-3 0 3-2-12-2-5-1 15-3 6-6-20-4 25-2-28 0 3-3 22-2-3-5 7-1-15-1-12-3-4-11 20-12-17 14 65 9-28 9 8 16 13 3-22 10 22 0-14 10 7 0 7 5-14 2 14 1-10 0-8 7 7 16-2 24-2 23 19 3-23 10 12 12-2 13 11 18-7 64-16 1 3 0 1 8 0 10-3 23 17 45-6 2-8 2 16 5 17 3-27 24 5 16-13 10 8 31 8 32-6 153 18 97 2-304 19-22 14-313 10-53-26"/><path marker-start="url(#c20)" marker-mid="url(#c20)" marker-end="url(#c20)" d="M1052 1509l-10 32 8-6 1 22 2-7 2-3 8 40-2 10-6 3 0-36-4 33-3-18-18 14-139 1-5-16-5-9-14 14-297 0 151 43 44 13 119-2 6-26 12-8 21 21 11-2 4 4 2 5 11 4 2-5 1-6 1 12 1 2 2-21 2 23 13-16 4 1 5 8 8 5 3-5 2 6 17-25 13-10 15 2 26 3 7 46-2-2-45 2-26-13 0 8-6 6-23 15-4-24-1 3-5 27-17-26-2 17-4 5-10-16-1-8-13 24-2-23-36-7-123 21-10-10-224 8-18-16-221 19 301 42 73 10 40-8 6-14 3-3 9 15 26-25 10 20 20-20 110 7 58 9 6 16 46-30 3 18 3 9 4-21 9 26-19 20-238 8-3-21-9 6-38 7-25-13-83 30 79 34 405 42-3 0"/><path marker-start="url(#c15)" marker-mid="url(#c15)" marker-end="url(#c15)" d="M843 1189l-7 101 14 25 19-15 3 17 157-3 20-7 4 26-182 19-20 0-23-1-22 8-3-33 31 43 4 28 16-8 171 6 37-29 2 12 13 56-6-6-8-3-23-2-2 0-15-13-150 13-1-6-11 18-52-29-2 6-2 5-13 2-3 18 0 2-513 21 536 8 32 11 28-10 3 5 1-9 161 7 8-15 0-9 10 16 7-12 2 12 8-22-3 46-11-5-10 21-1 5-25-1-1 6 0 2-31-20-43 17-2 3-32-1-10-34-5 18-15 16-1 4-21-28-68-7-234 19-7 2-295-12 20 41 25 13 65 3 147 5 81-21 8 21 3-16 28 3 20 17 27-9 2 10 20-11 39 7 52-1 12-21 3 13 14-3 21-3 4 18 15-18 5 2 1-12 2-1 3-10 3 16 5 5 1-13 8 14 15-15 1 11 2 21 0-1 1-3 1-12 0-8 3 8 7 1 6 3 2-27 1 33 4-28 1 8 0 11 6-19 0 33 7-20 9-11 5 27 9 0 2-1 16-32 1 20 9 6 10 8 4 2 0-24 10 7 0-11 38 29 5-33 1 25 3 16-53-5-3 7-3-2-2 5-23 9-28-1-23-14-7 15-5-16-2 11-8 1-5-12-2 20-27-17-2 27-98-5-2-23-1 16-1-13-1 14-3-8-1 15-2 6-1-16-5-14-4 29-2-25-3 7-4-3-3 24-16-33-9 32-4-27-3 18 0 12-3-9-6-15-14 18-7-9-12-10-5 17-4-22-2 23-2-24-1 26-28-28-12-5-18 26-5-1-2-3-4-3 0-4-2 19-3-3-5-21-3 1-1 1-4 26-1-16-7-6 0 17-15-1-14-26-3 19-9-19-15 9-22 1-21 13-24 5-11-24-4 8-1 14-30-31-118 25-2-25-35 23 20 17 37 28 2-1 5 0 38-13 25 17 1-4 13-21 20 14 14-20 4 23 22-16 1-2 8 11 4 20 29-28 17 22 4-27 14 14 4 16 1-23 2 6 0-13 8 22 0-11 9-6 1 8 15-4 2 11 6-12 6 16 4-29 3 19 1 1 5-2 4-17 10 29 0-30 5 11 0-5 5 7 4 17 0-27 1 1 6 16 0-1 0 16 4-16 0 1 5-4 0 17 2-8 3-4 0 11 1-9 4-22 2 37 6-1 4 2 0-14 5 1 2-25 2 11 2 5 0 9 0-25 1 5 1 25 2-12 1-5 4-9 2 26 1-21 0-7 2 26 1-7 4 3 2 2 0-9 2-3 1 11 1 8 1 2 2-10 3-19 0 1 2 29 1-22 0 23 10-14 7 13 3-33 1 22 3 6 2 0 0 1 1-20 6 7 1 11 2 0 2-19 4 21 0-19 5 4 6-3 2-9 4 11 3-11 0 25 7-26 5 17 1-22 1 17 1 10 1 6 1-22 4-4 97-2 49 2 5-5 54-1 12 26 4-25 16 12-84 54-181-29-1 8-4-5-9 22-11 3-1-20-1-3-16 3-2 3-12-2-3 5 0-14-4 23-4-23-1 10-4 13-1-2 0 5-13-25-12 23-3 9-1-3-10-24-9 9-6-12-2 30-2 1-78-9-7-24-4 3-79 25-37 2-9-9-37-3-10-7-6 23 309 16 25 10 292 42-633 0-3-23"/><path marker-start="url(#c22)" marker-mid="url(#c22)" marker-end="url(#c22)" d="M809 1452l228 18-138 89 152 1 18-35-12 47-16 25-49-7-18-28-21 26-14 21 30 30 74-23 6-10 4 18 10 12-77 10-9 34-7-21-14 10-27 1-31-14-6-6-6 28-463 19 461-7 25 4 5 7 53 2 11 12 4-8 12-11 1 4 15 18 6-5-43 8-269 56 46 0 325 2 2 102"/><path marker-start="url(#c14)" marker-mid="url(#c14)" marker-end="url(#c14)" d="M807 1236l5-25 236 64-178-20-14-10-36-4-9 35-11 30 4 4 0-29 7 6 27 18 197-9 38 61-200-34-3 1-20 8-14 4-38 26 5 14 5 8 63 0 163-7 38 14-232 30-2 10-4-8-2-11-14-9-5 1-3-2-22 35-425 27 494-5 169-15 4 1 11 1 12-3 21 56-38 0-7 7-2 12-7-11-9-5-16 7-32-9-19-1-9 3-3 13-2-1-1-26 0 31-8-19-12-10-5 3-9 7-13 18-9-16-2 1-65-5-15 9-2 11 0-34 0 23-2-18-2 5-5 8-63 17-161-6-17-9-70 13-197-30-31 38 15 28 15-24 10 1 52 0 28 26 23-8 29-12 43 19 23-3 25-13 11 9 4 3 1-2 12 2 2-7 2 6 5 6 8-20 6 15 11-9 3-21 3 38 5-20 17-13 13 18 4 11 1 4 72 1 46-5 7-5 4-12 0 21 7-19 10 8 10-1 10 1 9-14 7 15 8-15 7 15 34-18 42-3 2 2 5 20 0-4 10-10 2 1 17-1 16 18 22-10 20-4 15 20 0-30 2-4 10 2 1 0 14 29 37-31-37 36-3 3-21 18-7 11-38-23-20-10-14 5-5 4-4-7-3 21-28 9-92-1-1-7-6-9-13 15-13-8-2 15-5-37-2 17-1 0-1-8-3 26-1 3-6-10-1-9 0-18-2 28-5-12-1-2-15-7-2 7 0-12-1 20-3-8-3 8 0 16-2-38-10 37-2-17-8-4-2 22 0-37-1 17-11-15-4-5-1 14-3 13-2-2-1 5-1-5-1-2-6-14-13 14-7-9-3-10-4 5 0-8-2 30-1-25-2 26-3-10 0 0-6 13-1 5-2-5-5-22 0 16-7-25 0 23-2-15-1 27-1-12-1-10-1 1-4-4-1 17-1-14-2 14-1-24-4 32 0-11-1 11-4-23 0 15-5-30-5 6-2 9-1-10-6 10-6 17-9-23-3 7-5 22-2-33-9 31-5-3-1 0-18-27-2 30-1-27-5 30-9-23-11 11-7 0-2 1-20-3-3 6-3-2 0-3-28-9-9 8-9-5-9 16-6-9-14 11-35-14-39 4-1-18-5-9-24 0 35 50 15-11 8 33 9-7 0 0 18-16 4 18 4 4 6-27 8 21 6-6 4 18 2-33 7-6 11 9 7-1 7-2 8 5 0 21 16-22 10-9 30 36 21-32 2-4 18 16 2 2 7-11 8 29 13-23 3-1 11 10 9 2 19 8 9-2 4-16 11 19 11-26 1 9 6 15 2-19 5-1 1 6 2 16 0-2 4-32 6 20 0-17 3 28 4-4 2-9 1-12 1-2 0 20 0-10 1-4 0 8 0 10 0 12 2-10 0-2 0-13 1 12 2-16 1 12 5-2 3-4 1-9 1 25 2 2 3-19 2-5 3 7 3-3 3-5 3 14 8 1 7 14 6-36 7 8 15 2 0-10 1 17 3 14 4-19 2 1 1 15 4-22 0-1 2 24 0-3 10-13 2-14 4 9 5 3 2 3 1 6 9-5 12-5 10-10 227 0-99 47-143-1-18 12-6-17-25 0-1 8-1-5-34 31-3-10-13-1-6 7-11-33-6 15-14 13-13-23-212 2-26 23-15-5-24 2-10-16-5-11-2 18-4-18-1 10"/><path marker-start="url(#c3)" marker-mid="url(#c3)" marker-end="url(#c3)" d="M383 1274l-119-27 2 65 236 0 7 43-131 4-18-16-69 1-5-14-8 16-6-20-1 31-12-22 108 43 18 8 7-17 316 18-106 15-250 27-28-12-23 11-33-22 48 35 203 73-191-21-45-12"/><path marker-start="url(#c12)" marker-mid="url(#c12)" marker-end="url(#c12)" d="M825 1173l-12 29 19 3 12 20 12-22 11 9 3 51-3 8-55-17 43 62 16 41-34-21-38 6 257 45-8 34-10-2-230-19-6 38-425-2-115-24-5 14-16 51 45-22 236 20 87-12 175-12 119 2 135-5-15 67-14 4-10-34-6 31-22-33-32 23-21-18-40 15-80 11-28-2-91-1-7-5-37-21-15 28-7-28-9 10-3 17-15-25-14 19-3 3-16-3-11-3-5 9-18-3-11-14-21 23-19-9-35-28-32 25-21 11-15 1-19-1-66-24-6-6-5 17-16 11-7-31-4 55 17 7 2 8 8-10 12 11 1-3 4 7 0-32 2 19 1-14 5 12 2-24 1 24 13 6 16 8 6-15 2-5 30 16 7-1 1-9 0 13 5-9 3-4 11-19 1 33 1-3 4-17 22 13 2-14 10 16 2-20 3 4 7 14 10-1 8 4 1-28 1 33 9-4 1-6 1-21 5 3 3-4 9 21 2 3 1-19 3 8 7-16 4 7 5-8 0 18 0-19 6 13 3 14 18-2 0-25 2 2 8 23 3-23 1 33 2-18 3 20 0 0 1-34 3 20 6 7 3-6 2 2 1 0 0-24 13 24 1 11 7-16 6 1 3-8 1 6 3-14 0 31 8-2 1-12 1 15 4-20 11 8 11 10 17 1 2-27 17 11 1 17 8-7 1-11 3 13 1 0 0-14 1 18 0-6 19-9 2-14 3 3 1 26 32-38 13 28 11-26 10 0 1 19 3-8 193 22 7-1 20-30-13 59-81-4-139-9-3 7-1-17-6 33-4-21-34 7-2-20-11 18-10-18-2 13-11 23 0-5-4 1 0-22-3 26-3-27-3 28-2-28-3 24-2-29-2 24-2 0-1 7-5-7-1-9-2 1-4-4-7 17-4-33-3 32-1-8-4 9-1-15-4 3-2 17-5-26-6 7-8-16-3 6-5 17-2-8-17 19-7-19-4-8-2 5-1 0-4-15-8 25-1-23-1 33-5-26-2-2-1 6 0 12-9-14-8-4-2 31-1-29-4-5-9 1-9 10-3 11-15-20-3 11-1-4 0 8-5-13-9 0 0 21-12-8-4 16-3-25-4 10-1-13-2 18-7-10-1-4 0 22-10-21-2-10-1 33-1-11-8-10 0 3-1 4-1-22-2 14-4 18-3-11-8 7-13 1 0-10-2-10 0 21-3-19-3-4-5 8-3-4-3-6-1-4-3 4-2 18-1 11 0-9-2 11 0-7-1 9-4-13-11-2-1 0 0-3-2-11 0 18-2-14-1-4-1 21-1-21-4 27-1-23-2 2-5-4-1 19-3-14-5-5 0 5-1-1-3-10-2 30-8-34-33-1-3 8-14-8 56 44 0-5 1 21 10-19 1 13 1-7 11 5 0 0 1 18 2-16 4 2 2-16 2 12 2 8 4-20 0 19 1 18 0-36 0-2 2 27 4-27 15 17 4 3 18-5 7 14 6-1 29-11 100-8 8 4 6 9 6 3 7-24 24 12 16 1 7-4 2-10 35 3 3 23 5-9 6 8 12-19 4 26 1-9 0-1 9 14 7-34 4 22 29-20 35 13-20 38-389-10-19 7"/><path marker-start="url(#c11)" marker-mid="url(#c11)" marker-end="url(#c11)" d="M816 1175l52 93-51-24-421 146 478-27 5 51-240 25-399-24-3 64 7-20 1 18 2-7 1-5 17 8 1-24 2 25 4-2 2-1 52 0 67-13 113 4 52 3 3-2 10 12 316-22 26 15 48-27 50 22 43 55-30-17-67 13-74-21-8-2-68-2-5 21-44 6-6-5-5-27-5 22-75-11-3 17-1-3-6 8-10-4-7 7-1-6-5-25-8-2-11 13-1 15-5-4 0-27-5 19-4-9-2-10 0 18-3 9-5-23-9 24-6-23-9 14-25 10-11-18-7 18-5 3-7 0-20-2-18-20-29-8 0 8-22-3 0 7-10 17-18-18-15-2-2-6-14 21-59-7-4 13-4-15-3-7-1 20-3-30-5 34 0-31-4 2-8 17-5-9-11 13-1-24 0 19-8-19-3 1-5 12-4-14 12 71 2-26 4-10 3 0 7 12 7 22 9-11 1-23 3 4 0 25 0-4 3-1 1-3 1-14 2 30 6-28 0 9 0-11 1-3 2 6 0-3 2-1 1 31 2-16 5-5 2-14 1 26 5-16 6-3 0 25 3-2 3 2 10 0 0-4 6 4 11-3 1-3 3-11 4 10 3 12 0-7 7-10 1-12 0 9 3-18 1 26 0-20 5 13 6 19 2-31 2 32 10-15 2-22 6 21 3-13 8-10 0 37 5-19 6-5 2-6 1 8 1 10 0 0 1-1 14 7 2-16 4 2 1 17 3-11 4-19 7 31 1-27 1 14 0 2 2-4 0-9 0 13 3-5 15-11 5 21 26-20 1 24 16-25 4 24 1-16 4 4 8 4 1-11 0-6 4 3 5-4 12-3 11-2 2 26 2 4 3-20 4 6 10 8 1-7 6-15 10 24 1-7 2 8 2-14 1 16 2-2 1 9 1-23 18 7 4-16 1-1 5 4 1 28 7-23 2 18 4-3 7 2 1-25 0 27 1-25 4 12 2-15 7 25 13-21 10 13 10-19 6 11 2 25 9-27 1 20 16-9 7 7 232-8-238 24-17 9-16-4-21 16-15 0-3 8-9-10-6-1-11 2-10-26-14 15-5-11-3 26-1-21-2 30-3-27 0-4-6 2-32 2-36 1-16 18-2-7-3-6-8 21-1-7-27-29-2 9-1-6-12 16 0-19-14 3 0-2-1 23 0-22-6 5-6 0-3 14-22 2-8-18 0-1-2-7 0 39-7-21-2 11-1-11-8 7-4-1-3-15-1 9-1 14-2-31-3 9-2-3-6-5-11 17-12 17-1-26-1-8-1 21-3-21 0 18-2-17-1 4-2-4 0 16-1 18 0 0-3-1 0-23 0 6-1-17 0 17-1 10 0 8-1-34-1 30-2-13 0-3-1-12-3 15 0 15 0-10-1-21 0 28-4-6-1-3-1-1-2-8 0-1-1 10-1 4 0-17 0 9-3 8 0 4-2-24 0 10-1 15-1-10-5-10-1 14-1 4 0-22-4 9-1 15-48-31 24 44 13-2 4 8 12-2 15 2 4 13 6-23 2 36 0-30 1-4 0 6 11-2 28 17 20-16 23 2 46-9 125 20 48-19 33 33 8-26 1-3 310 54-647 14-3 5-19-9 8 30 265 5 474 34-732-14"/><path marker-start="url(#c13)" marker-mid="url(#c13)" marker-end="url(#c13)" d="M868 1197l-9-16-18 3-22-8-3-12 30 73 16 23-7 7-13 33 1-9 202 48-2 17-15-7-3-2-155 13-3-14-6-14-25 2-7 9-30 21 52 12 205 52-6-18-14 16-112 9-93-7-28-15-14 21-3 1-492 19 364 26 133-1 15-10 25 5 4-19 90 18 2-12 17 11 38-7 7 12 91 38-120-18-28 13-29-12-3-13-10-2-5 9-18-2-44-8-32 30-4-31-2 33-3-31-5 37-41 0-35-11-3 10-14-3-61-3-102-18-3 9-61-3-105 7-72-21-2 33-5-37-2 25-18 1-2 4-11-4 0 43 0 5 20-34 3 19 15-14 4 24 2-25 5 28 22-13 3 8 34-5 9 7 12-15 13 14 14-8 26 10 15 2 9-14 13 11 1-9 4 10 3 5 2-11 4 2 4 9 14-18 0-4 9 17 9-22 7 26 1-9 1-24 6 20 2-4 8 19 4-15 15 2 6-7 6 19 2-19 2 3 2-5 2 2 3 19 1 1 3-24 3 15 1-5 0 8 4 1 0-13 1 18 1-36 0 13 3 7 2-12 2 21 1-14 9 1 11 7 4-9 2 16 6-17 23 21 3-6 13-6 2-9 5 21 3-16 8 18 1-11 12-25 11 29 11-17 3-10 10 17 6-4 5 7 10-23 1 37 3-34 3 10 1-9 6 23 10-14 8 5 51-17 29-1 51 1 10 33 2 0 2-10 1-13 32 21 8-20 11-2 2 3 25 2 1-11 6 0 15 26-26 23-20-13-37 5-62 18-105-16-7 0-4 3-36 16-4-20 0 11-3 14-5-18-3-1-4 0 0 26 0-19 0 10-1-25-5 24-3-24-2 14-3 2-5-7-2-7-2 24-3-16-2-3-6-12-2 26-2 12 0-16-1-13-5-7 0 3-1 15-6 11-3-9-1-20-1 29-3-20-2 26-2-6-4-13-4 10-5-17 0-7 0 10-1 11-6 1-3 5-3-18 0-8-2 11-3 21-2-16-1 17 0-37-3 31-2-24-1 19-2-9-11-4-2 8 0 8-5 1-2 5-2 1-5-23-2-6-14 3-12 22 0-31-1 0-3 12-4 4-4-14-2 9-9 11-1-7-4-4-2-1-2-8-2 17-4-8-1 11 0-10-1-14-1 10-9-9-9 16 0 10-1-11-1 12-2 2-4-27-6 2-4 18 0-21 0 15-1-16-7 28-6-8-2 18-3-13 0-6-1-3-2-4-1-2-7 5 0-1-11-3 0 13-7-7-1 16-22 0-16 4-14-7-3-10 0-21-11 15-17 3-2 21-3-16-7 14-6-24-14 8-16-21-4 16-6 2-3-18 0 9-10-8 0-1-4 16-2-7-11 3-7-1 34 30 10 24 4-7 6 15 8-18 14-13 4 34 10-9 6-18 3 1 2-10 1 4 1-4 2 24 2-21 0 22 23 9 12-23 19 8 1 2 9-18 7 2 4 8 8 9 1 4 16-2 13 12 27-31 8 0 32-6 11 28 6-5 9-23 3 1 19 2 7 10 23-13 1 0 0 11 4 14 0-17 1-6 10 3 6 29 1-28 2 8 8 7 7-5 0-15 3 3 5 4 1 3 6-6 9 11 38-11 43 19 17-10 1-4 1-10-69 42-78 5-149 0-39-2-44-5-7 23-19-11-25 8-1-9-5-9 0 9-1 15-2-5-25-13-4 36 35-2 292 44 94 55"/><path marker-start="url(#c5)" marker-mid="url(#c5)" marker-end="url(#c5)" d="M377 1303l413 47-87 3-437-17-1 22-4 0-5-18-14-16 13 74 2-17 11 12 1-2 0-8 14 11 4 4 15-14 79 15 7-18 16 15 177-7 31-6 38 32-19-6-12-1-213 20-1-8-2 0 0 16-5-6-12 8-6-9-2 1-8 3-6-26-3 16-44-2-25 16-21-31-14 35 13 3 25-4 10 0 4 7 31 10 30-1 8-15 1 25 17 4 3-4 84 35-2 18-34-2-87-30-12 28-16-17 2 46 19 9 9-14 41 5-22 43"/><path marker-start="url(#c19)" marker-mid="url(#c19)" marker-end="url(#c19)" d="M1076 1433l-4-5-10-12-8-8-3-7-7 59 12-15-16 69-232 31 132 6 2-15 96-10 0 7 6 26 4-10 3-8 6 7 1-28 11 24 3 30-2 5-4 7-14 6-15-32-9 34-48-34-14 31-14-16 0 8-8 1-1 5-7-11-3 21-4-15-16-7-2 16-2 4-5 2-8-2-2-37-10 37-2 2-1-9-4-30-3 9-14 21-34-12-61 20-442-1 249 23 161 7 71-10 12 9 61-15 1 17 1-23 1 4 8 3 1 3 13 6 2 2 1 8 3-1 1 8 2-14 5-18 1 4 1 17 8-6 1 2 0 7 1 6 7-32 3 33 2-19 0 0 2-5 2-10 1 33 8-16 2-4 1 13 1-6 8-3 2 2 4-6 4 6 9 16 5-24 2 3 4 1 18-15 17 28 7-23-12 70-7-36-5 11 0 7-1-13-2 5-5 1-10 22-2-27-1 4-3 16-10-19 0 0-2-4-7 17 0-13-4 5-5-2-2 0-4 19-3-3-1-12 0-3-14 5 0 19-1-25-1 0-2 15-2-23-1 17-7-15-24 13-118 9-8-14-9-2-2 23-1-11-1-3-1-1-1-9 0 19-1 4-3-24-1 5-1 22-1-3-3-21-10-9-8 29-1-2-6-4-35 4-6-30-5 5-1 18-59 3-17 3-98-6-152 49 241-17 90 6 16 12 19-24 9-10 1 26 5-16 19 7 0-12 19 28 3-19 2-10 156 10 38 4 103-17-325 45-1 14-29 2-29-10"/><path marker-start="url(#c2)" marker-mid="url(#c2)" marker-end="url(#c2)" d="M268 1277l-11 18 5 19 5-12 1-20 192 74-12-12-132 210"/><path marker-start="url(#c1)" marker-mid="url(#c1)" marker-end="url(#c1)" d="M375 1303l0 12 17 0-12 44-116-39-21 15 45 73 31 118"/><path marker-start="url(#c8)" marker-mid="url(#c8)" marker-end="url(#c8)" d="M882 1339l-637 57 20-1 300-7 364 34-145-6-80 16-83 2-5-16-17 8-86 7-6 0-55-1-82 4-74 4-6-1-2-26-2 18-20-14-10 20-5-17-12 10 6 48 5-14 8 9 1-15 4 7 4 1 11 9 3-26 11 25 2 0 1-15 1-5 1-10 2 29 11 5 9-5 4-1 4 3 18 3 14 1 10-28 9 6 3-9 6 22 3-15 7 21 2-3 3-28 36 10 8-2 11-5 33 8 28 24 1-16 57 10 2-17 0 4 18 10 21 4 15-25 28 10 16 6 5-5 22 54-60-7-93 2-10-15-13-2-15-1-10 1-16-10-20-1-7 10-5 19-2-26-5-5-6 22-6-1-19-8-7 26-4-21-1-8-1-2 0 26-12-19-1 14-11-21-3 2-8 11 0 13 0-26-2 14-1-7-8 1-1 24-9-35-3 34-2-8 0 9-12-28-2 11 0-3 0 4-6-9-1 12-4 12-8-6-7-18-1 14-1-2-5-14-1-11-1 5-29 5 31 64 13-36 3 38 6-37 3-1 5 9 1 5 0 5 1-11 3 12 1 0 4-3 0-4 7-7 0 7 3-7 6 19 1-15 1 4 5 8 5 9 3-20 2-11 2 16 3 14 16-7 7-16 4 0 6 18 1-13 104-7 28 20 26-24 18 1 86 2 12 8-36 44-139-15-102 12-46-5-8 8-10-5-5-7-3 0-5 4-17 1-3 17 19 26 38 19-15 36"/><path marker-start="url(#c4)" marker-mid="url(#c4)" marker-end="url(#c4)" d="M242 1314l22 2 13 3-18 66 103 5 26 3 18-17 40 7 127-10 51 22 61-13-194 50-88-29-22 18 0 5-32 8-27-12-8-11-20-3-44 17 68 40 10-12 25-11-26 61-21-8 226 64"/><path marker-start="url(#c9)" marker-mid="url(#c9)" marker-end="url(#c9)" d="M842 1151l-16 48 138 161-722-26 14 62 338-7 207 5-1 13-14 9-220 21-26-19-17 17-132-1-22 1-46-6-15 2-38 7 0-18-4 13-17 5-6-14-5-17 6 42 8 5 3-6 6 9 9 21 5-26 1 9 4 17 15 1 39-4 37-14 2-12 2 28 2-10 75-15 4-8 10 16 17-13 9-2 16 12 3 17 15-15 21 9 35 6 12-19 5 20 22-30 18 33 2-22 0 17 28-16 7 23 124-37 16 47-67 18-9 5-37-28-7 14-17 2-1-15-9 19-16-4-6-9-6 14-1-6-15 11-7-3-9 6-3-30-3 2-50 19-3 7-1 3-5-32-5 13-11-3-10 2-15 14-2-9-6 0-6 2-23-10-4 26-1 0-3-5-30-15-5 14-1 8-1-6-8-14-2-2 0-12-2 1-8-5-2 25-1-23-2 11-1 13 0-11-18-5-3-10-2 8-2-7-2 27-1 10-2-3 0-13-3-1 0-17-2 30-3-11-3 6 0-8-1 14-3-19-8 14-9-5-4 7-2-15-9-2-1 17-4-10 0-6-1 9-3-17 0 22 0 8-3-24-1 17-1-19-3 15 0-3 0 14-2-5 0 2-2-10-3-3-2-18 0 3-2 26 0-20-5-13-1 2-1 19-6 4-2-21-6 30 0-23-17 12-2-4-11-17 12 58 4-14 8 4 29 6 4-8 2 12 2 0 7 4 1-16 2 13 1-22 1 2 1 23 3-18 1 9 1-8 1 10 0 12 1-12 0 18 1-15 1 6 0 0 2 9 0-1 2-15 0 6 4 11 3-26 1 14 1-2 12-7 1-2 1-3 0 15 3-22 1 9 0 24 2-14 2-4 1-1 1 1 2-8 2 15 2-25 5 14 0-11 1 15 3-4 2-8 8 4 0-9 1 2 3 33 5-26 6-3 6 0 1 12 0-9 12 14 8-16 5 10 22 0 3-6 6 2 5-14 8 6 3 9 3 6 35 3 33-25 6 11 68-11 9 24 5 12 0-31 8 2 2 2 1 3 0 0 27 13 14-15 10-10 43 18-2 29-47-7-49 11-5 26-90-22-89-13-10 13-21 12-16-23-47-3-9 5-1 2-4 27 0-20-4-3-2 10 0-7-5-10-3 6-1-1-4 14-2-12 0 0-1-7-2 0-2 1-4 19-4-24-2 9 0-3 0 10-1-16-2 33-1-4-18-30 4 40 7 14 38-8 7-1 14 20 277-15 40 24-60 6"/><path marker-start="url(#c27)" marker-mid="url(#c27)" marker-end="url(#c27)" d="M1023 1780l-308 76"/><path marker-start="url(#c16)" marker-mid="url(#c16)" marker-end="url(#c16)" d="M832 1250l224 66 5-3-33 34-193-20-25 22 23 38 35-20 170-3 11 7 7-4 7 52-42-12-155 29-9-21-56-11 6 67 9-27 21 35 8-19 3 2 174 12 2 3 15-1 7-19 29 52-1-4-10 11-3-27-10 4-1-9-9 7-8 3-1-1-3 24-1-32 0 0-37 16-31 11-4-3-20-21-61 31-2-24-31-11-4 27-9-11-27 19-227 35 55-31 162 11 9 18 5-18 10 12 9 7 3-19 8 1 5-11 6 25 13 1 12-12 1 2 1-13 1-5 7 4 1 3 1-3 4 13 10 3 3 3 10 2 9 3 2 10 7-21 4 2 9-13 4 7 5 25 2-19 13-1 3 11 9 5 7-20 2 15 30 3 2 0 4-28 1 12 4 21 11-8 7-27 17 8 6 12 4 21-7-1-43 30 0-17-5 3-4 16-9 1-4 0-5-32 0 16-2-12-2 16-13-5-2-6-3-5-3 9-3 7-3-10-1 6-7-6-8 18 0-1 0-13-15 1-4 5-12-12-1-10-2-2-8 4-2 25-6-18-7 28 0-37-8 16-4 19 0-20-5-17-3 21-2 6-99 1-4-19-5 8-1 1-10 15-1-2-5-27 0 18-3 10-8-4-21 8-4-1-34-11-9 13-14-25-55-1-12 24-4-5-61-14-7 7 0 9-150-13-78-13 159 67 23-25 7 15 10-17 29 1 1-3 2 23 2 0 12-1 1-16 3-9 27 22 9 14 4-1 0-29 3 30 2 0 4-1 2-33 9 33 1-31 0 3 1 7 11-1 42 14 4-28 7 29 4 2 10-12 3 13 6 5 4-25 1 10 3-1 4 6 3 8 0-1 5-2 1-26 2 15 1 12 2-20 6 24 0 1 1-29 3 2 0 23 3-17 6 11 1-24 6 12 3-2 4 18 0-16 4-10 1 23 4-17 0 17 3 1 0-12 6 4 2-6 0 9 3-23 0 28 3-12 2 5 2-3 0-10 4 10 5-6 0 24 1-7 106-24 36-6 17 15 6 11 7-12 3-4 13 6 11-14 2 19 1 16 1-26 6 11 9-12 7-5 3 31 2-8 2 0 0-22 7-2 35 18-59 26-9-7-209 8-9 13-2-22-4 4-1 12-1-13-4 35 0-31-7 6-11-8-1 12-3-12-3 15 0 0-1 18-3-14-2-24-7 31-5-2-2-22-5-4-3 15-12-18 0 33-10-18 0-15-1 23-2 6-2-26-8-2 0 20-5 10-1-22-3 27-4-21-1 19-2-20-6 1-7 7-6-23-38-1-47 17-18-9-16-2-23 2-11 19-22-18-9 15-7-2-87 2-3-7-79 2-16-16 82 70 13 2 8-19 137-3 121-8 66 5 25 9 0 8 9-15 13 17-72 19-250 0-68-1-5 10-1-11"/><path marker-start="url(#c10)" marker-mid="url(#c10)" marker-end="url(#c10)" d="M845 1253l141 102-69 30 46 54-31-25-538 6-26-4-134 50 3 7 9-1 15-18 0 24 2-16 0 14 2-28 1 28 22 0 11-15 18 16 59-10 11 3 1 5 51 1 4 0 12-13 36 14 16-13 56-1 16-16 13-2 1 18 18-9 53 21 48-5 35-23 33 13 1 9 143-14 47 15 26-8 16-8-11 30-214 20-36-4-13 0-9 12-30-19-11 16-18 1-7-19-4 21-6 2-4-5-19-8-3 3-9 6-2-6-3 10-14 3-10-2-1-17-8 4-3-20-5 34-5-11-3-3-2 17-1-30-12 15-1-6-5-2-3 10-14 11-26-25-1 26-7-14-12-17 0 33-14-11-10-16-3 6-12 4-8 4 0-25-8 25-25-2-1-8-21-8-6 13 0-4-1-13 0 22-6-6-9 14-3-32-43 22-1 10-4-7-4 11-1-21-7 10-4-4-3-7 0-7-8 26 0-3-4 0-5 2 0-34 0 14-4 17-3-4-1 5-3-3 0-28-8 24-6-11-1-9 6 43 11-1 13 12 3-16 1 9 4-9 1 17 1-20 2 21 7-5 1-12 1 6 7 1 1 23 0-26 0 14 2 1 6 15 0-22 3 4 0-3 1 11 1-19 1 28 1-37 0 30 1 9 1-4 1-21 3 23 4-5 5-13 2-11 2 31 1-15 3-20 1 6 3 23 3 2 4-23 4-6 1 23 7-12 2 18 1-30 0 3 0 22 4-20 0 2 1 18 1 6 4-23 2 1 1 3 0 10 7 2 10-15 4 16 12-1 1-28 4 24 11-15 4-5 12 13 6 13 2-22 1 5 2-3 2-5 7 0 5 12 5-19 14 16 5 12 11-17 10-5 2 2 9 5 1-5 37 25 1-32 33 2 3 5 26-6 5 11 5 0 4 15 15-10 6 4 2-19 10 21 1-18 2 17 7-7 2-14 7 7 1-5 17 19 80-1 176 3-255 37-44 3-2-21-2 2-22-6-2 33-3-31-4 24-26 7-43-29-51-2-29 13-20-12-4 15-6-15-4 0-8 10-32-2-2 17-8 2-1-12-13-6 0 26-19-21-3-14-1 18-4-17-7 27-2-6-2-4-1-19 0 10-1-9 0 10-1 6 0 14-2-30-1 28-3-12-3-12 0-6 0 6 0 17-1-5-2-14-3 12-1 16-4-24-3 4-1 11 0 3-3-21-4 22-2-2 0-2-6-12-5-8 30 52 2-12 10 21 1-16 6 3 89-3 268 1 25-1-94 63"/><path marker-start="url(#c6)" marker-mid="url(#c6)" marker-end="url(#c6)" d="M489 1347l-248 5-5 6 23 34 5 5 17-30 2 24 99 8 46-6 127-27 104-1 33 58-7 11-38 1-32-6-51 8-48-34-14 6-11 27-33-1-38-16-3 15 0-2-11 0-18-13-1 9-10-14-10-6-12 30-4-2-37 2-9-22-13 4-10 9-4 3 0-10-1-8-1 24-8-33-1-3-10 22 11 17 22 21 3-3 2 7 6-7 1 8 1-3 8 10 0-6 7-2 9-7 6 10 20-6 3 4 7-26 2 28 1-3 3-25 27 10 39 1 118 5 74-5 85 13 305 47-240-29-261 32-73-18-79 13-22-10-11-16-2 13-18-14-5 27-1-20-2-10-18 9-34 24 53 7 24 1 2 31 82-31 14 4 86 23 140 19-214 35 172 7"/><path marker-start="url(#c23)" marker-mid="url(#c23)" marker-end="url(#c23)" d="M1051 1606l11 39-93 35-14-21-52 44 40-18 90 35 43 19-78 2-11-2-3-3-9 0 0 11-6-12-221 58 248-25"/><path marker-start="url(#c21)" marker-mid="url(#c21)" marker-end="url(#c21)" d="M824 1210l-15 71 161 170 72 82-8 53-3 4-795 17 488-5 120 2 59 16 3-4 13 3 17 13 8-25 5 23 3-6 1 7 4 4 9-15 16 16 75-17 9-2 10 7-1 23-1 18-79 5-1 8-4-11-1 3-2-10-2-3-3 16-1-25-1 30-9 0-3-33-4 18-5 16-8-7-6-6-6 5-5-7-6-1-1 16-9-23-12 8-19-8-174 20 24 11 18-3 166 28 8-21 35 7 3 8 6-13 13-6 24 14 65 14 1-7-136 23-176 5-85 11-23-14-413-11 774 58 56-2"/><path marker-start="url(#c24)" marker-mid="url(#c24)" marker-end="url(#c24)" d="M1040 1544l3-1-89 41 95 89-342 20 255 48-18-11-201 64 1 69 328 26"/><path marker-start="url(#c0)" marker-mid="url(#c0)" marker-end="url(#c0)" d="M270 1257l0 37 119 16 12-16-98 39 172 62 5-14-144 104"/><path marker-start="url(#c17)" marker-mid="url(#c17)" marker-end="url(#c17)" d="M832 1318l209-3 20 20-15 5-1-6-19 4-168-4 182 53 4-4 16 10 1 36-9 3-12-7-11-2-9-10-144 20-1-18-2 15-16-4 192 31 4-13 24 57 0 8-1-2-1-5-3-4-4 8-12-16-6 23-10-20-6 14-4-5-134-8-35-3-2 4-6 8-9-23-21 30-345 48 56-13 187-2 3-1 84 18 10-11 4-21 1 5 20 12 12 3 4 0 15-16 3 24 5-9 0-16 11-7 1 17 7-5 3 2 7 18 7-6 17-17 14 17 7-1 68-3 3-1 1-21 2 26 5-22 3 9 6-2 1 16 16-7 7 0 1-16 6 34-39 33-4-29-6 26-1 5-4-8-7 6-7-3-4-10-4-19-4 16-2-13-6 10 0-10 0 24-2-14-1 8 0 6 0 6-7-20-5 8-3-2-1-5-3 6-3 8-6 1-2-3-1-25-4 27-2-28-6 18-1-7-4-13-1 25-5 10-1-4-9 1-5-26-3 20 0 1-1-1-4-26-1 39-2-5-2 3-1-25 0 3-4 16-1 4-5 2-4-11-2-6 0 2-2-7-1-15-2 7-5 19-27 0-12-18-45 27-121-15-2 8-184 10 0-5-52-33-74 46 157 32 7-27 12 17 27-5 10 4 2 11 1-2 1-13 6-22 0 17 5 8 2 11 4-33 11-2 13 4 1 14 9 17 28 1 4-9 4 10 3-21 6 2 3 19 1-12 0 8 4-7 19 6 11-10 5 14 9-6 1-1 0 7 3 0 6-13 4 0 4-20 9 11 4-4 3 13 5 5 6 6 19-6 2-2 1-17 4 7 10 1 70-12 3 26 1-8 5-5 13-19 8 17 12 6 10-20 3 14 0-15 3 4 2 16 10-18 1 17 5-17 3 13 5-11 8 12 7 1 9-8 2-5 0 30 1-17 14 10 5-21 7 27 1-22 1 2 2-7 3-3 3-1-16 46-14-7-1 7-9 0-16 1-86 8-105-4 0-15-1 11-5-11-3 29-9-18-6-8-8 1 0-2-5-2-3 15-1-13-2 23 0-7-1 2-4-13-2 15-5-20-1 10-1 5-3-12 0 2-3 1-9 4 0 0-5 23-15-17-1-8-1 12-1-14-3 0-1-7-2 6-8 4-14-8-3 16-3-6-22 13 0-17-1-8-11 11-20 4-2-2-4 0-15-5-4 0-5 10-20 8-34-9-4 2-40 1-38 3-53-23-37 24-46-25 338 46 12 9 12-1 52-9 15-7 18 8 4 8 4 45-127-8-213-5"/><path marker-start="url(#c25)" marker-mid="url(#c25)" marker-end="url(#c25)" d="M1037 1633l-132 67 73 41-21-3-13-14-47 26-148 46 261-11-290 80"/><path marker-start="url(#c7)" marker-mid="url(#c7)" marker-end="url(#c7)" d="M988 1360l-751 21 14 14 8-5 19-7 16-15 2 20 483 44-140 8-35-30-30 12-14-8-4 9-55 3-106 14-11-17-7-18-10 28-33-4-11-4-44-11-6 21-2-35 0 10-16-2-13 40 21 0 3-7 2 8 0-1 1 2 3-9 8 0 4 22 7-8 7-4 7 17 6 4 2-6 9-2 11-8 7 18 9-8 15-13 4-3 8 11 1 18 3-34 3 28 1-12 1 10 1 5 1-6 0-21 2 18 1 1 19-17 36 22 15-1 1 4 23 3 18-28 0 14 19 0 27-16 5 7 31 0 14 6 17-5 37 12 30-3 7-21 0 23 7 6 34-18-90 44-1 17-8-32-21 12-26-15-137 23-14 14-16-28-2-4-5 18-8 15-4-13-16-20-19-5-2 20-1-12 0 14-4 0-11-2 0-1-4-4-5 12-4-17-4 18-1 3 0-14-1 14-8 2-2-14-1 1 0-19 0 25-9 5 0-8-3 0-1-24-7 20-1-9 8 63 20-13 10-7 9 9 5-17 2 3 3 3 16 6 84 20 270 5-170 20-190-12-21 0-11-8"/><path marker-start="url(#c18)" marker-mid="url(#c18)" marker-end="url(#c18)" d="M1044 1293l15 31-26 33 18 53-1 25-1-15-2 0-2 16-5-4-20-7 42 85-6 5 0-5 0-10-7-19-9 6-4-7-15 23-2-11-104 2-112 8-300-10 62 59 1-2 239-12 6-17 24 10 43 27 12-2 4-6 2 9 73-5 66-19 3 0 3 19 6-20 2-7 3 32 0-22 5 7 0-18 4 27 7-22 1 17 10 30-3-8-1 20-2 3-2-22-1 15 0 3-4-9-4-16-11 7-2-5-10 14-1-18-4 19-3-19-13 1-26 25-8 8-1-8-4-21-2 1-9 12 0 8-6 8-1-20-4-14-1 12-2 16-6-28-1 8-1 22-9-29-1 30-1-8-5 11-14-14 0 4-2 15-1-31-1 24-2-4-2 2-4-9-1-21-1-1-1 39-1-16-6 4-3 11-3-16-1 16-2-2-2-36-13 12-12-5-170 18-390-5 176 57 65-15 15-3 47 8 13 0 2-5 18-11 17 20 9 5 11-20 15-14 35 29 7 4 149-21 11 3 5 1 9 13 0-24 1-4 5 30 2-30 0 1 3 6 3-2 0 0 5-3 0 7 11 7 4-5 0 7 2 4 1 0 2 2 1-3 10 4 1-14 2-12 3 0 2 34 1-28 3-2 8 7 4 7 3-12 1 22 1-14 1-3 1 23 8-5 2-3 6-9 2 2 1 13 2-5 0 5 6-12 4-4 6 10 36-27 16 28 2-20 1-3 2 20 0 14 0 1-4 15-40-14-14 33-2-27-3 6-8-10-4 9-10 3-25-7-36-8-1 1-2-2-1 4-2-1-5 0 0 2-4-4-27 18-103-6-1 26-11 0-7-37-5 33-2-15-1 2-1 17-2-10 0-15-10 18 0-11-3-15-1 1-1 25-1 8-5-30-3 12 0-5 0 11-3-2-1-5-3-5-4 22-1-17-2 17-2-32-18 6-7 26-2-36-14 18-7 19-13-6-2-3-40 3-8-26-28-3-267-4-66 45 271 18 13-21 13 12 70-8 50 11 21 12 2-16 8 0 1 17 1-9 0-18 1 23 2 7 1-14 4-16 13 31 2-2 2-21 4 9 17-8 11-6 2 25 9-21 9 21-95 15-88-5-97 9-144 17-7-3"/></g></svg></body></html>
